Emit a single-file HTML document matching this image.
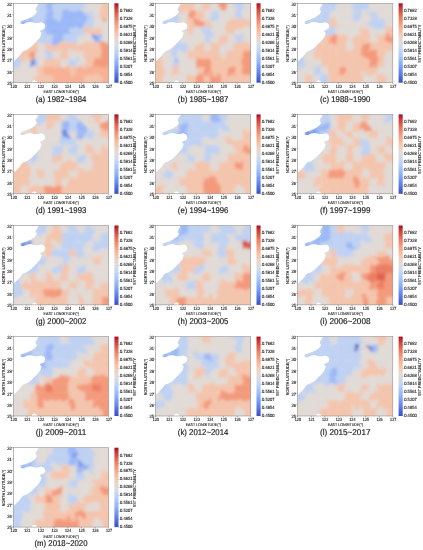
<!DOCTYPE html><html><head><meta charset="utf-8"><style>html,body{margin:0;padding:0;background:#fff;}svg{display:block;text-rendering:geometricPrecision}.t{font-family:"Liberation Sans",sans-serif;font-size:4.7px;fill:#111;stroke:#111;stroke-width:0.12px}.al{font-family:"Liberation Sans",sans-serif;font-size:4.1px;fill:#111;stroke:#111;stroke-width:0.1px}.cap{font-family:"Liberation Sans",sans-serif;font-size:8.4px;fill:#222;stroke:#222;stroke-width:0.18px}</style></head><body>
<svg width="423" height="550" viewBox="0 0 423 550">
<defs>
<linearGradient id="cw" x1="0" y1="0" x2="0" y2="1"><stop offset="0.000" stop-color="#b40426"/><stop offset="0.050" stop-color="#c53334"/><stop offset="0.100" stop-color="#d65244"/><stop offset="0.150" stop-color="#e36c55"/><stop offset="0.200" stop-color="#ee8468"/><stop offset="0.250" stop-color="#f4987a"/><stop offset="0.300" stop-color="#f7ac8e"/><stop offset="0.350" stop-color="#f6bda2"/><stop offset="0.400" stop-color="#f2cbb7"/><stop offset="0.450" stop-color="#e9d5cb"/><stop offset="0.500" stop-color="#dddcdc"/><stop offset="0.550" stop-color="#cfdaea"/><stop offset="0.600" stop-color="#c0d4f5"/><stop offset="0.650" stop-color="#afcafc"/><stop offset="0.700" stop-color="#9ebeff"/><stop offset="0.750" stop-color="#8db0fe"/><stop offset="0.800" stop-color="#7b9ff9"/><stop offset="0.850" stop-color="#6a8bef"/><stop offset="0.900" stop-color="#5977e3"/><stop offset="0.950" stop-color="#4961d2"/><stop offset="1.000" stop-color="#3b4cc0"/></linearGradient>
<clipPath id="clip"><rect x="13.3" y="3.3" width="95.3" height="79.4"/></clipPath>
<filter id="bl" x="-10%" y="-10%" width="120%" height="120%"><feTurbulence type="fractalNoise" baseFrequency="0.12" numOctaves="2" seed="3" result="n"/><feDisplacementMap in="SourceGraphic" in2="n" scale="9" xChannelSelector="R" yChannelSelector="G" result="d"/><feGaussianBlur in="d" stdDeviation="1.8"/></filter>
</defs>
<rect width="423" height="550" fill="#fff"/>
<g transform="translate(0.0,0.0)">
<g clip-path="url(#clip)">
<g filter="url(#bl)">
<rect x="9.30" y="-0.70" width="12.24" height="12.24" fill="#cfd9ea"/>
<rect x="21.24" y="-0.70" width="8.24" height="12.24" fill="#cfd9ea"/>
<rect x="29.18" y="-0.70" width="8.24" height="12.24" fill="#cfd9ea"/>
<rect x="37.12" y="-0.70" width="8.24" height="12.24" fill="#bfd1f2"/>
<rect x="45.07" y="-0.70" width="8.24" height="12.24" fill="#9bb8f6"/>
<rect x="53.01" y="-0.70" width="8.24" height="12.24" fill="#bfd1f2"/>
<rect x="60.95" y="-0.70" width="8.24" height="12.24" fill="#bfd1f2"/>
<rect x="68.89" y="-0.70" width="8.24" height="12.24" fill="#bfd1f2"/>
<rect x="76.83" y="-0.70" width="8.24" height="12.24" fill="#bfd1f2"/>
<rect x="84.77" y="-0.70" width="8.24" height="12.24" fill="#e1dad6"/>
<rect x="92.72" y="-0.70" width="8.24" height="12.24" fill="#e1dad6"/>
<rect x="100.66" y="-0.70" width="12.24" height="12.24" fill="#f4c5ad"/>
<rect x="9.30" y="11.24" width="12.24" height="8.24" fill="#cfd9ea"/>
<rect x="21.24" y="11.24" width="8.24" height="8.24" fill="#cfd9ea"/>
<rect x="29.18" y="11.24" width="8.24" height="8.24" fill="#bfd1f2"/>
<rect x="37.12" y="11.24" width="8.24" height="8.24" fill="#bfd1f2"/>
<rect x="45.07" y="11.24" width="8.24" height="8.24" fill="#9bb8f6"/>
<rect x="53.01" y="11.24" width="8.24" height="8.24" fill="#bfd1f2"/>
<rect x="60.95" y="11.24" width="8.24" height="8.24" fill="#9bb8f6"/>
<rect x="68.89" y="11.24" width="8.24" height="8.24" fill="#9bb8f6"/>
<rect x="76.83" y="11.24" width="8.24" height="8.24" fill="#9bb8f6"/>
<rect x="84.77" y="11.24" width="8.24" height="8.24" fill="#bfd1f2"/>
<rect x="92.72" y="11.24" width="8.24" height="8.24" fill="#e1dad6"/>
<rect x="100.66" y="11.24" width="12.24" height="8.24" fill="#f4c5ad"/>
<rect x="9.30" y="19.18" width="12.24" height="8.24" fill="#cfd9ea"/>
<rect x="21.24" y="19.18" width="8.24" height="8.24" fill="#9bb8f6"/>
<rect x="29.18" y="19.18" width="8.24" height="8.24" fill="#bfd1f2"/>
<rect x="37.12" y="19.18" width="8.24" height="8.24" fill="#bfd1f2"/>
<rect x="45.07" y="19.18" width="8.24" height="8.24" fill="#9bb8f6"/>
<rect x="53.01" y="19.18" width="8.24" height="8.24" fill="#9bb8f6"/>
<rect x="60.95" y="19.18" width="8.24" height="8.24" fill="#9bb8f6"/>
<rect x="68.89" y="19.18" width="8.24" height="8.24" fill="#9bb8f6"/>
<rect x="76.83" y="19.18" width="8.24" height="8.24" fill="#9bb8f6"/>
<rect x="84.77" y="19.18" width="8.24" height="8.24" fill="#bfd1f2"/>
<rect x="92.72" y="19.18" width="8.24" height="8.24" fill="#e1dad6"/>
<rect x="100.66" y="19.18" width="12.24" height="8.24" fill="#e1dad6"/>
<rect x="9.30" y="27.12" width="12.24" height="8.24" fill="#cfd9ea"/>
<rect x="21.24" y="27.12" width="8.24" height="8.24" fill="#cfd9ea"/>
<rect x="29.18" y="27.12" width="8.24" height="8.24" fill="#cfd9ea"/>
<rect x="37.12" y="27.12" width="8.24" height="8.24" fill="#bfd1f2"/>
<rect x="45.07" y="27.12" width="8.24" height="8.24" fill="#9bb8f6"/>
<rect x="53.01" y="27.12" width="8.24" height="8.24" fill="#9bb8f6"/>
<rect x="60.95" y="27.12" width="8.24" height="8.24" fill="#9bb8f6"/>
<rect x="68.89" y="27.12" width="8.24" height="8.24" fill="#bfd1f2"/>
<rect x="76.83" y="27.12" width="8.24" height="8.24" fill="#bfd1f2"/>
<rect x="84.77" y="27.12" width="8.24" height="8.24" fill="#f4c5ad"/>
<rect x="92.72" y="27.12" width="8.24" height="8.24" fill="#f4c5ad"/>
<rect x="100.66" y="27.12" width="12.24" height="8.24" fill="#e1dad6"/>
<rect x="9.30" y="35.06" width="12.24" height="8.24" fill="#cfd9ea"/>
<rect x="21.24" y="35.06" width="8.24" height="8.24" fill="#cfd9ea"/>
<rect x="29.18" y="35.06" width="8.24" height="8.24" fill="#bfd1f2"/>
<rect x="37.12" y="35.06" width="8.24" height="8.24" fill="#bfd1f2"/>
<rect x="45.07" y="35.06" width="8.24" height="8.24" fill="#bfd1f2"/>
<rect x="53.01" y="35.06" width="8.24" height="8.24" fill="#9bb8f6"/>
<rect x="60.95" y="35.06" width="8.24" height="8.24" fill="#bfd1f2"/>
<rect x="68.89" y="35.06" width="8.24" height="8.24" fill="#bfd1f2"/>
<rect x="76.83" y="35.06" width="8.24" height="8.24" fill="#e1dad6"/>
<rect x="84.77" y="35.06" width="8.24" height="8.24" fill="#e1dad6"/>
<rect x="92.72" y="35.06" width="8.24" height="8.24" fill="#9bb8f6"/>
<rect x="100.66" y="35.06" width="12.24" height="8.24" fill="#e1dad6"/>
<rect x="9.30" y="43.00" width="12.24" height="8.24" fill="#cfd9ea"/>
<rect x="21.24" y="43.00" width="8.24" height="8.24" fill="#f4c5ad"/>
<rect x="29.18" y="43.00" width="8.24" height="8.24" fill="#f4c5ad"/>
<rect x="37.12" y="43.00" width="8.24" height="8.24" fill="#e1dad6"/>
<rect x="45.07" y="43.00" width="8.24" height="8.24" fill="#f4c5ad"/>
<rect x="53.01" y="43.00" width="8.24" height="8.24" fill="#f4c5ad"/>
<rect x="60.95" y="43.00" width="8.24" height="8.24" fill="#f4c5ad"/>
<rect x="68.89" y="43.00" width="8.24" height="8.24" fill="#f4c5ad"/>
<rect x="76.83" y="43.00" width="8.24" height="8.24" fill="#f4c5ad"/>
<rect x="84.77" y="43.00" width="8.24" height="8.24" fill="#f4c5ad"/>
<rect x="92.72" y="43.00" width="8.24" height="8.24" fill="#f4c5ad"/>
<rect x="100.66" y="43.00" width="12.24" height="8.24" fill="#f49a7b"/>
<rect x="9.30" y="50.94" width="12.24" height="8.24" fill="#bfd1f2"/>
<rect x="21.24" y="50.94" width="8.24" height="8.24" fill="#f4c5ad"/>
<rect x="29.18" y="50.94" width="8.24" height="8.24" fill="#f49a7b"/>
<rect x="37.12" y="50.94" width="8.24" height="8.24" fill="#e1dad6"/>
<rect x="45.07" y="50.94" width="8.24" height="8.24" fill="#bfd1f2"/>
<rect x="53.01" y="50.94" width="8.24" height="8.24" fill="#e1dad6"/>
<rect x="60.95" y="50.94" width="8.24" height="8.24" fill="#f4c5ad"/>
<rect x="68.89" y="50.94" width="8.24" height="8.24" fill="#e1dad6"/>
<rect x="76.83" y="50.94" width="8.24" height="8.24" fill="#e1dad6"/>
<rect x="84.77" y="50.94" width="8.24" height="8.24" fill="#f4c5ad"/>
<rect x="92.72" y="50.94" width="8.24" height="8.24" fill="#f4c5ad"/>
<rect x="100.66" y="50.94" width="12.24" height="8.24" fill="#f49a7b"/>
<rect x="9.30" y="58.88" width="12.24" height="8.24" fill="#bfd1f2"/>
<rect x="21.24" y="58.88" width="8.24" height="8.24" fill="#e1dad6"/>
<rect x="29.18" y="58.88" width="8.24" height="8.24" fill="#9bb8f6"/>
<rect x="37.12" y="58.88" width="8.24" height="8.24" fill="#e1dad6"/>
<rect x="45.07" y="58.88" width="8.24" height="8.24" fill="#f4c5ad"/>
<rect x="53.01" y="58.88" width="8.24" height="8.24" fill="#f4c5ad"/>
<rect x="60.95" y="58.88" width="8.24" height="8.24" fill="#e1dad6"/>
<rect x="68.89" y="58.88" width="8.24" height="8.24" fill="#bfd1f2"/>
<rect x="76.83" y="58.88" width="8.24" height="8.24" fill="#e1dad6"/>
<rect x="84.77" y="58.88" width="8.24" height="8.24" fill="#f4c5ad"/>
<rect x="92.72" y="58.88" width="8.24" height="8.24" fill="#f49a7b"/>
<rect x="100.66" y="58.88" width="12.24" height="8.24" fill="#f49a7b"/>
<rect x="9.30" y="66.82" width="12.24" height="8.24" fill="#e1dad6"/>
<rect x="21.24" y="66.82" width="8.24" height="8.24" fill="#e1dad6"/>
<rect x="29.18" y="66.82" width="8.24" height="8.24" fill="#e1dad6"/>
<rect x="37.12" y="66.82" width="8.24" height="8.24" fill="#f4c5ad"/>
<rect x="45.07" y="66.82" width="8.24" height="8.24" fill="#f7b194"/>
<rect x="53.01" y="66.82" width="8.24" height="8.24" fill="#f7b194"/>
<rect x="60.95" y="66.82" width="8.24" height="8.24" fill="#f7b194"/>
<rect x="68.89" y="66.82" width="8.24" height="8.24" fill="#f4c5ad"/>
<rect x="76.83" y="66.82" width="8.24" height="8.24" fill="#f7b194"/>
<rect x="84.77" y="66.82" width="8.24" height="8.24" fill="#f7b194"/>
<rect x="92.72" y="66.82" width="8.24" height="8.24" fill="#f7b194"/>
<rect x="100.66" y="66.82" width="12.24" height="8.24" fill="#f7b194"/>
<rect x="9.30" y="74.76" width="12.24" height="12.24" fill="#e1dad6"/>
<rect x="21.24" y="74.76" width="8.24" height="12.24" fill="#e1dad6"/>
<rect x="29.18" y="74.76" width="8.24" height="12.24" fill="#e1dad6"/>
<rect x="37.12" y="74.76" width="8.24" height="12.24" fill="#f4c5ad"/>
<rect x="45.07" y="74.76" width="8.24" height="12.24" fill="#f4c5ad"/>
<rect x="53.01" y="74.76" width="8.24" height="12.24" fill="#f7b194"/>
<rect x="60.95" y="74.76" width="8.24" height="12.24" fill="#f7b194"/>
<rect x="68.89" y="74.76" width="8.24" height="12.24" fill="#f7b194"/>
<rect x="76.83" y="74.76" width="8.24" height="12.24" fill="#f7b194"/>
<rect x="84.77" y="74.76" width="8.24" height="12.24" fill="#f4c5ad"/>
<rect x="92.72" y="74.76" width="8.24" height="12.24" fill="#f4c5ad"/>
<rect x="100.66" y="74.76" width="12.24" height="12.24" fill="#f7b194"/>
<circle cx="31.2" cy="61.9" r="1.6" fill="#3e4db3"/>
<circle cx="94.5" cy="36.5" r="2" fill="#7392e7"/>
<circle cx="104.6" cy="20.5" r="1.5" fill="#ec7f63"/>
</g>
<polygon points="13.3,3.3 38.6,3.3 37.3,5.8 35.8,8.0 35.4,9.7 37.0,11.6 35.0,14.6 31.7,17.0 27.0,19.0 23.2,20.4 20.6,21.3 20.5,23.3 21.3,23.9 23.7,23.9 27.0,22.3 30.8,21.9 34.6,23.0 38.3,23.0 41.2,22.2 44.0,23.4 45.2,25.8 44.4,28.6 41.6,30.2 39.5,30.8 41.6,33.0 40.3,37.2 36.4,41.6 33.7,44.3 30.4,47.6 26.1,50.3 22.8,51.4 19.5,55.8 15.2,60.1 13.3,61.8" fill="#fff"/><polygon points="31.8,82.7 32.5,81 34.5,80.3 36.5,81.2 37.2,82.7" fill="#fff"/>
</g>
<rect x="13.3" y="3.3" width="95.3" height="79.4" fill="none" stroke="#8a8a8a" stroke-width="0.55"/>
<text x="11.8" y="84.90" class="t" text-anchor="end" textLength="4.5" lengthAdjust="spacingAndGlyphs">25</text>
<line x1="12.100000000000001" x2="13.3" y1="82.70" y2="82.70" stroke="#444" stroke-width="0.4"/>
<text x="11.8" y="73.56" class="t" text-anchor="end" textLength="4.5" lengthAdjust="spacingAndGlyphs">26</text>
<line x1="12.100000000000001" x2="13.3" y1="71.36" y2="71.36" stroke="#444" stroke-width="0.4"/>
<text x="11.8" y="62.21" class="t" text-anchor="end" textLength="4.5" lengthAdjust="spacingAndGlyphs">27</text>
<line x1="12.100000000000001" x2="13.3" y1="60.01" y2="60.01" stroke="#444" stroke-width="0.4"/>
<text x="11.8" y="50.87" class="t" text-anchor="end" textLength="4.5" lengthAdjust="spacingAndGlyphs">28</text>
<line x1="12.100000000000001" x2="13.3" y1="48.67" y2="48.67" stroke="#444" stroke-width="0.4"/>
<text x="11.8" y="39.53" class="t" text-anchor="end" textLength="4.5" lengthAdjust="spacingAndGlyphs">29</text>
<line x1="12.100000000000001" x2="13.3" y1="37.33" y2="37.33" stroke="#444" stroke-width="0.4"/>
<text x="11.8" y="28.19" class="t" text-anchor="end" textLength="4.5" lengthAdjust="spacingAndGlyphs">30</text>
<line x1="12.100000000000001" x2="13.3" y1="25.99" y2="25.99" stroke="#444" stroke-width="0.4"/>
<text x="11.8" y="16.84" class="t" text-anchor="end" textLength="4.5" lengthAdjust="spacingAndGlyphs">31</text>
<line x1="12.100000000000001" x2="13.3" y1="14.64" y2="14.64" stroke="#444" stroke-width="0.4"/>
<text x="11.8" y="5.50" class="t" text-anchor="end" textLength="4.5" lengthAdjust="spacingAndGlyphs">32</text>
<line x1="12.100000000000001" x2="13.3" y1="3.30" y2="3.30" stroke="#444" stroke-width="0.4"/>
<text x="13.70" y="87.70" class="t" text-anchor="middle" textLength="6.2" lengthAdjust="spacingAndGlyphs">120</text>
<line y1="82.7" y2="83.9" x1="13.30" x2="13.30" stroke="#444" stroke-width="0.4"/>
<text x="27.31" y="87.70" class="t" text-anchor="middle" textLength="6.2" lengthAdjust="spacingAndGlyphs">121</text>
<line y1="82.7" y2="83.9" x1="26.91" x2="26.91" stroke="#444" stroke-width="0.4"/>
<text x="40.93" y="87.70" class="t" text-anchor="middle" textLength="6.2" lengthAdjust="spacingAndGlyphs">122</text>
<line y1="82.7" y2="83.9" x1="40.53" x2="40.53" stroke="#444" stroke-width="0.4"/>
<text x="54.54" y="87.70" class="t" text-anchor="middle" textLength="6.2" lengthAdjust="spacingAndGlyphs">123</text>
<line y1="82.7" y2="83.9" x1="54.14" x2="54.14" stroke="#444" stroke-width="0.4"/>
<text x="68.16" y="87.70" class="t" text-anchor="middle" textLength="6.2" lengthAdjust="spacingAndGlyphs">124</text>
<line y1="82.7" y2="83.9" x1="67.76" x2="67.76" stroke="#444" stroke-width="0.4"/>
<text x="81.77" y="87.70" class="t" text-anchor="middle" textLength="6.2" lengthAdjust="spacingAndGlyphs">125</text>
<line y1="82.7" y2="83.9" x1="81.37" x2="81.37" stroke="#444" stroke-width="0.4"/>
<text x="95.39" y="87.70" class="t" text-anchor="middle" textLength="6.2" lengthAdjust="spacingAndGlyphs">126</text>
<line y1="82.7" y2="83.9" x1="94.99" x2="94.99" stroke="#444" stroke-width="0.4"/>
<text x="109.00" y="87.70" class="t" text-anchor="middle" textLength="6.2" lengthAdjust="spacingAndGlyphs">127</text>
<line y1="82.7" y2="83.9" x1="108.60" x2="108.60" stroke="#444" stroke-width="0.4"/>
<text x="61.3" y="93.2" class="al" text-anchor="middle" textLength="35.5" lengthAdjust="spacingAndGlyphs">EAST LONGITUDE(°)</text>
<text transform="translate(4.6,43.6) rotate(-90)" class="al" text-anchor="middle" textLength="36.5" lengthAdjust="spacingAndGlyphs">NORTH LATITUDE(°)</text>
<rect x="114.4" y="3.3" width="4.1" height="79.4" fill="url(#cw)"/>
<text x="120.00" y="83.65" class="t" textLength="12.5" lengthAdjust="spacingAndGlyphs">0.4500</text>
<line x1="118.5" x2="119.5" y1="82.70" y2="82.70" stroke="#444" stroke-width="0.4"/>
<text x="120.00" y="75.71" class="t" textLength="12.5" lengthAdjust="spacingAndGlyphs">0.4854</text>
<line x1="118.5" x2="119.5" y1="74.76" y2="74.76" stroke="#444" stroke-width="0.4"/>
<text x="120.00" y="67.77" class="t" textLength="12.5" lengthAdjust="spacingAndGlyphs">0.5207</text>
<line x1="118.5" x2="119.5" y1="66.82" y2="66.82" stroke="#444" stroke-width="0.4"/>
<text x="120.00" y="59.83" class="t" textLength="12.5" lengthAdjust="spacingAndGlyphs">0.5561</text>
<line x1="118.5" x2="119.5" y1="58.88" y2="58.88" stroke="#444" stroke-width="0.4"/>
<text x="120.00" y="51.89" class="t" textLength="12.5" lengthAdjust="spacingAndGlyphs">0.5914</text>
<line x1="118.5" x2="119.5" y1="50.94" y2="50.94" stroke="#444" stroke-width="0.4"/>
<text x="120.00" y="43.95" class="t" textLength="12.5" lengthAdjust="spacingAndGlyphs">0.6268</text>
<line x1="118.5" x2="119.5" y1="43.00" y2="43.00" stroke="#444" stroke-width="0.4"/>
<text x="120.00" y="36.01" class="t" textLength="12.5" lengthAdjust="spacingAndGlyphs">0.6621</text>
<line x1="118.5" x2="119.5" y1="35.06" y2="35.06" stroke="#444" stroke-width="0.4"/>
<text x="120.00" y="28.07" class="t" textLength="12.5" lengthAdjust="spacingAndGlyphs">0.6975</text>
<line x1="118.5" x2="119.5" y1="27.12" y2="27.12" stroke="#444" stroke-width="0.4"/>
<text x="120.00" y="20.13" class="t" textLength="12.5" lengthAdjust="spacingAndGlyphs">0.7328</text>
<line x1="118.5" x2="119.5" y1="19.18" y2="19.18" stroke="#444" stroke-width="0.4"/>
<text x="120.00" y="12.19" class="t" textLength="12.5" lengthAdjust="spacingAndGlyphs">0.7682</text>
<line x1="118.5" x2="119.5" y1="11.24" y2="11.24" stroke="#444" stroke-width="0.4"/>
<text transform="translate(136.4,43.8) rotate(-90)" class="al" text-anchor="middle" textLength="38" lengthAdjust="spacingAndGlyphs">SST PREDICTABILITY</text>
<text x="61" y="101.9" class="cap" text-anchor="middle" textLength="50.5" lengthAdjust="spacingAndGlyphs">(a) 1982~1984</text>
</g>
<g transform="translate(142.1,0.0)">
<g clip-path="url(#clip)">
<g filter="url(#bl)">
<rect x="9.30" y="-0.70" width="12.24" height="12.24" fill="#cfd9ea"/>
<rect x="21.24" y="-0.70" width="8.24" height="12.24" fill="#cfd9ea"/>
<rect x="29.18" y="-0.70" width="8.24" height="12.24" fill="#cfd9ea"/>
<rect x="37.12" y="-0.70" width="8.24" height="12.24" fill="#f4c5ad"/>
<rect x="45.07" y="-0.70" width="8.24" height="12.24" fill="#f4c5ad"/>
<rect x="53.01" y="-0.70" width="8.24" height="12.24" fill="#e1dad6"/>
<rect x="60.95" y="-0.70" width="8.24" height="12.24" fill="#f4c5ad"/>
<rect x="68.89" y="-0.70" width="8.24" height="12.24" fill="#e1dad6"/>
<rect x="76.83" y="-0.70" width="8.24" height="12.24" fill="#f49a7b"/>
<rect x="84.77" y="-0.70" width="8.24" height="12.24" fill="#e1dad6"/>
<rect x="92.72" y="-0.70" width="8.24" height="12.24" fill="#bfd1f2"/>
<rect x="100.66" y="-0.70" width="12.24" height="12.24" fill="#e1dad6"/>
<rect x="9.30" y="11.24" width="12.24" height="8.24" fill="#cfd9ea"/>
<rect x="21.24" y="11.24" width="8.24" height="8.24" fill="#cfd9ea"/>
<rect x="29.18" y="11.24" width="8.24" height="8.24" fill="#bfd1f2"/>
<rect x="37.12" y="11.24" width="8.24" height="8.24" fill="#e1dad6"/>
<rect x="45.07" y="11.24" width="8.24" height="8.24" fill="#f49a7b"/>
<rect x="53.01" y="11.24" width="8.24" height="8.24" fill="#f4c5ad"/>
<rect x="60.95" y="11.24" width="8.24" height="8.24" fill="#e1dad6"/>
<rect x="68.89" y="11.24" width="8.24" height="8.24" fill="#bfd1f2"/>
<rect x="76.83" y="11.24" width="8.24" height="8.24" fill="#e1dad6"/>
<rect x="84.77" y="11.24" width="8.24" height="8.24" fill="#e1dad6"/>
<rect x="92.72" y="11.24" width="8.24" height="8.24" fill="#bfd1f2"/>
<rect x="100.66" y="11.24" width="12.24" height="8.24" fill="#e1dad6"/>
<rect x="9.30" y="19.18" width="12.24" height="8.24" fill="#cfd9ea"/>
<rect x="21.24" y="19.18" width="8.24" height="8.24" fill="#bfd1f2"/>
<rect x="29.18" y="19.18" width="8.24" height="8.24" fill="#bfd1f2"/>
<rect x="37.12" y="19.18" width="8.24" height="8.24" fill="#e1dad6"/>
<rect x="45.07" y="19.18" width="8.24" height="8.24" fill="#f4c5ad"/>
<rect x="53.01" y="19.18" width="8.24" height="8.24" fill="#f49a7b"/>
<rect x="60.95" y="19.18" width="8.24" height="8.24" fill="#f4c5ad"/>
<rect x="68.89" y="19.18" width="8.24" height="8.24" fill="#e1dad6"/>
<rect x="76.83" y="19.18" width="8.24" height="8.24" fill="#e1dad6"/>
<rect x="84.77" y="19.18" width="8.24" height="8.24" fill="#f4c5ad"/>
<rect x="92.72" y="19.18" width="8.24" height="8.24" fill="#f4c5ad"/>
<rect x="100.66" y="19.18" width="12.24" height="8.24" fill="#f4c5ad"/>
<rect x="9.30" y="27.12" width="12.24" height="8.24" fill="#cfd9ea"/>
<rect x="21.24" y="27.12" width="8.24" height="8.24" fill="#cfd9ea"/>
<rect x="29.18" y="27.12" width="8.24" height="8.24" fill="#cfd9ea"/>
<rect x="37.12" y="27.12" width="8.24" height="8.24" fill="#e1dad6"/>
<rect x="45.07" y="27.12" width="8.24" height="8.24" fill="#f4c5ad"/>
<rect x="53.01" y="27.12" width="8.24" height="8.24" fill="#e1dad6"/>
<rect x="60.95" y="27.12" width="8.24" height="8.24" fill="#bfd1f2"/>
<rect x="68.89" y="27.12" width="8.24" height="8.24" fill="#e1dad6"/>
<rect x="76.83" y="27.12" width="8.24" height="8.24" fill="#e1dad6"/>
<rect x="84.77" y="27.12" width="8.24" height="8.24" fill="#f4c5ad"/>
<rect x="92.72" y="27.12" width="8.24" height="8.24" fill="#e1dad6"/>
<rect x="100.66" y="27.12" width="12.24" height="8.24" fill="#e1dad6"/>
<rect x="9.30" y="35.06" width="12.24" height="8.24" fill="#cfd9ea"/>
<rect x="21.24" y="35.06" width="8.24" height="8.24" fill="#cfd9ea"/>
<rect x="29.18" y="35.06" width="8.24" height="8.24" fill="#bfd1f2"/>
<rect x="37.12" y="35.06" width="8.24" height="8.24" fill="#e1dad6"/>
<rect x="45.07" y="35.06" width="8.24" height="8.24" fill="#e1dad6"/>
<rect x="53.01" y="35.06" width="8.24" height="8.24" fill="#e1dad6"/>
<rect x="60.95" y="35.06" width="8.24" height="8.24" fill="#bfd1f2"/>
<rect x="68.89" y="35.06" width="8.24" height="8.24" fill="#e1dad6"/>
<rect x="76.83" y="35.06" width="8.24" height="8.24" fill="#f4c5ad"/>
<rect x="84.77" y="35.06" width="8.24" height="8.24" fill="#e1dad6"/>
<rect x="92.72" y="35.06" width="8.24" height="8.24" fill="#bfd1f2"/>
<rect x="100.66" y="35.06" width="12.24" height="8.24" fill="#e1dad6"/>
<rect x="9.30" y="43.00" width="12.24" height="8.24" fill="#cfd9ea"/>
<rect x="21.24" y="43.00" width="8.24" height="8.24" fill="#cfd9ea"/>
<rect x="29.18" y="43.00" width="8.24" height="8.24" fill="#bfd1f2"/>
<rect x="37.12" y="43.00" width="8.24" height="8.24" fill="#bfd1f2"/>
<rect x="45.07" y="43.00" width="8.24" height="8.24" fill="#e1dad6"/>
<rect x="53.01" y="43.00" width="8.24" height="8.24" fill="#f4c5ad"/>
<rect x="60.95" y="43.00" width="8.24" height="8.24" fill="#e1dad6"/>
<rect x="68.89" y="43.00" width="8.24" height="8.24" fill="#f4c5ad"/>
<rect x="76.83" y="43.00" width="8.24" height="8.24" fill="#e1dad6"/>
<rect x="84.77" y="43.00" width="8.24" height="8.24" fill="#e1dad6"/>
<rect x="92.72" y="43.00" width="8.24" height="8.24" fill="#f4c5ad"/>
<rect x="100.66" y="43.00" width="12.24" height="8.24" fill="#f4c5ad"/>
<rect x="9.30" y="50.94" width="12.24" height="8.24" fill="#f4c5ad"/>
<rect x="21.24" y="50.94" width="8.24" height="8.24" fill="#e1dad6"/>
<rect x="29.18" y="50.94" width="8.24" height="8.24" fill="#bfd1f2"/>
<rect x="37.12" y="50.94" width="8.24" height="8.24" fill="#e1dad6"/>
<rect x="45.07" y="50.94" width="8.24" height="8.24" fill="#f4c5ad"/>
<rect x="53.01" y="50.94" width="8.24" height="8.24" fill="#f4c5ad"/>
<rect x="60.95" y="50.94" width="8.24" height="8.24" fill="#f4c5ad"/>
<rect x="68.89" y="50.94" width="8.24" height="8.24" fill="#f4c5ad"/>
<rect x="76.83" y="50.94" width="8.24" height="8.24" fill="#e1dad6"/>
<rect x="84.77" y="50.94" width="8.24" height="8.24" fill="#f4c5ad"/>
<rect x="92.72" y="50.94" width="8.24" height="8.24" fill="#f4c5ad"/>
<rect x="100.66" y="50.94" width="12.24" height="8.24" fill="#f49a7b"/>
<rect x="9.30" y="58.88" width="12.24" height="8.24" fill="#f4c5ad"/>
<rect x="21.24" y="58.88" width="8.24" height="8.24" fill="#e1dad6"/>
<rect x="29.18" y="58.88" width="8.24" height="8.24" fill="#bfd1f2"/>
<rect x="37.12" y="58.88" width="8.24" height="8.24" fill="#e1dad6"/>
<rect x="45.07" y="58.88" width="8.24" height="8.24" fill="#e1dad6"/>
<rect x="53.01" y="58.88" width="8.24" height="8.24" fill="#f49a7b"/>
<rect x="60.95" y="58.88" width="8.24" height="8.24" fill="#f49a7b"/>
<rect x="68.89" y="58.88" width="8.24" height="8.24" fill="#f4c5ad"/>
<rect x="76.83" y="58.88" width="8.24" height="8.24" fill="#f4c5ad"/>
<rect x="84.77" y="58.88" width="8.24" height="8.24" fill="#f4c5ad"/>
<rect x="92.72" y="58.88" width="8.24" height="8.24" fill="#f4c5ad"/>
<rect x="100.66" y="58.88" width="12.24" height="8.24" fill="#f49a7b"/>
<rect x="9.30" y="66.82" width="12.24" height="8.24" fill="#f4c5ad"/>
<rect x="21.24" y="66.82" width="8.24" height="8.24" fill="#e1dad6"/>
<rect x="29.18" y="66.82" width="8.24" height="8.24" fill="#f4c5ad"/>
<rect x="37.12" y="66.82" width="8.24" height="8.24" fill="#e1dad6"/>
<rect x="45.07" y="66.82" width="8.24" height="8.24" fill="#e1dad6"/>
<rect x="53.01" y="66.82" width="8.24" height="8.24" fill="#f4c5ad"/>
<rect x="60.95" y="66.82" width="8.24" height="8.24" fill="#f49a7b"/>
<rect x="68.89" y="66.82" width="8.24" height="8.24" fill="#f4c5ad"/>
<rect x="76.83" y="66.82" width="8.24" height="8.24" fill="#f4c5ad"/>
<rect x="84.77" y="66.82" width="8.24" height="8.24" fill="#f49a7b"/>
<rect x="92.72" y="66.82" width="8.24" height="8.24" fill="#f4c5ad"/>
<rect x="100.66" y="66.82" width="12.24" height="8.24" fill="#f49a7b"/>
<rect x="9.30" y="74.76" width="12.24" height="12.24" fill="#f4c5ad"/>
<rect x="21.24" y="74.76" width="8.24" height="12.24" fill="#e1dad6"/>
<rect x="29.18" y="74.76" width="8.24" height="12.24" fill="#e1dad6"/>
<rect x="37.12" y="74.76" width="8.24" height="12.24" fill="#e1dad6"/>
<rect x="45.07" y="74.76" width="8.24" height="12.24" fill="#f4c5ad"/>
<rect x="53.01" y="74.76" width="8.24" height="12.24" fill="#f49a7b"/>
<rect x="60.95" y="74.76" width="8.24" height="12.24" fill="#f4c5ad"/>
<rect x="68.89" y="74.76" width="8.24" height="12.24" fill="#f49a7b"/>
<rect x="76.83" y="74.76" width="8.24" height="12.24" fill="#f4c5ad"/>
<rect x="84.77" y="74.76" width="8.24" height="12.24" fill="#f4c5ad"/>
<rect x="92.72" y="74.76" width="8.24" height="12.24" fill="#f4c5ad"/>
<rect x="100.66" y="74.76" width="12.24" height="12.24" fill="#f4c5ad"/>
<circle cx="34.7" cy="61.2" r="1.5" fill="#7392e7"/>
</g>
<polygon points="13.3,3.3 38.6,3.3 37.3,5.8 35.8,8.0 35.4,9.7 37.0,11.6 35.0,14.6 31.7,17.0 27.0,19.0 23.2,20.4 20.6,21.3 20.5,23.3 21.3,23.9 23.7,23.9 27.0,22.3 30.8,21.9 34.6,23.0 38.3,23.0 41.2,22.2 44.0,23.4 45.2,25.8 44.4,28.6 41.6,30.2 39.5,30.8 41.6,33.0 40.3,37.2 36.4,41.6 33.7,44.3 30.4,47.6 26.1,50.3 22.8,51.4 19.5,55.8 15.2,60.1 13.3,61.8" fill="#fff"/><polygon points="31.8,82.7 32.5,81 34.5,80.3 36.5,81.2 37.2,82.7" fill="#fff"/>
</g>
<rect x="13.3" y="3.3" width="95.3" height="79.4" fill="none" stroke="#8a8a8a" stroke-width="0.55"/>
<text x="11.8" y="84.90" class="t" text-anchor="end" textLength="4.5" lengthAdjust="spacingAndGlyphs">25</text>
<line x1="12.100000000000001" x2="13.3" y1="82.70" y2="82.70" stroke="#444" stroke-width="0.4"/>
<text x="11.8" y="73.56" class="t" text-anchor="end" textLength="4.5" lengthAdjust="spacingAndGlyphs">26</text>
<line x1="12.100000000000001" x2="13.3" y1="71.36" y2="71.36" stroke="#444" stroke-width="0.4"/>
<text x="11.8" y="62.21" class="t" text-anchor="end" textLength="4.5" lengthAdjust="spacingAndGlyphs">27</text>
<line x1="12.100000000000001" x2="13.3" y1="60.01" y2="60.01" stroke="#444" stroke-width="0.4"/>
<text x="11.8" y="50.87" class="t" text-anchor="end" textLength="4.5" lengthAdjust="spacingAndGlyphs">28</text>
<line x1="12.100000000000001" x2="13.3" y1="48.67" y2="48.67" stroke="#444" stroke-width="0.4"/>
<text x="11.8" y="39.53" class="t" text-anchor="end" textLength="4.5" lengthAdjust="spacingAndGlyphs">29</text>
<line x1="12.100000000000001" x2="13.3" y1="37.33" y2="37.33" stroke="#444" stroke-width="0.4"/>
<text x="11.8" y="28.19" class="t" text-anchor="end" textLength="4.5" lengthAdjust="spacingAndGlyphs">30</text>
<line x1="12.100000000000001" x2="13.3" y1="25.99" y2="25.99" stroke="#444" stroke-width="0.4"/>
<text x="11.8" y="16.84" class="t" text-anchor="end" textLength="4.5" lengthAdjust="spacingAndGlyphs">31</text>
<line x1="12.100000000000001" x2="13.3" y1="14.64" y2="14.64" stroke="#444" stroke-width="0.4"/>
<text x="11.8" y="5.50" class="t" text-anchor="end" textLength="4.5" lengthAdjust="spacingAndGlyphs">32</text>
<line x1="12.100000000000001" x2="13.3" y1="3.30" y2="3.30" stroke="#444" stroke-width="0.4"/>
<text x="13.70" y="87.70" class="t" text-anchor="middle" textLength="6.2" lengthAdjust="spacingAndGlyphs">120</text>
<line y1="82.7" y2="83.9" x1="13.30" x2="13.30" stroke="#444" stroke-width="0.4"/>
<text x="27.31" y="87.70" class="t" text-anchor="middle" textLength="6.2" lengthAdjust="spacingAndGlyphs">121</text>
<line y1="82.7" y2="83.9" x1="26.91" x2="26.91" stroke="#444" stroke-width="0.4"/>
<text x="40.93" y="87.70" class="t" text-anchor="middle" textLength="6.2" lengthAdjust="spacingAndGlyphs">122</text>
<line y1="82.7" y2="83.9" x1="40.53" x2="40.53" stroke="#444" stroke-width="0.4"/>
<text x="54.54" y="87.70" class="t" text-anchor="middle" textLength="6.2" lengthAdjust="spacingAndGlyphs">123</text>
<line y1="82.7" y2="83.9" x1="54.14" x2="54.14" stroke="#444" stroke-width="0.4"/>
<text x="68.16" y="87.70" class="t" text-anchor="middle" textLength="6.2" lengthAdjust="spacingAndGlyphs">124</text>
<line y1="82.7" y2="83.9" x1="67.76" x2="67.76" stroke="#444" stroke-width="0.4"/>
<text x="81.77" y="87.70" class="t" text-anchor="middle" textLength="6.2" lengthAdjust="spacingAndGlyphs">125</text>
<line y1="82.7" y2="83.9" x1="81.37" x2="81.37" stroke="#444" stroke-width="0.4"/>
<text x="95.39" y="87.70" class="t" text-anchor="middle" textLength="6.2" lengthAdjust="spacingAndGlyphs">126</text>
<line y1="82.7" y2="83.9" x1="94.99" x2="94.99" stroke="#444" stroke-width="0.4"/>
<text x="109.00" y="87.70" class="t" text-anchor="middle" textLength="6.2" lengthAdjust="spacingAndGlyphs">127</text>
<line y1="82.7" y2="83.9" x1="108.60" x2="108.60" stroke="#444" stroke-width="0.4"/>
<text x="61.3" y="93.2" class="al" text-anchor="middle" textLength="35.5" lengthAdjust="spacingAndGlyphs">EAST LONGITUDE(°)</text>
<text transform="translate(4.6,43.6) rotate(-90)" class="al" text-anchor="middle" textLength="36.5" lengthAdjust="spacingAndGlyphs">NORTH LATITUDE(°)</text>
<rect x="114.4" y="3.3" width="4.1" height="79.4" fill="url(#cw)"/>
<text x="120.00" y="83.65" class="t" textLength="12.5" lengthAdjust="spacingAndGlyphs">0.4500</text>
<line x1="118.5" x2="119.5" y1="82.70" y2="82.70" stroke="#444" stroke-width="0.4"/>
<text x="120.00" y="75.71" class="t" textLength="12.5" lengthAdjust="spacingAndGlyphs">0.4854</text>
<line x1="118.5" x2="119.5" y1="74.76" y2="74.76" stroke="#444" stroke-width="0.4"/>
<text x="120.00" y="67.77" class="t" textLength="12.5" lengthAdjust="spacingAndGlyphs">0.5207</text>
<line x1="118.5" x2="119.5" y1="66.82" y2="66.82" stroke="#444" stroke-width="0.4"/>
<text x="120.00" y="59.83" class="t" textLength="12.5" lengthAdjust="spacingAndGlyphs">0.5561</text>
<line x1="118.5" x2="119.5" y1="58.88" y2="58.88" stroke="#444" stroke-width="0.4"/>
<text x="120.00" y="51.89" class="t" textLength="12.5" lengthAdjust="spacingAndGlyphs">0.5914</text>
<line x1="118.5" x2="119.5" y1="50.94" y2="50.94" stroke="#444" stroke-width="0.4"/>
<text x="120.00" y="43.95" class="t" textLength="12.5" lengthAdjust="spacingAndGlyphs">0.6268</text>
<line x1="118.5" x2="119.5" y1="43.00" y2="43.00" stroke="#444" stroke-width="0.4"/>
<text x="120.00" y="36.01" class="t" textLength="12.5" lengthAdjust="spacingAndGlyphs">0.6621</text>
<line x1="118.5" x2="119.5" y1="35.06" y2="35.06" stroke="#444" stroke-width="0.4"/>
<text x="120.00" y="28.07" class="t" textLength="12.5" lengthAdjust="spacingAndGlyphs">0.6975</text>
<line x1="118.5" x2="119.5" y1="27.12" y2="27.12" stroke="#444" stroke-width="0.4"/>
<text x="120.00" y="20.13" class="t" textLength="12.5" lengthAdjust="spacingAndGlyphs">0.7328</text>
<line x1="118.5" x2="119.5" y1="19.18" y2="19.18" stroke="#444" stroke-width="0.4"/>
<text x="120.00" y="12.19" class="t" textLength="12.5" lengthAdjust="spacingAndGlyphs">0.7682</text>
<line x1="118.5" x2="119.5" y1="11.24" y2="11.24" stroke="#444" stroke-width="0.4"/>
<text transform="translate(136.4,43.8) rotate(-90)" class="al" text-anchor="middle" textLength="38" lengthAdjust="spacingAndGlyphs">SST PREDICTABILITY</text>
<text x="61" y="101.9" class="cap" text-anchor="middle" textLength="50.5" lengthAdjust="spacingAndGlyphs">(b) 1985~1987</text>
</g>
<g transform="translate(284.2,0.0)">
<g clip-path="url(#clip)">
<g filter="url(#bl)">
<rect x="9.30" y="-0.70" width="12.24" height="12.24" fill="#cfd9ea"/>
<rect x="21.24" y="-0.70" width="8.24" height="12.24" fill="#cfd9ea"/>
<rect x="29.18" y="-0.70" width="8.24" height="12.24" fill="#cfd9ea"/>
<rect x="37.12" y="-0.70" width="8.24" height="12.24" fill="#bfd1f2"/>
<rect x="45.07" y="-0.70" width="8.24" height="12.24" fill="#bfd1f2"/>
<rect x="53.01" y="-0.70" width="8.24" height="12.24" fill="#e1dad6"/>
<rect x="60.95" y="-0.70" width="8.24" height="12.24" fill="#e1dad6"/>
<rect x="68.89" y="-0.70" width="8.24" height="12.24" fill="#bfd1f2"/>
<rect x="76.83" y="-0.70" width="8.24" height="12.24" fill="#bfd1f2"/>
<rect x="84.77" y="-0.70" width="8.24" height="12.24" fill="#e1dad6"/>
<rect x="92.72" y="-0.70" width="8.24" height="12.24" fill="#e1dad6"/>
<rect x="100.66" y="-0.70" width="12.24" height="12.24" fill="#e1dad6"/>
<rect x="9.30" y="11.24" width="12.24" height="8.24" fill="#cfd9ea"/>
<rect x="21.24" y="11.24" width="8.24" height="8.24" fill="#cfd9ea"/>
<rect x="29.18" y="11.24" width="8.24" height="8.24" fill="#bfd1f2"/>
<rect x="37.12" y="11.24" width="8.24" height="8.24" fill="#bfd1f2"/>
<rect x="45.07" y="11.24" width="8.24" height="8.24" fill="#e1dad6"/>
<rect x="53.01" y="11.24" width="8.24" height="8.24" fill="#e1dad6"/>
<rect x="60.95" y="11.24" width="8.24" height="8.24" fill="#e1dad6"/>
<rect x="68.89" y="11.24" width="8.24" height="8.24" fill="#bfd1f2"/>
<rect x="76.83" y="11.24" width="8.24" height="8.24" fill="#e1dad6"/>
<rect x="84.77" y="11.24" width="8.24" height="8.24" fill="#bfd1f2"/>
<rect x="92.72" y="11.24" width="8.24" height="8.24" fill="#e1dad6"/>
<rect x="100.66" y="11.24" width="12.24" height="8.24" fill="#e1dad6"/>
<rect x="9.30" y="19.18" width="12.24" height="8.24" fill="#cfd9ea"/>
<rect x="21.24" y="19.18" width="8.24" height="8.24" fill="#bfd1f2"/>
<rect x="29.18" y="19.18" width="8.24" height="8.24" fill="#bfd1f2"/>
<rect x="37.12" y="19.18" width="8.24" height="8.24" fill="#bfd1f2"/>
<rect x="45.07" y="19.18" width="8.24" height="8.24" fill="#f4c5ad"/>
<rect x="53.01" y="19.18" width="8.24" height="8.24" fill="#e1dad6"/>
<rect x="60.95" y="19.18" width="8.24" height="8.24" fill="#e1dad6"/>
<rect x="68.89" y="19.18" width="8.24" height="8.24" fill="#e1dad6"/>
<rect x="76.83" y="19.18" width="8.24" height="8.24" fill="#e1dad6"/>
<rect x="84.77" y="19.18" width="8.24" height="8.24" fill="#bfd1f2"/>
<rect x="92.72" y="19.18" width="8.24" height="8.24" fill="#bfd1f2"/>
<rect x="100.66" y="19.18" width="12.24" height="8.24" fill="#e1dad6"/>
<rect x="9.30" y="27.12" width="12.24" height="8.24" fill="#cfd9ea"/>
<rect x="21.24" y="27.12" width="8.24" height="8.24" fill="#cfd9ea"/>
<rect x="29.18" y="27.12" width="8.24" height="8.24" fill="#cfd9ea"/>
<rect x="37.12" y="27.12" width="8.24" height="8.24" fill="#bfd1f2"/>
<rect x="45.07" y="27.12" width="8.24" height="8.24" fill="#bfd1f2"/>
<rect x="53.01" y="27.12" width="8.24" height="8.24" fill="#e1dad6"/>
<rect x="60.95" y="27.12" width="8.24" height="8.24" fill="#e1dad6"/>
<rect x="68.89" y="27.12" width="8.24" height="8.24" fill="#e1dad6"/>
<rect x="76.83" y="27.12" width="8.24" height="8.24" fill="#f4c5ad"/>
<rect x="84.77" y="27.12" width="8.24" height="8.24" fill="#e1dad6"/>
<rect x="92.72" y="27.12" width="8.24" height="8.24" fill="#e1dad6"/>
<rect x="100.66" y="27.12" width="12.24" height="8.24" fill="#f4c5ad"/>
<rect x="9.30" y="35.06" width="12.24" height="8.24" fill="#cfd9ea"/>
<rect x="21.24" y="35.06" width="8.24" height="8.24" fill="#cfd9ea"/>
<rect x="29.18" y="35.06" width="8.24" height="8.24" fill="#cfd9ea"/>
<rect x="37.12" y="35.06" width="8.24" height="8.24" fill="#f4c5ad"/>
<rect x="45.07" y="35.06" width="8.24" height="8.24" fill="#f49a7b"/>
<rect x="53.01" y="35.06" width="8.24" height="8.24" fill="#f4c5ad"/>
<rect x="60.95" y="35.06" width="8.24" height="8.24" fill="#e1dad6"/>
<rect x="68.89" y="35.06" width="8.24" height="8.24" fill="#f4c5ad"/>
<rect x="76.83" y="35.06" width="8.24" height="8.24" fill="#f4c5ad"/>
<rect x="84.77" y="35.06" width="8.24" height="8.24" fill="#e1dad6"/>
<rect x="92.72" y="35.06" width="8.24" height="8.24" fill="#f4c5ad"/>
<rect x="100.66" y="35.06" width="12.24" height="8.24" fill="#f49a7b"/>
<rect x="9.30" y="43.00" width="12.24" height="8.24" fill="#cfd9ea"/>
<rect x="21.24" y="43.00" width="8.24" height="8.24" fill="#cfd9ea"/>
<rect x="29.18" y="43.00" width="8.24" height="8.24" fill="#f4c5ad"/>
<rect x="37.12" y="43.00" width="8.24" height="8.24" fill="#f4c5ad"/>
<rect x="45.07" y="43.00" width="8.24" height="8.24" fill="#f4c5ad"/>
<rect x="53.01" y="43.00" width="8.24" height="8.24" fill="#f4c5ad"/>
<rect x="60.95" y="43.00" width="8.24" height="8.24" fill="#e1dad6"/>
<rect x="68.89" y="43.00" width="8.24" height="8.24" fill="#f4c5ad"/>
<rect x="76.83" y="43.00" width="8.24" height="8.24" fill="#f49a7b"/>
<rect x="84.77" y="43.00" width="8.24" height="8.24" fill="#f4c5ad"/>
<rect x="92.72" y="43.00" width="8.24" height="8.24" fill="#f4c5ad"/>
<rect x="100.66" y="43.00" width="12.24" height="8.24" fill="#f4c5ad"/>
<rect x="9.30" y="50.94" width="12.24" height="8.24" fill="#bfd1f2"/>
<rect x="21.24" y="50.94" width="8.24" height="8.24" fill="#e1dad6"/>
<rect x="29.18" y="50.94" width="8.24" height="8.24" fill="#f4c5ad"/>
<rect x="37.12" y="50.94" width="8.24" height="8.24" fill="#f4c5ad"/>
<rect x="45.07" y="50.94" width="8.24" height="8.24" fill="#f4c5ad"/>
<rect x="53.01" y="50.94" width="8.24" height="8.24" fill="#f4c5ad"/>
<rect x="60.95" y="50.94" width="8.24" height="8.24" fill="#f4c5ad"/>
<rect x="68.89" y="50.94" width="8.24" height="8.24" fill="#f4c5ad"/>
<rect x="76.83" y="50.94" width="8.24" height="8.24" fill="#f49a7b"/>
<rect x="84.77" y="50.94" width="8.24" height="8.24" fill="#f49a7b"/>
<rect x="92.72" y="50.94" width="8.24" height="8.24" fill="#f4c5ad"/>
<rect x="100.66" y="50.94" width="12.24" height="8.24" fill="#e1dad6"/>
<rect x="9.30" y="58.88" width="12.24" height="8.24" fill="#bfd1f2"/>
<rect x="21.24" y="58.88" width="8.24" height="8.24" fill="#e1dad6"/>
<rect x="29.18" y="58.88" width="8.24" height="8.24" fill="#e1dad6"/>
<rect x="37.12" y="58.88" width="8.24" height="8.24" fill="#f4c5ad"/>
<rect x="45.07" y="58.88" width="8.24" height="8.24" fill="#f4c5ad"/>
<rect x="53.01" y="58.88" width="8.24" height="8.24" fill="#f4c5ad"/>
<rect x="60.95" y="58.88" width="8.24" height="8.24" fill="#f4c5ad"/>
<rect x="68.89" y="58.88" width="8.24" height="8.24" fill="#f4c5ad"/>
<rect x="76.83" y="58.88" width="8.24" height="8.24" fill="#f4c5ad"/>
<rect x="84.77" y="58.88" width="8.24" height="8.24" fill="#f49a7b"/>
<rect x="92.72" y="58.88" width="8.24" height="8.24" fill="#f4c5ad"/>
<rect x="100.66" y="58.88" width="12.24" height="8.24" fill="#e1dad6"/>
<rect x="9.30" y="66.82" width="12.24" height="8.24" fill="#e1dad6"/>
<rect x="21.24" y="66.82" width="8.24" height="8.24" fill="#e1dad6"/>
<rect x="29.18" y="66.82" width="8.24" height="8.24" fill="#bfd1f2"/>
<rect x="37.12" y="66.82" width="8.24" height="8.24" fill="#e1dad6"/>
<rect x="45.07" y="66.82" width="8.24" height="8.24" fill="#f4c5ad"/>
<rect x="53.01" y="66.82" width="8.24" height="8.24" fill="#f49a7b"/>
<rect x="60.95" y="66.82" width="8.24" height="8.24" fill="#f4c5ad"/>
<rect x="68.89" y="66.82" width="8.24" height="8.24" fill="#f4c5ad"/>
<rect x="76.83" y="66.82" width="8.24" height="8.24" fill="#f4c5ad"/>
<rect x="84.77" y="66.82" width="8.24" height="8.24" fill="#f4c5ad"/>
<rect x="92.72" y="66.82" width="8.24" height="8.24" fill="#e1dad6"/>
<rect x="100.66" y="66.82" width="12.24" height="8.24" fill="#e1dad6"/>
<rect x="9.30" y="74.76" width="12.24" height="12.24" fill="#e1dad6"/>
<rect x="21.24" y="74.76" width="8.24" height="12.24" fill="#f4c5ad"/>
<rect x="29.18" y="74.76" width="8.24" height="12.24" fill="#e1dad6"/>
<rect x="37.12" y="74.76" width="8.24" height="12.24" fill="#bfd1f2"/>
<rect x="45.07" y="74.76" width="8.24" height="12.24" fill="#f4c5ad"/>
<rect x="53.01" y="74.76" width="8.24" height="12.24" fill="#f4c5ad"/>
<rect x="60.95" y="74.76" width="8.24" height="12.24" fill="#f4c5ad"/>
<rect x="68.89" y="74.76" width="8.24" height="12.24" fill="#f4c5ad"/>
<rect x="76.83" y="74.76" width="8.24" height="12.24" fill="#e1dad6"/>
<rect x="84.77" y="74.76" width="8.24" height="12.24" fill="#e1dad6"/>
<rect x="92.72" y="74.76" width="8.24" height="12.24" fill="#f4c5ad"/>
<rect x="100.66" y="74.76" width="12.24" height="12.24" fill="#e1dad6"/>
</g>
<polygon points="13.3,3.3 38.6,3.3 37.3,5.8 35.8,8.0 35.4,9.7 37.0,11.6 35.0,14.6 31.7,17.0 27.0,19.0 23.2,20.4 20.6,21.3 20.5,23.3 21.3,23.9 23.7,23.9 27.0,22.3 30.8,21.9 34.6,23.0 38.3,23.0 41.2,22.2 44.0,23.4 45.2,25.8 44.4,28.6 41.6,30.2 39.5,30.8 41.6,33.0 40.3,37.2 36.4,41.6 33.7,44.3 30.4,47.6 26.1,50.3 22.8,51.4 19.5,55.8 15.2,60.1 13.3,61.8" fill="#fff"/><polygon points="31.8,82.7 32.5,81 34.5,80.3 36.5,81.2 37.2,82.7" fill="#fff"/>
</g>
<rect x="13.3" y="3.3" width="95.3" height="79.4" fill="none" stroke="#8a8a8a" stroke-width="0.55"/>
<text x="11.8" y="84.90" class="t" text-anchor="end" textLength="4.5" lengthAdjust="spacingAndGlyphs">25</text>
<line x1="12.100000000000001" x2="13.3" y1="82.70" y2="82.70" stroke="#444" stroke-width="0.4"/>
<text x="11.8" y="73.56" class="t" text-anchor="end" textLength="4.5" lengthAdjust="spacingAndGlyphs">26</text>
<line x1="12.100000000000001" x2="13.3" y1="71.36" y2="71.36" stroke="#444" stroke-width="0.4"/>
<text x="11.8" y="62.21" class="t" text-anchor="end" textLength="4.5" lengthAdjust="spacingAndGlyphs">27</text>
<line x1="12.100000000000001" x2="13.3" y1="60.01" y2="60.01" stroke="#444" stroke-width="0.4"/>
<text x="11.8" y="50.87" class="t" text-anchor="end" textLength="4.5" lengthAdjust="spacingAndGlyphs">28</text>
<line x1="12.100000000000001" x2="13.3" y1="48.67" y2="48.67" stroke="#444" stroke-width="0.4"/>
<text x="11.8" y="39.53" class="t" text-anchor="end" textLength="4.5" lengthAdjust="spacingAndGlyphs">29</text>
<line x1="12.100000000000001" x2="13.3" y1="37.33" y2="37.33" stroke="#444" stroke-width="0.4"/>
<text x="11.8" y="28.19" class="t" text-anchor="end" textLength="4.5" lengthAdjust="spacingAndGlyphs">30</text>
<line x1="12.100000000000001" x2="13.3" y1="25.99" y2="25.99" stroke="#444" stroke-width="0.4"/>
<text x="11.8" y="16.84" class="t" text-anchor="end" textLength="4.5" lengthAdjust="spacingAndGlyphs">31</text>
<line x1="12.100000000000001" x2="13.3" y1="14.64" y2="14.64" stroke="#444" stroke-width="0.4"/>
<text x="11.8" y="5.50" class="t" text-anchor="end" textLength="4.5" lengthAdjust="spacingAndGlyphs">32</text>
<line x1="12.100000000000001" x2="13.3" y1="3.30" y2="3.30" stroke="#444" stroke-width="0.4"/>
<text x="13.70" y="87.70" class="t" text-anchor="middle" textLength="6.2" lengthAdjust="spacingAndGlyphs">120</text>
<line y1="82.7" y2="83.9" x1="13.30" x2="13.30" stroke="#444" stroke-width="0.4"/>
<text x="27.31" y="87.70" class="t" text-anchor="middle" textLength="6.2" lengthAdjust="spacingAndGlyphs">121</text>
<line y1="82.7" y2="83.9" x1="26.91" x2="26.91" stroke="#444" stroke-width="0.4"/>
<text x="40.93" y="87.70" class="t" text-anchor="middle" textLength="6.2" lengthAdjust="spacingAndGlyphs">122</text>
<line y1="82.7" y2="83.9" x1="40.53" x2="40.53" stroke="#444" stroke-width="0.4"/>
<text x="54.54" y="87.70" class="t" text-anchor="middle" textLength="6.2" lengthAdjust="spacingAndGlyphs">123</text>
<line y1="82.7" y2="83.9" x1="54.14" x2="54.14" stroke="#444" stroke-width="0.4"/>
<text x="68.16" y="87.70" class="t" text-anchor="middle" textLength="6.2" lengthAdjust="spacingAndGlyphs">124</text>
<line y1="82.7" y2="83.9" x1="67.76" x2="67.76" stroke="#444" stroke-width="0.4"/>
<text x="81.77" y="87.70" class="t" text-anchor="middle" textLength="6.2" lengthAdjust="spacingAndGlyphs">125</text>
<line y1="82.7" y2="83.9" x1="81.37" x2="81.37" stroke="#444" stroke-width="0.4"/>
<text x="95.39" y="87.70" class="t" text-anchor="middle" textLength="6.2" lengthAdjust="spacingAndGlyphs">126</text>
<line y1="82.7" y2="83.9" x1="94.99" x2="94.99" stroke="#444" stroke-width="0.4"/>
<text x="109.00" y="87.70" class="t" text-anchor="middle" textLength="6.2" lengthAdjust="spacingAndGlyphs">127</text>
<line y1="82.7" y2="83.9" x1="108.60" x2="108.60" stroke="#444" stroke-width="0.4"/>
<text x="61.3" y="93.2" class="al" text-anchor="middle" textLength="35.5" lengthAdjust="spacingAndGlyphs">EAST LONGITUDE(°)</text>
<text transform="translate(4.6,43.6) rotate(-90)" class="al" text-anchor="middle" textLength="36.5" lengthAdjust="spacingAndGlyphs">NORTH LATITUDE(°)</text>
<rect x="114.4" y="3.3" width="4.1" height="79.4" fill="url(#cw)"/>
<text x="120.00" y="83.65" class="t" textLength="12.5" lengthAdjust="spacingAndGlyphs">0.4500</text>
<line x1="118.5" x2="119.5" y1="82.70" y2="82.70" stroke="#444" stroke-width="0.4"/>
<text x="120.00" y="75.71" class="t" textLength="12.5" lengthAdjust="spacingAndGlyphs">0.4854</text>
<line x1="118.5" x2="119.5" y1="74.76" y2="74.76" stroke="#444" stroke-width="0.4"/>
<text x="120.00" y="67.77" class="t" textLength="12.5" lengthAdjust="spacingAndGlyphs">0.5207</text>
<line x1="118.5" x2="119.5" y1="66.82" y2="66.82" stroke="#444" stroke-width="0.4"/>
<text x="120.00" y="59.83" class="t" textLength="12.5" lengthAdjust="spacingAndGlyphs">0.5561</text>
<line x1="118.5" x2="119.5" y1="58.88" y2="58.88" stroke="#444" stroke-width="0.4"/>
<text x="120.00" y="51.89" class="t" textLength="12.5" lengthAdjust="spacingAndGlyphs">0.5914</text>
<line x1="118.5" x2="119.5" y1="50.94" y2="50.94" stroke="#444" stroke-width="0.4"/>
<text x="120.00" y="43.95" class="t" textLength="12.5" lengthAdjust="spacingAndGlyphs">0.6268</text>
<line x1="118.5" x2="119.5" y1="43.00" y2="43.00" stroke="#444" stroke-width="0.4"/>
<text x="120.00" y="36.01" class="t" textLength="12.5" lengthAdjust="spacingAndGlyphs">0.6621</text>
<line x1="118.5" x2="119.5" y1="35.06" y2="35.06" stroke="#444" stroke-width="0.4"/>
<text x="120.00" y="28.07" class="t" textLength="12.5" lengthAdjust="spacingAndGlyphs">0.6975</text>
<line x1="118.5" x2="119.5" y1="27.12" y2="27.12" stroke="#444" stroke-width="0.4"/>
<text x="120.00" y="20.13" class="t" textLength="12.5" lengthAdjust="spacingAndGlyphs">0.7328</text>
<line x1="118.5" x2="119.5" y1="19.18" y2="19.18" stroke="#444" stroke-width="0.4"/>
<text x="120.00" y="12.19" class="t" textLength="12.5" lengthAdjust="spacingAndGlyphs">0.7682</text>
<line x1="118.5" x2="119.5" y1="11.24" y2="11.24" stroke="#444" stroke-width="0.4"/>
<text transform="translate(136.4,43.8) rotate(-90)" class="al" text-anchor="middle" textLength="38" lengthAdjust="spacingAndGlyphs">SST PREDICTABILITY</text>
<text x="61" y="101.9" class="cap" text-anchor="middle" textLength="50.5" lengthAdjust="spacingAndGlyphs">(c) 1988~1990</text>
</g>
<g transform="translate(0.0,111.1)">
<g clip-path="url(#clip)">
<g filter="url(#bl)">
<rect x="9.30" y="-0.70" width="12.24" height="12.24" fill="#cfd9ea"/>
<rect x="21.24" y="-0.70" width="8.24" height="12.24" fill="#cfd9ea"/>
<rect x="29.18" y="-0.70" width="8.24" height="12.24" fill="#cfd9ea"/>
<rect x="37.12" y="-0.70" width="8.24" height="12.24" fill="#bfd1f2"/>
<rect x="45.07" y="-0.70" width="8.24" height="12.24" fill="#f4c5ad"/>
<rect x="53.01" y="-0.70" width="8.24" height="12.24" fill="#f4c5ad"/>
<rect x="60.95" y="-0.70" width="8.24" height="12.24" fill="#e1dad6"/>
<rect x="68.89" y="-0.70" width="8.24" height="12.24" fill="#bfd1f2"/>
<rect x="76.83" y="-0.70" width="8.24" height="12.24" fill="#e1dad6"/>
<rect x="84.77" y="-0.70" width="8.24" height="12.24" fill="#e1dad6"/>
<rect x="92.72" y="-0.70" width="8.24" height="12.24" fill="#f4c5ad"/>
<rect x="100.66" y="-0.70" width="12.24" height="12.24" fill="#e1dad6"/>
<rect x="9.30" y="11.24" width="12.24" height="8.24" fill="#cfd9ea"/>
<rect x="21.24" y="11.24" width="8.24" height="8.24" fill="#cfd9ea"/>
<rect x="29.18" y="11.24" width="8.24" height="8.24" fill="#f4c5ad"/>
<rect x="37.12" y="11.24" width="8.24" height="8.24" fill="#e1dad6"/>
<rect x="45.07" y="11.24" width="8.24" height="8.24" fill="#f4c5ad"/>
<rect x="53.01" y="11.24" width="8.24" height="8.24" fill="#e1dad6"/>
<rect x="60.95" y="11.24" width="8.24" height="8.24" fill="#9bb8f6"/>
<rect x="68.89" y="11.24" width="8.24" height="8.24" fill="#bfd1f2"/>
<rect x="76.83" y="11.24" width="8.24" height="8.24" fill="#9bb8f6"/>
<rect x="84.77" y="11.24" width="8.24" height="8.24" fill="#e1dad6"/>
<rect x="92.72" y="11.24" width="8.24" height="8.24" fill="#e1dad6"/>
<rect x="100.66" y="11.24" width="12.24" height="8.24" fill="#f49a7b"/>
<rect x="9.30" y="19.18" width="12.24" height="8.24" fill="#cfd9ea"/>
<rect x="21.24" y="19.18" width="8.24" height="8.24" fill="#e1dad6"/>
<rect x="29.18" y="19.18" width="8.24" height="8.24" fill="#f4c5ad"/>
<rect x="37.12" y="19.18" width="8.24" height="8.24" fill="#e1dad6"/>
<rect x="45.07" y="19.18" width="8.24" height="8.24" fill="#e1dad6"/>
<rect x="53.01" y="19.18" width="8.24" height="8.24" fill="#e1dad6"/>
<rect x="60.95" y="19.18" width="8.24" height="8.24" fill="#7392e7"/>
<rect x="68.89" y="19.18" width="8.24" height="8.24" fill="#e1dad6"/>
<rect x="76.83" y="19.18" width="8.24" height="8.24" fill="#9bb8f6"/>
<rect x="84.77" y="19.18" width="8.24" height="8.24" fill="#bfd1f2"/>
<rect x="92.72" y="19.18" width="8.24" height="8.24" fill="#e1dad6"/>
<rect x="100.66" y="19.18" width="12.24" height="8.24" fill="#f4c5ad"/>
<rect x="9.30" y="27.12" width="12.24" height="8.24" fill="#cfd9ea"/>
<rect x="21.24" y="27.12" width="8.24" height="8.24" fill="#cfd9ea"/>
<rect x="29.18" y="27.12" width="8.24" height="8.24" fill="#cfd9ea"/>
<rect x="37.12" y="27.12" width="8.24" height="8.24" fill="#e1dad6"/>
<rect x="45.07" y="27.12" width="8.24" height="8.24" fill="#e1dad6"/>
<rect x="53.01" y="27.12" width="8.24" height="8.24" fill="#e1dad6"/>
<rect x="60.95" y="27.12" width="8.24" height="8.24" fill="#bfd1f2"/>
<rect x="68.89" y="27.12" width="8.24" height="8.24" fill="#bfd1f2"/>
<rect x="76.83" y="27.12" width="8.24" height="8.24" fill="#e1dad6"/>
<rect x="84.77" y="27.12" width="8.24" height="8.24" fill="#e1dad6"/>
<rect x="92.72" y="27.12" width="8.24" height="8.24" fill="#e1dad6"/>
<rect x="100.66" y="27.12" width="12.24" height="8.24" fill="#e1dad6"/>
<rect x="9.30" y="35.06" width="12.24" height="8.24" fill="#cfd9ea"/>
<rect x="21.24" y="35.06" width="8.24" height="8.24" fill="#cfd9ea"/>
<rect x="29.18" y="35.06" width="8.24" height="8.24" fill="#cfd9ea"/>
<rect x="37.12" y="35.06" width="8.24" height="8.24" fill="#e1dad6"/>
<rect x="45.07" y="35.06" width="8.24" height="8.24" fill="#e1dad6"/>
<rect x="53.01" y="35.06" width="8.24" height="8.24" fill="#bfd1f2"/>
<rect x="60.95" y="35.06" width="8.24" height="8.24" fill="#e1dad6"/>
<rect x="68.89" y="35.06" width="8.24" height="8.24" fill="#bfd1f2"/>
<rect x="76.83" y="35.06" width="8.24" height="8.24" fill="#e1dad6"/>
<rect x="84.77" y="35.06" width="8.24" height="8.24" fill="#f4c5ad"/>
<rect x="92.72" y="35.06" width="8.24" height="8.24" fill="#e1dad6"/>
<rect x="100.66" y="35.06" width="12.24" height="8.24" fill="#f4c5ad"/>
<rect x="9.30" y="43.00" width="12.24" height="8.24" fill="#cfd9ea"/>
<rect x="21.24" y="43.00" width="8.24" height="8.24" fill="#cfd9ea"/>
<rect x="29.18" y="43.00" width="8.24" height="8.24" fill="#bfd1f2"/>
<rect x="37.12" y="43.00" width="8.24" height="8.24" fill="#e1dad6"/>
<rect x="45.07" y="43.00" width="8.24" height="8.24" fill="#e1dad6"/>
<rect x="53.01" y="43.00" width="8.24" height="8.24" fill="#f4c5ad"/>
<rect x="60.95" y="43.00" width="8.24" height="8.24" fill="#e1dad6"/>
<rect x="68.89" y="43.00" width="8.24" height="8.24" fill="#e1dad6"/>
<rect x="76.83" y="43.00" width="8.24" height="8.24" fill="#bfd1f2"/>
<rect x="84.77" y="43.00" width="8.24" height="8.24" fill="#e1dad6"/>
<rect x="92.72" y="43.00" width="8.24" height="8.24" fill="#f4c5ad"/>
<rect x="100.66" y="43.00" width="12.24" height="8.24" fill="#f4c5ad"/>
<rect x="9.30" y="50.94" width="12.24" height="8.24" fill="#f4c5ad"/>
<rect x="21.24" y="50.94" width="8.24" height="8.24" fill="#f4c5ad"/>
<rect x="29.18" y="50.94" width="8.24" height="8.24" fill="#e1dad6"/>
<rect x="37.12" y="50.94" width="8.24" height="8.24" fill="#e1dad6"/>
<rect x="45.07" y="50.94" width="8.24" height="8.24" fill="#e1dad6"/>
<rect x="53.01" y="50.94" width="8.24" height="8.24" fill="#e1dad6"/>
<rect x="60.95" y="50.94" width="8.24" height="8.24" fill="#f4c5ad"/>
<rect x="68.89" y="50.94" width="8.24" height="8.24" fill="#f4c5ad"/>
<rect x="76.83" y="50.94" width="8.24" height="8.24" fill="#e1dad6"/>
<rect x="84.77" y="50.94" width="8.24" height="8.24" fill="#e1dad6"/>
<rect x="92.72" y="50.94" width="8.24" height="8.24" fill="#f4c5ad"/>
<rect x="100.66" y="50.94" width="12.24" height="8.24" fill="#f4c5ad"/>
<rect x="9.30" y="58.88" width="12.24" height="8.24" fill="#f4c5ad"/>
<rect x="21.24" y="58.88" width="8.24" height="8.24" fill="#f4c5ad"/>
<rect x="29.18" y="58.88" width="8.24" height="8.24" fill="#e1dad6"/>
<rect x="37.12" y="58.88" width="8.24" height="8.24" fill="#f4c5ad"/>
<rect x="45.07" y="58.88" width="8.24" height="8.24" fill="#e1dad6"/>
<rect x="53.01" y="58.88" width="8.24" height="8.24" fill="#f4c5ad"/>
<rect x="60.95" y="58.88" width="8.24" height="8.24" fill="#f4c5ad"/>
<rect x="68.89" y="58.88" width="8.24" height="8.24" fill="#e1dad6"/>
<rect x="76.83" y="58.88" width="8.24" height="8.24" fill="#f4c5ad"/>
<rect x="84.77" y="58.88" width="8.24" height="8.24" fill="#f4c5ad"/>
<rect x="92.72" y="58.88" width="8.24" height="8.24" fill="#f4c5ad"/>
<rect x="100.66" y="58.88" width="12.24" height="8.24" fill="#f4c5ad"/>
<rect x="9.30" y="66.82" width="12.24" height="8.24" fill="#f4c5ad"/>
<rect x="21.24" y="66.82" width="8.24" height="8.24" fill="#f4c5ad"/>
<rect x="29.18" y="66.82" width="8.24" height="8.24" fill="#e1dad6"/>
<rect x="37.12" y="66.82" width="8.24" height="8.24" fill="#e1dad6"/>
<rect x="45.07" y="66.82" width="8.24" height="8.24" fill="#e1dad6"/>
<rect x="53.01" y="66.82" width="8.24" height="8.24" fill="#f4c5ad"/>
<rect x="60.95" y="66.82" width="8.24" height="8.24" fill="#e1dad6"/>
<rect x="68.89" y="66.82" width="8.24" height="8.24" fill="#f4c5ad"/>
<rect x="76.83" y="66.82" width="8.24" height="8.24" fill="#f4c5ad"/>
<rect x="84.77" y="66.82" width="8.24" height="8.24" fill="#f4c5ad"/>
<rect x="92.72" y="66.82" width="8.24" height="8.24" fill="#f4c5ad"/>
<rect x="100.66" y="66.82" width="12.24" height="8.24" fill="#f4c5ad"/>
<rect x="9.30" y="74.76" width="12.24" height="12.24" fill="#f4c5ad"/>
<rect x="21.24" y="74.76" width="8.24" height="12.24" fill="#e1dad6"/>
<rect x="29.18" y="74.76" width="8.24" height="12.24" fill="#f4c5ad"/>
<rect x="37.12" y="74.76" width="8.24" height="12.24" fill="#f4c5ad"/>
<rect x="45.07" y="74.76" width="8.24" height="12.24" fill="#f49a7b"/>
<rect x="53.01" y="74.76" width="8.24" height="12.24" fill="#f49a7b"/>
<rect x="60.95" y="74.76" width="8.24" height="12.24" fill="#f4c5ad"/>
<rect x="68.89" y="74.76" width="8.24" height="12.24" fill="#f4c5ad"/>
<rect x="76.83" y="74.76" width="8.24" height="12.24" fill="#f4c5ad"/>
<rect x="84.77" y="74.76" width="8.24" height="12.24" fill="#f4c5ad"/>
<rect x="92.72" y="74.76" width="8.24" height="12.24" fill="#f4c5ad"/>
<rect x="100.66" y="74.76" width="12.24" height="12.24" fill="#f4c5ad"/>
<circle cx="65.3" cy="19.9" r="2.0" fill="#4f65c8"/>
</g>
<polygon points="13.3,3.3 38.6,3.3 37.3,5.8 35.8,8.0 35.4,9.7 37.0,11.6 35.0,14.6 31.7,17.0 27.0,19.0 23.2,20.4 20.6,21.3 20.5,23.3 21.3,23.9 23.7,23.9 27.0,22.3 30.8,21.9 34.6,23.0 38.3,23.0 41.2,22.2 44.0,23.4 45.2,25.8 44.4,28.6 41.6,30.2 39.5,30.8 41.6,33.0 40.3,37.2 36.4,41.6 33.7,44.3 30.4,47.6 26.1,50.3 22.8,51.4 19.5,55.8 15.2,60.1 13.3,61.8" fill="#fff"/><polygon points="31.8,82.7 32.5,81 34.5,80.3 36.5,81.2 37.2,82.7" fill="#fff"/>
</g>
<rect x="13.3" y="3.3" width="95.3" height="79.4" fill="none" stroke="#8a8a8a" stroke-width="0.55"/>
<text x="11.8" y="84.90" class="t" text-anchor="end" textLength="4.5" lengthAdjust="spacingAndGlyphs">25</text>
<line x1="12.100000000000001" x2="13.3" y1="82.70" y2="82.70" stroke="#444" stroke-width="0.4"/>
<text x="11.8" y="73.56" class="t" text-anchor="end" textLength="4.5" lengthAdjust="spacingAndGlyphs">26</text>
<line x1="12.100000000000001" x2="13.3" y1="71.36" y2="71.36" stroke="#444" stroke-width="0.4"/>
<text x="11.8" y="62.21" class="t" text-anchor="end" textLength="4.5" lengthAdjust="spacingAndGlyphs">27</text>
<line x1="12.100000000000001" x2="13.3" y1="60.01" y2="60.01" stroke="#444" stroke-width="0.4"/>
<text x="11.8" y="50.87" class="t" text-anchor="end" textLength="4.5" lengthAdjust="spacingAndGlyphs">28</text>
<line x1="12.100000000000001" x2="13.3" y1="48.67" y2="48.67" stroke="#444" stroke-width="0.4"/>
<text x="11.8" y="39.53" class="t" text-anchor="end" textLength="4.5" lengthAdjust="spacingAndGlyphs">29</text>
<line x1="12.100000000000001" x2="13.3" y1="37.33" y2="37.33" stroke="#444" stroke-width="0.4"/>
<text x="11.8" y="28.19" class="t" text-anchor="end" textLength="4.5" lengthAdjust="spacingAndGlyphs">30</text>
<line x1="12.100000000000001" x2="13.3" y1="25.99" y2="25.99" stroke="#444" stroke-width="0.4"/>
<text x="11.8" y="16.84" class="t" text-anchor="end" textLength="4.5" lengthAdjust="spacingAndGlyphs">31</text>
<line x1="12.100000000000001" x2="13.3" y1="14.64" y2="14.64" stroke="#444" stroke-width="0.4"/>
<text x="11.8" y="5.50" class="t" text-anchor="end" textLength="4.5" lengthAdjust="spacingAndGlyphs">32</text>
<line x1="12.100000000000001" x2="13.3" y1="3.30" y2="3.30" stroke="#444" stroke-width="0.4"/>
<text x="13.70" y="87.70" class="t" text-anchor="middle" textLength="6.2" lengthAdjust="spacingAndGlyphs">120</text>
<line y1="82.7" y2="83.9" x1="13.30" x2="13.30" stroke="#444" stroke-width="0.4"/>
<text x="27.31" y="87.70" class="t" text-anchor="middle" textLength="6.2" lengthAdjust="spacingAndGlyphs">121</text>
<line y1="82.7" y2="83.9" x1="26.91" x2="26.91" stroke="#444" stroke-width="0.4"/>
<text x="40.93" y="87.70" class="t" text-anchor="middle" textLength="6.2" lengthAdjust="spacingAndGlyphs">122</text>
<line y1="82.7" y2="83.9" x1="40.53" x2="40.53" stroke="#444" stroke-width="0.4"/>
<text x="54.54" y="87.70" class="t" text-anchor="middle" textLength="6.2" lengthAdjust="spacingAndGlyphs">123</text>
<line y1="82.7" y2="83.9" x1="54.14" x2="54.14" stroke="#444" stroke-width="0.4"/>
<text x="68.16" y="87.70" class="t" text-anchor="middle" textLength="6.2" lengthAdjust="spacingAndGlyphs">124</text>
<line y1="82.7" y2="83.9" x1="67.76" x2="67.76" stroke="#444" stroke-width="0.4"/>
<text x="81.77" y="87.70" class="t" text-anchor="middle" textLength="6.2" lengthAdjust="spacingAndGlyphs">125</text>
<line y1="82.7" y2="83.9" x1="81.37" x2="81.37" stroke="#444" stroke-width="0.4"/>
<text x="95.39" y="87.70" class="t" text-anchor="middle" textLength="6.2" lengthAdjust="spacingAndGlyphs">126</text>
<line y1="82.7" y2="83.9" x1="94.99" x2="94.99" stroke="#444" stroke-width="0.4"/>
<text x="109.00" y="87.70" class="t" text-anchor="middle" textLength="6.2" lengthAdjust="spacingAndGlyphs">127</text>
<line y1="82.7" y2="83.9" x1="108.60" x2="108.60" stroke="#444" stroke-width="0.4"/>
<text x="61.3" y="93.2" class="al" text-anchor="middle" textLength="35.5" lengthAdjust="spacingAndGlyphs">EAST LONGITUDE(°)</text>
<text transform="translate(4.6,43.6) rotate(-90)" class="al" text-anchor="middle" textLength="36.5" lengthAdjust="spacingAndGlyphs">NORTH LATITUDE(°)</text>
<rect x="114.4" y="3.3" width="4.1" height="79.4" fill="url(#cw)"/>
<text x="120.00" y="83.65" class="t" textLength="12.5" lengthAdjust="spacingAndGlyphs">0.4500</text>
<line x1="118.5" x2="119.5" y1="82.70" y2="82.70" stroke="#444" stroke-width="0.4"/>
<text x="120.00" y="75.71" class="t" textLength="12.5" lengthAdjust="spacingAndGlyphs">0.4854</text>
<line x1="118.5" x2="119.5" y1="74.76" y2="74.76" stroke="#444" stroke-width="0.4"/>
<text x="120.00" y="67.77" class="t" textLength="12.5" lengthAdjust="spacingAndGlyphs">0.5207</text>
<line x1="118.5" x2="119.5" y1="66.82" y2="66.82" stroke="#444" stroke-width="0.4"/>
<text x="120.00" y="59.83" class="t" textLength="12.5" lengthAdjust="spacingAndGlyphs">0.5561</text>
<line x1="118.5" x2="119.5" y1="58.88" y2="58.88" stroke="#444" stroke-width="0.4"/>
<text x="120.00" y="51.89" class="t" textLength="12.5" lengthAdjust="spacingAndGlyphs">0.5914</text>
<line x1="118.5" x2="119.5" y1="50.94" y2="50.94" stroke="#444" stroke-width="0.4"/>
<text x="120.00" y="43.95" class="t" textLength="12.5" lengthAdjust="spacingAndGlyphs">0.6268</text>
<line x1="118.5" x2="119.5" y1="43.00" y2="43.00" stroke="#444" stroke-width="0.4"/>
<text x="120.00" y="36.01" class="t" textLength="12.5" lengthAdjust="spacingAndGlyphs">0.6621</text>
<line x1="118.5" x2="119.5" y1="35.06" y2="35.06" stroke="#444" stroke-width="0.4"/>
<text x="120.00" y="28.07" class="t" textLength="12.5" lengthAdjust="spacingAndGlyphs">0.6975</text>
<line x1="118.5" x2="119.5" y1="27.12" y2="27.12" stroke="#444" stroke-width="0.4"/>
<text x="120.00" y="20.13" class="t" textLength="12.5" lengthAdjust="spacingAndGlyphs">0.7328</text>
<line x1="118.5" x2="119.5" y1="19.18" y2="19.18" stroke="#444" stroke-width="0.4"/>
<text x="120.00" y="12.19" class="t" textLength="12.5" lengthAdjust="spacingAndGlyphs">0.7682</text>
<line x1="118.5" x2="119.5" y1="11.24" y2="11.24" stroke="#444" stroke-width="0.4"/>
<text transform="translate(136.4,43.8) rotate(-90)" class="al" text-anchor="middle" textLength="38" lengthAdjust="spacingAndGlyphs">SST PREDICTABILITY</text>
<text x="61" y="101.9" class="cap" text-anchor="middle" textLength="50.5" lengthAdjust="spacingAndGlyphs">(d) 1991~1993</text>
</g>
<g transform="translate(142.1,111.1)">
<g clip-path="url(#clip)">
<g filter="url(#bl)">
<rect x="9.30" y="-0.70" width="12.24" height="12.24" fill="#cfd9ea"/>
<rect x="21.24" y="-0.70" width="8.24" height="12.24" fill="#cfd9ea"/>
<rect x="29.18" y="-0.70" width="8.24" height="12.24" fill="#cfd9ea"/>
<rect x="37.12" y="-0.70" width="8.24" height="12.24" fill="#bfd1f2"/>
<rect x="45.07" y="-0.70" width="8.24" height="12.24" fill="#bfd1f2"/>
<rect x="53.01" y="-0.70" width="8.24" height="12.24" fill="#bfd1f2"/>
<rect x="60.95" y="-0.70" width="8.24" height="12.24" fill="#e1dad6"/>
<rect x="68.89" y="-0.70" width="8.24" height="12.24" fill="#9bb8f6"/>
<rect x="76.83" y="-0.70" width="8.24" height="12.24" fill="#bfd1f2"/>
<rect x="84.77" y="-0.70" width="8.24" height="12.24" fill="#e1dad6"/>
<rect x="92.72" y="-0.70" width="8.24" height="12.24" fill="#e1dad6"/>
<rect x="100.66" y="-0.70" width="12.24" height="12.24" fill="#e1dad6"/>
<rect x="9.30" y="11.24" width="12.24" height="8.24" fill="#cfd9ea"/>
<rect x="21.24" y="11.24" width="8.24" height="8.24" fill="#cfd9ea"/>
<rect x="29.18" y="11.24" width="8.24" height="8.24" fill="#e1dad6"/>
<rect x="37.12" y="11.24" width="8.24" height="8.24" fill="#9bb8f6"/>
<rect x="45.07" y="11.24" width="8.24" height="8.24" fill="#bfd1f2"/>
<rect x="53.01" y="11.24" width="8.24" height="8.24" fill="#bfd1f2"/>
<rect x="60.95" y="11.24" width="8.24" height="8.24" fill="#bfd1f2"/>
<rect x="68.89" y="11.24" width="8.24" height="8.24" fill="#bfd1f2"/>
<rect x="76.83" y="11.24" width="8.24" height="8.24" fill="#bfd1f2"/>
<rect x="84.77" y="11.24" width="8.24" height="8.24" fill="#e1dad6"/>
<rect x="92.72" y="11.24" width="8.24" height="8.24" fill="#e1dad6"/>
<rect x="100.66" y="11.24" width="12.24" height="8.24" fill="#e1dad6"/>
<rect x="9.30" y="19.18" width="12.24" height="8.24" fill="#cfd9ea"/>
<rect x="21.24" y="19.18" width="8.24" height="8.24" fill="#bfd1f2"/>
<rect x="29.18" y="19.18" width="8.24" height="8.24" fill="#bfd1f2"/>
<rect x="37.12" y="19.18" width="8.24" height="8.24" fill="#9bb8f6"/>
<rect x="45.07" y="19.18" width="8.24" height="8.24" fill="#bfd1f2"/>
<rect x="53.01" y="19.18" width="8.24" height="8.24" fill="#bfd1f2"/>
<rect x="60.95" y="19.18" width="8.24" height="8.24" fill="#bfd1f2"/>
<rect x="68.89" y="19.18" width="8.24" height="8.24" fill="#bfd1f2"/>
<rect x="76.83" y="19.18" width="8.24" height="8.24" fill="#e1dad6"/>
<rect x="84.77" y="19.18" width="8.24" height="8.24" fill="#e1dad6"/>
<rect x="92.72" y="19.18" width="8.24" height="8.24" fill="#e1dad6"/>
<rect x="100.66" y="19.18" width="12.24" height="8.24" fill="#f4c5ad"/>
<rect x="9.30" y="27.12" width="12.24" height="8.24" fill="#cfd9ea"/>
<rect x="21.24" y="27.12" width="8.24" height="8.24" fill="#cfd9ea"/>
<rect x="29.18" y="27.12" width="8.24" height="8.24" fill="#cfd9ea"/>
<rect x="37.12" y="27.12" width="8.24" height="8.24" fill="#bfd1f2"/>
<rect x="45.07" y="27.12" width="8.24" height="8.24" fill="#bfd1f2"/>
<rect x="53.01" y="27.12" width="8.24" height="8.24" fill="#bfd1f2"/>
<rect x="60.95" y="27.12" width="8.24" height="8.24" fill="#e1dad6"/>
<rect x="68.89" y="27.12" width="8.24" height="8.24" fill="#e1dad6"/>
<rect x="76.83" y="27.12" width="8.24" height="8.24" fill="#e1dad6"/>
<rect x="84.77" y="27.12" width="8.24" height="8.24" fill="#f4c5ad"/>
<rect x="92.72" y="27.12" width="8.24" height="8.24" fill="#f4c5ad"/>
<rect x="100.66" y="27.12" width="12.24" height="8.24" fill="#f4c5ad"/>
<rect x="9.30" y="35.06" width="12.24" height="8.24" fill="#cfd9ea"/>
<rect x="21.24" y="35.06" width="8.24" height="8.24" fill="#cfd9ea"/>
<rect x="29.18" y="35.06" width="8.24" height="8.24" fill="#bfd1f2"/>
<rect x="37.12" y="35.06" width="8.24" height="8.24" fill="#bfd1f2"/>
<rect x="45.07" y="35.06" width="8.24" height="8.24" fill="#e1dad6"/>
<rect x="53.01" y="35.06" width="8.24" height="8.24" fill="#e1dad6"/>
<rect x="60.95" y="35.06" width="8.24" height="8.24" fill="#bfd1f2"/>
<rect x="68.89" y="35.06" width="8.24" height="8.24" fill="#bfd1f2"/>
<rect x="76.83" y="35.06" width="8.24" height="8.24" fill="#e1dad6"/>
<rect x="84.77" y="35.06" width="8.24" height="8.24" fill="#e1dad6"/>
<rect x="92.72" y="35.06" width="8.24" height="8.24" fill="#f4c5ad"/>
<rect x="100.66" y="35.06" width="12.24" height="8.24" fill="#f49a7b"/>
<rect x="9.30" y="43.00" width="12.24" height="8.24" fill="#cfd9ea"/>
<rect x="21.24" y="43.00" width="8.24" height="8.24" fill="#cfd9ea"/>
<rect x="29.18" y="43.00" width="8.24" height="8.24" fill="#e1dad6"/>
<rect x="37.12" y="43.00" width="8.24" height="8.24" fill="#e1dad6"/>
<rect x="45.07" y="43.00" width="8.24" height="8.24" fill="#bfd1f2"/>
<rect x="53.01" y="43.00" width="8.24" height="8.24" fill="#e1dad6"/>
<rect x="60.95" y="43.00" width="8.24" height="8.24" fill="#bfd1f2"/>
<rect x="68.89" y="43.00" width="8.24" height="8.24" fill="#e1dad6"/>
<rect x="76.83" y="43.00" width="8.24" height="8.24" fill="#e1dad6"/>
<rect x="84.77" y="43.00" width="8.24" height="8.24" fill="#f4c5ad"/>
<rect x="92.72" y="43.00" width="8.24" height="8.24" fill="#f4c5ad"/>
<rect x="100.66" y="43.00" width="12.24" height="8.24" fill="#f4c5ad"/>
<rect x="9.30" y="50.94" width="12.24" height="8.24" fill="#e1dad6"/>
<rect x="21.24" y="50.94" width="8.24" height="8.24" fill="#e1dad6"/>
<rect x="29.18" y="50.94" width="8.24" height="8.24" fill="#f4c5ad"/>
<rect x="37.12" y="50.94" width="8.24" height="8.24" fill="#e1dad6"/>
<rect x="45.07" y="50.94" width="8.24" height="8.24" fill="#e1dad6"/>
<rect x="53.01" y="50.94" width="8.24" height="8.24" fill="#f4c5ad"/>
<rect x="60.95" y="50.94" width="8.24" height="8.24" fill="#f4c5ad"/>
<rect x="68.89" y="50.94" width="8.24" height="8.24" fill="#e1dad6"/>
<rect x="76.83" y="50.94" width="8.24" height="8.24" fill="#f4c5ad"/>
<rect x="84.77" y="50.94" width="8.24" height="8.24" fill="#f4c5ad"/>
<rect x="92.72" y="50.94" width="8.24" height="8.24" fill="#f49a7b"/>
<rect x="100.66" y="50.94" width="12.24" height="8.24" fill="#f4c5ad"/>
<rect x="9.30" y="58.88" width="12.24" height="8.24" fill="#e1dad6"/>
<rect x="21.24" y="58.88" width="8.24" height="8.24" fill="#bfd1f2"/>
<rect x="29.18" y="58.88" width="8.24" height="8.24" fill="#e1dad6"/>
<rect x="37.12" y="58.88" width="8.24" height="8.24" fill="#e1dad6"/>
<rect x="45.07" y="58.88" width="8.24" height="8.24" fill="#f4c5ad"/>
<rect x="53.01" y="58.88" width="8.24" height="8.24" fill="#f4c5ad"/>
<rect x="60.95" y="58.88" width="8.24" height="8.24" fill="#f4c5ad"/>
<rect x="68.89" y="58.88" width="8.24" height="8.24" fill="#f4c5ad"/>
<rect x="76.83" y="58.88" width="8.24" height="8.24" fill="#f4c5ad"/>
<rect x="84.77" y="58.88" width="8.24" height="8.24" fill="#f4c5ad"/>
<rect x="92.72" y="58.88" width="8.24" height="8.24" fill="#f4c5ad"/>
<rect x="100.66" y="58.88" width="12.24" height="8.24" fill="#f4c5ad"/>
<rect x="9.30" y="66.82" width="12.24" height="8.24" fill="#e1dad6"/>
<rect x="21.24" y="66.82" width="8.24" height="8.24" fill="#e1dad6"/>
<rect x="29.18" y="66.82" width="8.24" height="8.24" fill="#e1dad6"/>
<rect x="37.12" y="66.82" width="8.24" height="8.24" fill="#f4c5ad"/>
<rect x="45.07" y="66.82" width="8.24" height="8.24" fill="#f4c5ad"/>
<rect x="53.01" y="66.82" width="8.24" height="8.24" fill="#f4c5ad"/>
<rect x="60.95" y="66.82" width="8.24" height="8.24" fill="#f49a7b"/>
<rect x="68.89" y="66.82" width="8.24" height="8.24" fill="#f49a7b"/>
<rect x="76.83" y="66.82" width="8.24" height="8.24" fill="#f4c5ad"/>
<rect x="84.77" y="66.82" width="8.24" height="8.24" fill="#f4c5ad"/>
<rect x="92.72" y="66.82" width="8.24" height="8.24" fill="#f4c5ad"/>
<rect x="100.66" y="66.82" width="12.24" height="8.24" fill="#f4c5ad"/>
<rect x="9.30" y="74.76" width="12.24" height="12.24" fill="#f4c5ad"/>
<rect x="21.24" y="74.76" width="8.24" height="12.24" fill="#e1dad6"/>
<rect x="29.18" y="74.76" width="8.24" height="12.24" fill="#e1dad6"/>
<rect x="37.12" y="74.76" width="8.24" height="12.24" fill="#e1dad6"/>
<rect x="45.07" y="74.76" width="8.24" height="12.24" fill="#f4c5ad"/>
<rect x="53.01" y="74.76" width="8.24" height="12.24" fill="#f4c5ad"/>
<rect x="60.95" y="74.76" width="8.24" height="12.24" fill="#f49a7b"/>
<rect x="68.89" y="74.76" width="8.24" height="12.24" fill="#f49a7b"/>
<rect x="76.83" y="74.76" width="8.24" height="12.24" fill="#f4c5ad"/>
<rect x="84.77" y="74.76" width="8.24" height="12.24" fill="#f4c5ad"/>
<rect x="92.72" y="74.76" width="8.24" height="12.24" fill="#e1dad6"/>
<rect x="100.66" y="74.76" width="12.24" height="12.24" fill="#f4c5ad"/>
</g>
<polygon points="13.3,3.3 38.6,3.3 37.3,5.8 35.8,8.0 35.4,9.7 37.0,11.6 35.0,14.6 31.7,17.0 27.0,19.0 23.2,20.4 20.6,21.3 20.5,23.3 21.3,23.9 23.7,23.9 27.0,22.3 30.8,21.9 34.6,23.0 38.3,23.0 41.2,22.2 44.0,23.4 45.2,25.8 44.4,28.6 41.6,30.2 39.5,30.8 41.6,33.0 40.3,37.2 36.4,41.6 33.7,44.3 30.4,47.6 26.1,50.3 22.8,51.4 19.5,55.8 15.2,60.1 13.3,61.8" fill="#fff"/><polygon points="31.8,82.7 32.5,81 34.5,80.3 36.5,81.2 37.2,82.7" fill="#fff"/>
</g>
<rect x="13.3" y="3.3" width="95.3" height="79.4" fill="none" stroke="#8a8a8a" stroke-width="0.55"/>
<text x="11.8" y="84.90" class="t" text-anchor="end" textLength="4.5" lengthAdjust="spacingAndGlyphs">25</text>
<line x1="12.100000000000001" x2="13.3" y1="82.70" y2="82.70" stroke="#444" stroke-width="0.4"/>
<text x="11.8" y="73.56" class="t" text-anchor="end" textLength="4.5" lengthAdjust="spacingAndGlyphs">26</text>
<line x1="12.100000000000001" x2="13.3" y1="71.36" y2="71.36" stroke="#444" stroke-width="0.4"/>
<text x="11.8" y="62.21" class="t" text-anchor="end" textLength="4.5" lengthAdjust="spacingAndGlyphs">27</text>
<line x1="12.100000000000001" x2="13.3" y1="60.01" y2="60.01" stroke="#444" stroke-width="0.4"/>
<text x="11.8" y="50.87" class="t" text-anchor="end" textLength="4.5" lengthAdjust="spacingAndGlyphs">28</text>
<line x1="12.100000000000001" x2="13.3" y1="48.67" y2="48.67" stroke="#444" stroke-width="0.4"/>
<text x="11.8" y="39.53" class="t" text-anchor="end" textLength="4.5" lengthAdjust="spacingAndGlyphs">29</text>
<line x1="12.100000000000001" x2="13.3" y1="37.33" y2="37.33" stroke="#444" stroke-width="0.4"/>
<text x="11.8" y="28.19" class="t" text-anchor="end" textLength="4.5" lengthAdjust="spacingAndGlyphs">30</text>
<line x1="12.100000000000001" x2="13.3" y1="25.99" y2="25.99" stroke="#444" stroke-width="0.4"/>
<text x="11.8" y="16.84" class="t" text-anchor="end" textLength="4.5" lengthAdjust="spacingAndGlyphs">31</text>
<line x1="12.100000000000001" x2="13.3" y1="14.64" y2="14.64" stroke="#444" stroke-width="0.4"/>
<text x="11.8" y="5.50" class="t" text-anchor="end" textLength="4.5" lengthAdjust="spacingAndGlyphs">32</text>
<line x1="12.100000000000001" x2="13.3" y1="3.30" y2="3.30" stroke="#444" stroke-width="0.4"/>
<text x="13.70" y="87.70" class="t" text-anchor="middle" textLength="6.2" lengthAdjust="spacingAndGlyphs">120</text>
<line y1="82.7" y2="83.9" x1="13.30" x2="13.30" stroke="#444" stroke-width="0.4"/>
<text x="27.31" y="87.70" class="t" text-anchor="middle" textLength="6.2" lengthAdjust="spacingAndGlyphs">121</text>
<line y1="82.7" y2="83.9" x1="26.91" x2="26.91" stroke="#444" stroke-width="0.4"/>
<text x="40.93" y="87.70" class="t" text-anchor="middle" textLength="6.2" lengthAdjust="spacingAndGlyphs">122</text>
<line y1="82.7" y2="83.9" x1="40.53" x2="40.53" stroke="#444" stroke-width="0.4"/>
<text x="54.54" y="87.70" class="t" text-anchor="middle" textLength="6.2" lengthAdjust="spacingAndGlyphs">123</text>
<line y1="82.7" y2="83.9" x1="54.14" x2="54.14" stroke="#444" stroke-width="0.4"/>
<text x="68.16" y="87.70" class="t" text-anchor="middle" textLength="6.2" lengthAdjust="spacingAndGlyphs">124</text>
<line y1="82.7" y2="83.9" x1="67.76" x2="67.76" stroke="#444" stroke-width="0.4"/>
<text x="81.77" y="87.70" class="t" text-anchor="middle" textLength="6.2" lengthAdjust="spacingAndGlyphs">125</text>
<line y1="82.7" y2="83.9" x1="81.37" x2="81.37" stroke="#444" stroke-width="0.4"/>
<text x="95.39" y="87.70" class="t" text-anchor="middle" textLength="6.2" lengthAdjust="spacingAndGlyphs">126</text>
<line y1="82.7" y2="83.9" x1="94.99" x2="94.99" stroke="#444" stroke-width="0.4"/>
<text x="109.00" y="87.70" class="t" text-anchor="middle" textLength="6.2" lengthAdjust="spacingAndGlyphs">127</text>
<line y1="82.7" y2="83.9" x1="108.60" x2="108.60" stroke="#444" stroke-width="0.4"/>
<text x="61.3" y="93.2" class="al" text-anchor="middle" textLength="35.5" lengthAdjust="spacingAndGlyphs">EAST LONGITUDE(°)</text>
<text transform="translate(4.6,43.6) rotate(-90)" class="al" text-anchor="middle" textLength="36.5" lengthAdjust="spacingAndGlyphs">NORTH LATITUDE(°)</text>
<rect x="114.4" y="3.3" width="4.1" height="79.4" fill="url(#cw)"/>
<text x="120.00" y="83.65" class="t" textLength="12.5" lengthAdjust="spacingAndGlyphs">0.4500</text>
<line x1="118.5" x2="119.5" y1="82.70" y2="82.70" stroke="#444" stroke-width="0.4"/>
<text x="120.00" y="75.71" class="t" textLength="12.5" lengthAdjust="spacingAndGlyphs">0.4854</text>
<line x1="118.5" x2="119.5" y1="74.76" y2="74.76" stroke="#444" stroke-width="0.4"/>
<text x="120.00" y="67.77" class="t" textLength="12.5" lengthAdjust="spacingAndGlyphs">0.5207</text>
<line x1="118.5" x2="119.5" y1="66.82" y2="66.82" stroke="#444" stroke-width="0.4"/>
<text x="120.00" y="59.83" class="t" textLength="12.5" lengthAdjust="spacingAndGlyphs">0.5561</text>
<line x1="118.5" x2="119.5" y1="58.88" y2="58.88" stroke="#444" stroke-width="0.4"/>
<text x="120.00" y="51.89" class="t" textLength="12.5" lengthAdjust="spacingAndGlyphs">0.5914</text>
<line x1="118.5" x2="119.5" y1="50.94" y2="50.94" stroke="#444" stroke-width="0.4"/>
<text x="120.00" y="43.95" class="t" textLength="12.5" lengthAdjust="spacingAndGlyphs">0.6268</text>
<line x1="118.5" x2="119.5" y1="43.00" y2="43.00" stroke="#444" stroke-width="0.4"/>
<text x="120.00" y="36.01" class="t" textLength="12.5" lengthAdjust="spacingAndGlyphs">0.6621</text>
<line x1="118.5" x2="119.5" y1="35.06" y2="35.06" stroke="#444" stroke-width="0.4"/>
<text x="120.00" y="28.07" class="t" textLength="12.5" lengthAdjust="spacingAndGlyphs">0.6975</text>
<line x1="118.5" x2="119.5" y1="27.12" y2="27.12" stroke="#444" stroke-width="0.4"/>
<text x="120.00" y="20.13" class="t" textLength="12.5" lengthAdjust="spacingAndGlyphs">0.7328</text>
<line x1="118.5" x2="119.5" y1="19.18" y2="19.18" stroke="#444" stroke-width="0.4"/>
<text x="120.00" y="12.19" class="t" textLength="12.5" lengthAdjust="spacingAndGlyphs">0.7682</text>
<line x1="118.5" x2="119.5" y1="11.24" y2="11.24" stroke="#444" stroke-width="0.4"/>
<text transform="translate(136.4,43.8) rotate(-90)" class="al" text-anchor="middle" textLength="38" lengthAdjust="spacingAndGlyphs">SST PREDICTABILITY</text>
<text x="61" y="101.9" class="cap" text-anchor="middle" textLength="50.5" lengthAdjust="spacingAndGlyphs">(e) 1994~1996</text>
</g>
<g transform="translate(284.2,111.1)">
<g clip-path="url(#clip)">
<g filter="url(#bl)">
<rect x="9.30" y="-0.70" width="12.24" height="12.24" fill="#cfd9ea"/>
<rect x="21.24" y="-0.70" width="8.24" height="12.24" fill="#cfd9ea"/>
<rect x="29.18" y="-0.70" width="8.24" height="12.24" fill="#cfd9ea"/>
<rect x="37.12" y="-0.70" width="8.24" height="12.24" fill="#bfd1f2"/>
<rect x="45.07" y="-0.70" width="8.24" height="12.24" fill="#e1dad6"/>
<rect x="53.01" y="-0.70" width="8.24" height="12.24" fill="#f4c5ad"/>
<rect x="60.95" y="-0.70" width="8.24" height="12.24" fill="#f4c5ad"/>
<rect x="68.89" y="-0.70" width="8.24" height="12.24" fill="#e1dad6"/>
<rect x="76.83" y="-0.70" width="8.24" height="12.24" fill="#f4c5ad"/>
<rect x="84.77" y="-0.70" width="8.24" height="12.24" fill="#e1dad6"/>
<rect x="92.72" y="-0.70" width="8.24" height="12.24" fill="#e1dad6"/>
<rect x="100.66" y="-0.70" width="12.24" height="12.24" fill="#bfd1f2"/>
<rect x="9.30" y="11.24" width="12.24" height="8.24" fill="#cfd9ea"/>
<rect x="21.24" y="11.24" width="8.24" height="8.24" fill="#cfd9ea"/>
<rect x="29.18" y="11.24" width="8.24" height="8.24" fill="#9bb8f6"/>
<rect x="37.12" y="11.24" width="8.24" height="8.24" fill="#9bb8f6"/>
<rect x="45.07" y="11.24" width="8.24" height="8.24" fill="#e1dad6"/>
<rect x="53.01" y="11.24" width="8.24" height="8.24" fill="#f4c5ad"/>
<rect x="60.95" y="11.24" width="8.24" height="8.24" fill="#e1dad6"/>
<rect x="68.89" y="11.24" width="8.24" height="8.24" fill="#f4c5ad"/>
<rect x="76.83" y="11.24" width="8.24" height="8.24" fill="#f49a7b"/>
<rect x="84.77" y="11.24" width="8.24" height="8.24" fill="#e1dad6"/>
<rect x="92.72" y="11.24" width="8.24" height="8.24" fill="#e1dad6"/>
<rect x="100.66" y="11.24" width="12.24" height="8.24" fill="#e1dad6"/>
<rect x="9.30" y="19.18" width="12.24" height="8.24" fill="#cfd9ea"/>
<rect x="21.24" y="19.18" width="8.24" height="8.24" fill="#7392e7"/>
<rect x="29.18" y="19.18" width="8.24" height="8.24" fill="#9bb8f6"/>
<rect x="37.12" y="19.18" width="8.24" height="8.24" fill="#bfd1f2"/>
<rect x="45.07" y="19.18" width="8.24" height="8.24" fill="#f4c5ad"/>
<rect x="53.01" y="19.18" width="8.24" height="8.24" fill="#e1dad6"/>
<rect x="60.95" y="19.18" width="8.24" height="8.24" fill="#f4c5ad"/>
<rect x="68.89" y="19.18" width="8.24" height="8.24" fill="#e1dad6"/>
<rect x="76.83" y="19.18" width="8.24" height="8.24" fill="#e1dad6"/>
<rect x="84.77" y="19.18" width="8.24" height="8.24" fill="#f4c5ad"/>
<rect x="92.72" y="19.18" width="8.24" height="8.24" fill="#e1dad6"/>
<rect x="100.66" y="19.18" width="12.24" height="8.24" fill="#e1dad6"/>
<rect x="9.30" y="27.12" width="12.24" height="8.24" fill="#cfd9ea"/>
<rect x="21.24" y="27.12" width="8.24" height="8.24" fill="#cfd9ea"/>
<rect x="29.18" y="27.12" width="8.24" height="8.24" fill="#cfd9ea"/>
<rect x="37.12" y="27.12" width="8.24" height="8.24" fill="#e1dad6"/>
<rect x="45.07" y="27.12" width="8.24" height="8.24" fill="#f4c5ad"/>
<rect x="53.01" y="27.12" width="8.24" height="8.24" fill="#f4c5ad"/>
<rect x="60.95" y="27.12" width="8.24" height="8.24" fill="#e1dad6"/>
<rect x="68.89" y="27.12" width="8.24" height="8.24" fill="#f4c5ad"/>
<rect x="76.83" y="27.12" width="8.24" height="8.24" fill="#bfd1f2"/>
<rect x="84.77" y="27.12" width="8.24" height="8.24" fill="#e1dad6"/>
<rect x="92.72" y="27.12" width="8.24" height="8.24" fill="#e1dad6"/>
<rect x="100.66" y="27.12" width="12.24" height="8.24" fill="#f4c5ad"/>
<rect x="9.30" y="35.06" width="12.24" height="8.24" fill="#cfd9ea"/>
<rect x="21.24" y="35.06" width="8.24" height="8.24" fill="#cfd9ea"/>
<rect x="29.18" y="35.06" width="8.24" height="8.24" fill="#cfd9ea"/>
<rect x="37.12" y="35.06" width="8.24" height="8.24" fill="#e1dad6"/>
<rect x="45.07" y="35.06" width="8.24" height="8.24" fill="#f4c5ad"/>
<rect x="53.01" y="35.06" width="8.24" height="8.24" fill="#e1dad6"/>
<rect x="60.95" y="35.06" width="8.24" height="8.24" fill="#f4c5ad"/>
<rect x="68.89" y="35.06" width="8.24" height="8.24" fill="#e1dad6"/>
<rect x="76.83" y="35.06" width="8.24" height="8.24" fill="#bfd1f2"/>
<rect x="84.77" y="35.06" width="8.24" height="8.24" fill="#e1dad6"/>
<rect x="92.72" y="35.06" width="8.24" height="8.24" fill="#f4c5ad"/>
<rect x="100.66" y="35.06" width="12.24" height="8.24" fill="#e1dad6"/>
<rect x="9.30" y="43.00" width="12.24" height="8.24" fill="#cfd9ea"/>
<rect x="21.24" y="43.00" width="8.24" height="8.24" fill="#cfd9ea"/>
<rect x="29.18" y="43.00" width="8.24" height="8.24" fill="#e1dad6"/>
<rect x="37.12" y="43.00" width="8.24" height="8.24" fill="#f4c5ad"/>
<rect x="45.07" y="43.00" width="8.24" height="8.24" fill="#f4c5ad"/>
<rect x="53.01" y="43.00" width="8.24" height="8.24" fill="#e1dad6"/>
<rect x="60.95" y="43.00" width="8.24" height="8.24" fill="#f4c5ad"/>
<rect x="68.89" y="43.00" width="8.24" height="8.24" fill="#e1dad6"/>
<rect x="76.83" y="43.00" width="8.24" height="8.24" fill="#f4c5ad"/>
<rect x="84.77" y="43.00" width="8.24" height="8.24" fill="#f4c5ad"/>
<rect x="92.72" y="43.00" width="8.24" height="8.24" fill="#e1dad6"/>
<rect x="100.66" y="43.00" width="12.24" height="8.24" fill="#f4c5ad"/>
<rect x="9.30" y="50.94" width="12.24" height="8.24" fill="#e1dad6"/>
<rect x="21.24" y="50.94" width="8.24" height="8.24" fill="#bfd1f2"/>
<rect x="29.18" y="50.94" width="8.24" height="8.24" fill="#e1dad6"/>
<rect x="37.12" y="50.94" width="8.24" height="8.24" fill="#e1dad6"/>
<rect x="45.07" y="50.94" width="8.24" height="8.24" fill="#f4c5ad"/>
<rect x="53.01" y="50.94" width="8.24" height="8.24" fill="#f4c5ad"/>
<rect x="60.95" y="50.94" width="8.24" height="8.24" fill="#e1dad6"/>
<rect x="68.89" y="50.94" width="8.24" height="8.24" fill="#f4c5ad"/>
<rect x="76.83" y="50.94" width="8.24" height="8.24" fill="#f4c5ad"/>
<rect x="84.77" y="50.94" width="8.24" height="8.24" fill="#f4c5ad"/>
<rect x="92.72" y="50.94" width="8.24" height="8.24" fill="#f4c5ad"/>
<rect x="100.66" y="50.94" width="12.24" height="8.24" fill="#e1dad6"/>
<rect x="9.30" y="58.88" width="12.24" height="8.24" fill="#f4c5ad"/>
<rect x="21.24" y="58.88" width="8.24" height="8.24" fill="#e1dad6"/>
<rect x="29.18" y="58.88" width="8.24" height="8.24" fill="#e1dad6"/>
<rect x="37.12" y="58.88" width="8.24" height="8.24" fill="#f4c5ad"/>
<rect x="45.07" y="58.88" width="8.24" height="8.24" fill="#f49a7b"/>
<rect x="53.01" y="58.88" width="8.24" height="8.24" fill="#f49a7b"/>
<rect x="60.95" y="58.88" width="8.24" height="8.24" fill="#f4c5ad"/>
<rect x="68.89" y="58.88" width="8.24" height="8.24" fill="#f4c5ad"/>
<rect x="76.83" y="58.88" width="8.24" height="8.24" fill="#e1dad6"/>
<rect x="84.77" y="58.88" width="8.24" height="8.24" fill="#f4c5ad"/>
<rect x="92.72" y="58.88" width="8.24" height="8.24" fill="#f4c5ad"/>
<rect x="100.66" y="58.88" width="12.24" height="8.24" fill="#e1dad6"/>
<rect x="9.30" y="66.82" width="12.24" height="8.24" fill="#e1dad6"/>
<rect x="21.24" y="66.82" width="8.24" height="8.24" fill="#e1dad6"/>
<rect x="29.18" y="66.82" width="8.24" height="8.24" fill="#f4c5ad"/>
<rect x="37.12" y="66.82" width="8.24" height="8.24" fill="#f4c5ad"/>
<rect x="45.07" y="66.82" width="8.24" height="8.24" fill="#f4c5ad"/>
<rect x="53.01" y="66.82" width="8.24" height="8.24" fill="#f4c5ad"/>
<rect x="60.95" y="66.82" width="8.24" height="8.24" fill="#f4c5ad"/>
<rect x="68.89" y="66.82" width="8.24" height="8.24" fill="#f49a7b"/>
<rect x="76.83" y="66.82" width="8.24" height="8.24" fill="#f4c5ad"/>
<rect x="84.77" y="66.82" width="8.24" height="8.24" fill="#e1dad6"/>
<rect x="92.72" y="66.82" width="8.24" height="8.24" fill="#f4c5ad"/>
<rect x="100.66" y="66.82" width="12.24" height="8.24" fill="#e1dad6"/>
<rect x="9.30" y="74.76" width="12.24" height="12.24" fill="#e1dad6"/>
<rect x="21.24" y="74.76" width="8.24" height="12.24" fill="#e1dad6"/>
<rect x="29.18" y="74.76" width="8.24" height="12.24" fill="#e1dad6"/>
<rect x="37.12" y="74.76" width="8.24" height="12.24" fill="#f4c5ad"/>
<rect x="45.07" y="74.76" width="8.24" height="12.24" fill="#f4c5ad"/>
<rect x="53.01" y="74.76" width="8.24" height="12.24" fill="#f4c5ad"/>
<rect x="60.95" y="74.76" width="8.24" height="12.24" fill="#f4c5ad"/>
<rect x="68.89" y="74.76" width="8.24" height="12.24" fill="#f4c5ad"/>
<rect x="76.83" y="74.76" width="8.24" height="12.24" fill="#f4c5ad"/>
<rect x="84.77" y="74.76" width="8.24" height="12.24" fill="#e1dad6"/>
<rect x="92.72" y="74.76" width="8.24" height="12.24" fill="#e1dad6"/>
<rect x="100.66" y="74.76" width="12.24" height="12.24" fill="#e1dad6"/>
<circle cx="76.8" cy="17.4" r="1.3" fill="#ec7f63"/>
</g>
<polygon points="13.3,3.3 38.6,3.3 37.3,5.8 35.8,8.0 35.4,9.7 37.0,11.6 35.0,14.6 31.7,17.0 27.0,19.0 23.2,20.4 20.6,21.3 20.5,23.3 21.3,23.9 23.7,23.9 27.0,22.3 30.8,21.9 34.6,23.0 38.3,23.0 41.2,22.2 44.0,23.4 45.2,25.8 44.4,28.6 41.6,30.2 39.5,30.8 41.6,33.0 40.3,37.2 36.4,41.6 33.7,44.3 30.4,47.6 26.1,50.3 22.8,51.4 19.5,55.8 15.2,60.1 13.3,61.8" fill="#fff"/><polygon points="31.8,82.7 32.5,81 34.5,80.3 36.5,81.2 37.2,82.7" fill="#fff"/>
</g>
<rect x="13.3" y="3.3" width="95.3" height="79.4" fill="none" stroke="#8a8a8a" stroke-width="0.55"/>
<text x="11.8" y="84.90" class="t" text-anchor="end" textLength="4.5" lengthAdjust="spacingAndGlyphs">25</text>
<line x1="12.100000000000001" x2="13.3" y1="82.70" y2="82.70" stroke="#444" stroke-width="0.4"/>
<text x="11.8" y="73.56" class="t" text-anchor="end" textLength="4.5" lengthAdjust="spacingAndGlyphs">26</text>
<line x1="12.100000000000001" x2="13.3" y1="71.36" y2="71.36" stroke="#444" stroke-width="0.4"/>
<text x="11.8" y="62.21" class="t" text-anchor="end" textLength="4.5" lengthAdjust="spacingAndGlyphs">27</text>
<line x1="12.100000000000001" x2="13.3" y1="60.01" y2="60.01" stroke="#444" stroke-width="0.4"/>
<text x="11.8" y="50.87" class="t" text-anchor="end" textLength="4.5" lengthAdjust="spacingAndGlyphs">28</text>
<line x1="12.100000000000001" x2="13.3" y1="48.67" y2="48.67" stroke="#444" stroke-width="0.4"/>
<text x="11.8" y="39.53" class="t" text-anchor="end" textLength="4.5" lengthAdjust="spacingAndGlyphs">29</text>
<line x1="12.100000000000001" x2="13.3" y1="37.33" y2="37.33" stroke="#444" stroke-width="0.4"/>
<text x="11.8" y="28.19" class="t" text-anchor="end" textLength="4.5" lengthAdjust="spacingAndGlyphs">30</text>
<line x1="12.100000000000001" x2="13.3" y1="25.99" y2="25.99" stroke="#444" stroke-width="0.4"/>
<text x="11.8" y="16.84" class="t" text-anchor="end" textLength="4.5" lengthAdjust="spacingAndGlyphs">31</text>
<line x1="12.100000000000001" x2="13.3" y1="14.64" y2="14.64" stroke="#444" stroke-width="0.4"/>
<text x="11.8" y="5.50" class="t" text-anchor="end" textLength="4.5" lengthAdjust="spacingAndGlyphs">32</text>
<line x1="12.100000000000001" x2="13.3" y1="3.30" y2="3.30" stroke="#444" stroke-width="0.4"/>
<text x="13.70" y="87.70" class="t" text-anchor="middle" textLength="6.2" lengthAdjust="spacingAndGlyphs">120</text>
<line y1="82.7" y2="83.9" x1="13.30" x2="13.30" stroke="#444" stroke-width="0.4"/>
<text x="27.31" y="87.70" class="t" text-anchor="middle" textLength="6.2" lengthAdjust="spacingAndGlyphs">121</text>
<line y1="82.7" y2="83.9" x1="26.91" x2="26.91" stroke="#444" stroke-width="0.4"/>
<text x="40.93" y="87.70" class="t" text-anchor="middle" textLength="6.2" lengthAdjust="spacingAndGlyphs">122</text>
<line y1="82.7" y2="83.9" x1="40.53" x2="40.53" stroke="#444" stroke-width="0.4"/>
<text x="54.54" y="87.70" class="t" text-anchor="middle" textLength="6.2" lengthAdjust="spacingAndGlyphs">123</text>
<line y1="82.7" y2="83.9" x1="54.14" x2="54.14" stroke="#444" stroke-width="0.4"/>
<text x="68.16" y="87.70" class="t" text-anchor="middle" textLength="6.2" lengthAdjust="spacingAndGlyphs">124</text>
<line y1="82.7" y2="83.9" x1="67.76" x2="67.76" stroke="#444" stroke-width="0.4"/>
<text x="81.77" y="87.70" class="t" text-anchor="middle" textLength="6.2" lengthAdjust="spacingAndGlyphs">125</text>
<line y1="82.7" y2="83.9" x1="81.37" x2="81.37" stroke="#444" stroke-width="0.4"/>
<text x="95.39" y="87.70" class="t" text-anchor="middle" textLength="6.2" lengthAdjust="spacingAndGlyphs">126</text>
<line y1="82.7" y2="83.9" x1="94.99" x2="94.99" stroke="#444" stroke-width="0.4"/>
<text x="109.00" y="87.70" class="t" text-anchor="middle" textLength="6.2" lengthAdjust="spacingAndGlyphs">127</text>
<line y1="82.7" y2="83.9" x1="108.60" x2="108.60" stroke="#444" stroke-width="0.4"/>
<text x="61.3" y="93.2" class="al" text-anchor="middle" textLength="35.5" lengthAdjust="spacingAndGlyphs">EAST LONGITUDE(°)</text>
<text transform="translate(4.6,43.6) rotate(-90)" class="al" text-anchor="middle" textLength="36.5" lengthAdjust="spacingAndGlyphs">NORTH LATITUDE(°)</text>
<rect x="114.4" y="3.3" width="4.1" height="79.4" fill="url(#cw)"/>
<text x="120.00" y="83.65" class="t" textLength="12.5" lengthAdjust="spacingAndGlyphs">0.4500</text>
<line x1="118.5" x2="119.5" y1="82.70" y2="82.70" stroke="#444" stroke-width="0.4"/>
<text x="120.00" y="75.71" class="t" textLength="12.5" lengthAdjust="spacingAndGlyphs">0.4854</text>
<line x1="118.5" x2="119.5" y1="74.76" y2="74.76" stroke="#444" stroke-width="0.4"/>
<text x="120.00" y="67.77" class="t" textLength="12.5" lengthAdjust="spacingAndGlyphs">0.5207</text>
<line x1="118.5" x2="119.5" y1="66.82" y2="66.82" stroke="#444" stroke-width="0.4"/>
<text x="120.00" y="59.83" class="t" textLength="12.5" lengthAdjust="spacingAndGlyphs">0.5561</text>
<line x1="118.5" x2="119.5" y1="58.88" y2="58.88" stroke="#444" stroke-width="0.4"/>
<text x="120.00" y="51.89" class="t" textLength="12.5" lengthAdjust="spacingAndGlyphs">0.5914</text>
<line x1="118.5" x2="119.5" y1="50.94" y2="50.94" stroke="#444" stroke-width="0.4"/>
<text x="120.00" y="43.95" class="t" textLength="12.5" lengthAdjust="spacingAndGlyphs">0.6268</text>
<line x1="118.5" x2="119.5" y1="43.00" y2="43.00" stroke="#444" stroke-width="0.4"/>
<text x="120.00" y="36.01" class="t" textLength="12.5" lengthAdjust="spacingAndGlyphs">0.6621</text>
<line x1="118.5" x2="119.5" y1="35.06" y2="35.06" stroke="#444" stroke-width="0.4"/>
<text x="120.00" y="28.07" class="t" textLength="12.5" lengthAdjust="spacingAndGlyphs">0.6975</text>
<line x1="118.5" x2="119.5" y1="27.12" y2="27.12" stroke="#444" stroke-width="0.4"/>
<text x="120.00" y="20.13" class="t" textLength="12.5" lengthAdjust="spacingAndGlyphs">0.7328</text>
<line x1="118.5" x2="119.5" y1="19.18" y2="19.18" stroke="#444" stroke-width="0.4"/>
<text x="120.00" y="12.19" class="t" textLength="12.5" lengthAdjust="spacingAndGlyphs">0.7682</text>
<line x1="118.5" x2="119.5" y1="11.24" y2="11.24" stroke="#444" stroke-width="0.4"/>
<text transform="translate(136.4,43.8) rotate(-90)" class="al" text-anchor="middle" textLength="38" lengthAdjust="spacingAndGlyphs">SST PREDICTABILITY</text>
<text x="61" y="101.9" class="cap" text-anchor="middle" textLength="50.5" lengthAdjust="spacingAndGlyphs">(f) 1997~1999</text>
</g>
<g transform="translate(0.0,222.2)">
<g clip-path="url(#clip)">
<g filter="url(#bl)">
<rect x="9.30" y="-0.70" width="12.24" height="12.24" fill="#cfd9ea"/>
<rect x="21.24" y="-0.70" width="8.24" height="12.24" fill="#cfd9ea"/>
<rect x="29.18" y="-0.70" width="8.24" height="12.24" fill="#cfd9ea"/>
<rect x="37.12" y="-0.70" width="8.24" height="12.24" fill="#bfd1f2"/>
<rect x="45.07" y="-0.70" width="8.24" height="12.24" fill="#e1dad6"/>
<rect x="53.01" y="-0.70" width="8.24" height="12.24" fill="#f4c5ad"/>
<rect x="60.95" y="-0.70" width="8.24" height="12.24" fill="#e1dad6"/>
<rect x="68.89" y="-0.70" width="8.24" height="12.24" fill="#bfd1f2"/>
<rect x="76.83" y="-0.70" width="8.24" height="12.24" fill="#e1dad6"/>
<rect x="84.77" y="-0.70" width="8.24" height="12.24" fill="#bfd1f2"/>
<rect x="92.72" y="-0.70" width="8.24" height="12.24" fill="#e1dad6"/>
<rect x="100.66" y="-0.70" width="12.24" height="12.24" fill="#e1dad6"/>
<rect x="9.30" y="11.24" width="12.24" height="8.24" fill="#cfd9ea"/>
<rect x="21.24" y="11.24" width="8.24" height="8.24" fill="#cfd9ea"/>
<rect x="29.18" y="11.24" width="8.24" height="8.24" fill="#e1dad6"/>
<rect x="37.12" y="11.24" width="8.24" height="8.24" fill="#e1dad6"/>
<rect x="45.07" y="11.24" width="8.24" height="8.24" fill="#f4c5ad"/>
<rect x="53.01" y="11.24" width="8.24" height="8.24" fill="#f4c5ad"/>
<rect x="60.95" y="11.24" width="8.24" height="8.24" fill="#bfd1f2"/>
<rect x="68.89" y="11.24" width="8.24" height="8.24" fill="#bfd1f2"/>
<rect x="76.83" y="11.24" width="8.24" height="8.24" fill="#bfd1f2"/>
<rect x="84.77" y="11.24" width="8.24" height="8.24" fill="#bfd1f2"/>
<rect x="92.72" y="11.24" width="8.24" height="8.24" fill="#e1dad6"/>
<rect x="100.66" y="11.24" width="12.24" height="8.24" fill="#bfd1f2"/>
<rect x="9.30" y="19.18" width="12.24" height="8.24" fill="#cfd9ea"/>
<rect x="21.24" y="19.18" width="8.24" height="8.24" fill="#7392e7"/>
<rect x="29.18" y="19.18" width="8.24" height="8.24" fill="#e1dad6"/>
<rect x="37.12" y="19.18" width="8.24" height="8.24" fill="#e1dad6"/>
<rect x="45.07" y="19.18" width="8.24" height="8.24" fill="#f4c5ad"/>
<rect x="53.01" y="19.18" width="8.24" height="8.24" fill="#e1dad6"/>
<rect x="60.95" y="19.18" width="8.24" height="8.24" fill="#bfd1f2"/>
<rect x="68.89" y="19.18" width="8.24" height="8.24" fill="#bfd1f2"/>
<rect x="76.83" y="19.18" width="8.24" height="8.24" fill="#bfd1f2"/>
<rect x="84.77" y="19.18" width="8.24" height="8.24" fill="#e1dad6"/>
<rect x="92.72" y="19.18" width="8.24" height="8.24" fill="#bfd1f2"/>
<rect x="100.66" y="19.18" width="12.24" height="8.24" fill="#bfd1f2"/>
<rect x="9.30" y="27.12" width="12.24" height="8.24" fill="#cfd9ea"/>
<rect x="21.24" y="27.12" width="8.24" height="8.24" fill="#cfd9ea"/>
<rect x="29.18" y="27.12" width="8.24" height="8.24" fill="#cfd9ea"/>
<rect x="37.12" y="27.12" width="8.24" height="8.24" fill="#e1dad6"/>
<rect x="45.07" y="27.12" width="8.24" height="8.24" fill="#f4c5ad"/>
<rect x="53.01" y="27.12" width="8.24" height="8.24" fill="#bfd1f2"/>
<rect x="60.95" y="27.12" width="8.24" height="8.24" fill="#bfd1f2"/>
<rect x="68.89" y="27.12" width="8.24" height="8.24" fill="#f4c5ad"/>
<rect x="76.83" y="27.12" width="8.24" height="8.24" fill="#bfd1f2"/>
<rect x="84.77" y="27.12" width="8.24" height="8.24" fill="#e1dad6"/>
<rect x="92.72" y="27.12" width="8.24" height="8.24" fill="#e1dad6"/>
<rect x="100.66" y="27.12" width="12.24" height="8.24" fill="#e1dad6"/>
<rect x="9.30" y="35.06" width="12.24" height="8.24" fill="#cfd9ea"/>
<rect x="21.24" y="35.06" width="8.24" height="8.24" fill="#cfd9ea"/>
<rect x="29.18" y="35.06" width="8.24" height="8.24" fill="#bfd1f2"/>
<rect x="37.12" y="35.06" width="8.24" height="8.24" fill="#bfd1f2"/>
<rect x="45.07" y="35.06" width="8.24" height="8.24" fill="#e1dad6"/>
<rect x="53.01" y="35.06" width="8.24" height="8.24" fill="#e1dad6"/>
<rect x="60.95" y="35.06" width="8.24" height="8.24" fill="#bfd1f2"/>
<rect x="68.89" y="35.06" width="8.24" height="8.24" fill="#e1dad6"/>
<rect x="76.83" y="35.06" width="8.24" height="8.24" fill="#e1dad6"/>
<rect x="84.77" y="35.06" width="8.24" height="8.24" fill="#e1dad6"/>
<rect x="92.72" y="35.06" width="8.24" height="8.24" fill="#f4c5ad"/>
<rect x="100.66" y="35.06" width="12.24" height="8.24" fill="#e1dad6"/>
<rect x="9.30" y="43.00" width="12.24" height="8.24" fill="#cfd9ea"/>
<rect x="21.24" y="43.00" width="8.24" height="8.24" fill="#bfd1f2"/>
<rect x="29.18" y="43.00" width="8.24" height="8.24" fill="#bfd1f2"/>
<rect x="37.12" y="43.00" width="8.24" height="8.24" fill="#e1dad6"/>
<rect x="45.07" y="43.00" width="8.24" height="8.24" fill="#e1dad6"/>
<rect x="53.01" y="43.00" width="8.24" height="8.24" fill="#bfd1f2"/>
<rect x="60.95" y="43.00" width="8.24" height="8.24" fill="#f4c5ad"/>
<rect x="68.89" y="43.00" width="8.24" height="8.24" fill="#e1dad6"/>
<rect x="76.83" y="43.00" width="8.24" height="8.24" fill="#bfd1f2"/>
<rect x="84.77" y="43.00" width="8.24" height="8.24" fill="#e1dad6"/>
<rect x="92.72" y="43.00" width="8.24" height="8.24" fill="#e1dad6"/>
<rect x="100.66" y="43.00" width="12.24" height="8.24" fill="#e1dad6"/>
<rect x="9.30" y="50.94" width="12.24" height="8.24" fill="#bfd1f2"/>
<rect x="21.24" y="50.94" width="8.24" height="8.24" fill="#e1dad6"/>
<rect x="29.18" y="50.94" width="8.24" height="8.24" fill="#f4c5ad"/>
<rect x="37.12" y="50.94" width="8.24" height="8.24" fill="#e1dad6"/>
<rect x="45.07" y="50.94" width="8.24" height="8.24" fill="#f4c5ad"/>
<rect x="53.01" y="50.94" width="8.24" height="8.24" fill="#e1dad6"/>
<rect x="60.95" y="50.94" width="8.24" height="8.24" fill="#f4c5ad"/>
<rect x="68.89" y="50.94" width="8.24" height="8.24" fill="#e1dad6"/>
<rect x="76.83" y="50.94" width="8.24" height="8.24" fill="#f4c5ad"/>
<rect x="84.77" y="50.94" width="8.24" height="8.24" fill="#f4c5ad"/>
<rect x="92.72" y="50.94" width="8.24" height="8.24" fill="#e1dad6"/>
<rect x="100.66" y="50.94" width="12.24" height="8.24" fill="#e1dad6"/>
<rect x="9.30" y="58.88" width="12.24" height="8.24" fill="#bfd1f2"/>
<rect x="21.24" y="58.88" width="8.24" height="8.24" fill="#f4c5ad"/>
<rect x="29.18" y="58.88" width="8.24" height="8.24" fill="#f4c5ad"/>
<rect x="37.12" y="58.88" width="8.24" height="8.24" fill="#f4c5ad"/>
<rect x="45.07" y="58.88" width="8.24" height="8.24" fill="#f4c5ad"/>
<rect x="53.01" y="58.88" width="8.24" height="8.24" fill="#f4c5ad"/>
<rect x="60.95" y="58.88" width="8.24" height="8.24" fill="#e1dad6"/>
<rect x="68.89" y="58.88" width="8.24" height="8.24" fill="#f4c5ad"/>
<rect x="76.83" y="58.88" width="8.24" height="8.24" fill="#e1dad6"/>
<rect x="84.77" y="58.88" width="8.24" height="8.24" fill="#f4c5ad"/>
<rect x="92.72" y="58.88" width="8.24" height="8.24" fill="#e1dad6"/>
<rect x="100.66" y="58.88" width="12.24" height="8.24" fill="#f4c5ad"/>
<rect x="9.30" y="66.82" width="12.24" height="8.24" fill="#bfd1f2"/>
<rect x="21.24" y="66.82" width="8.24" height="8.24" fill="#e1dad6"/>
<rect x="29.18" y="66.82" width="8.24" height="8.24" fill="#f4c5ad"/>
<rect x="37.12" y="66.82" width="8.24" height="8.24" fill="#f4c5ad"/>
<rect x="45.07" y="66.82" width="8.24" height="8.24" fill="#f49a7b"/>
<rect x="53.01" y="66.82" width="8.24" height="8.24" fill="#f49a7b"/>
<rect x="60.95" y="66.82" width="8.24" height="8.24" fill="#f4c5ad"/>
<rect x="68.89" y="66.82" width="8.24" height="8.24" fill="#e1dad6"/>
<rect x="76.83" y="66.82" width="8.24" height="8.24" fill="#e1dad6"/>
<rect x="84.77" y="66.82" width="8.24" height="8.24" fill="#e1dad6"/>
<rect x="92.72" y="66.82" width="8.24" height="8.24" fill="#f4c5ad"/>
<rect x="100.66" y="66.82" width="12.24" height="8.24" fill="#f4c5ad"/>
<rect x="9.30" y="74.76" width="12.24" height="12.24" fill="#e1dad6"/>
<rect x="21.24" y="74.76" width="8.24" height="12.24" fill="#e1dad6"/>
<rect x="29.18" y="74.76" width="8.24" height="12.24" fill="#e1dad6"/>
<rect x="37.12" y="74.76" width="8.24" height="12.24" fill="#f4c5ad"/>
<rect x="45.07" y="74.76" width="8.24" height="12.24" fill="#f4c5ad"/>
<rect x="53.01" y="74.76" width="8.24" height="12.24" fill="#f4c5ad"/>
<rect x="60.95" y="74.76" width="8.24" height="12.24" fill="#f4c5ad"/>
<rect x="68.89" y="74.76" width="8.24" height="12.24" fill="#e1dad6"/>
<rect x="76.83" y="74.76" width="8.24" height="12.24" fill="#f4c5ad"/>
<rect x="84.77" y="74.76" width="8.24" height="12.24" fill="#e1dad6"/>
<rect x="92.72" y="74.76" width="8.24" height="12.24" fill="#f4c5ad"/>
<rect x="100.66" y="74.76" width="12.24" height="12.24" fill="#f49a7b"/>
</g>
<polygon points="13.3,3.3 38.6,3.3 37.3,5.8 35.8,8.0 35.4,9.7 37.0,11.6 35.0,14.6 31.7,17.0 27.0,19.0 23.2,20.4 20.6,21.3 20.5,23.3 21.3,23.9 23.7,23.9 27.0,22.3 30.8,21.9 34.6,23.0 38.3,23.0 41.2,22.2 44.0,23.4 45.2,25.8 44.4,28.6 41.6,30.2 39.5,30.8 41.6,33.0 40.3,37.2 36.4,41.6 33.7,44.3 30.4,47.6 26.1,50.3 22.8,51.4 19.5,55.8 15.2,60.1 13.3,61.8" fill="#fff"/><polygon points="31.8,82.7 32.5,81 34.5,80.3 36.5,81.2 37.2,82.7" fill="#fff"/>
</g>
<rect x="13.3" y="3.3" width="95.3" height="79.4" fill="none" stroke="#8a8a8a" stroke-width="0.55"/>
<text x="11.8" y="84.90" class="t" text-anchor="end" textLength="4.5" lengthAdjust="spacingAndGlyphs">25</text>
<line x1="12.100000000000001" x2="13.3" y1="82.70" y2="82.70" stroke="#444" stroke-width="0.4"/>
<text x="11.8" y="73.56" class="t" text-anchor="end" textLength="4.5" lengthAdjust="spacingAndGlyphs">26</text>
<line x1="12.100000000000001" x2="13.3" y1="71.36" y2="71.36" stroke="#444" stroke-width="0.4"/>
<text x="11.8" y="62.21" class="t" text-anchor="end" textLength="4.5" lengthAdjust="spacingAndGlyphs">27</text>
<line x1="12.100000000000001" x2="13.3" y1="60.01" y2="60.01" stroke="#444" stroke-width="0.4"/>
<text x="11.8" y="50.87" class="t" text-anchor="end" textLength="4.5" lengthAdjust="spacingAndGlyphs">28</text>
<line x1="12.100000000000001" x2="13.3" y1="48.67" y2="48.67" stroke="#444" stroke-width="0.4"/>
<text x="11.8" y="39.53" class="t" text-anchor="end" textLength="4.5" lengthAdjust="spacingAndGlyphs">29</text>
<line x1="12.100000000000001" x2="13.3" y1="37.33" y2="37.33" stroke="#444" stroke-width="0.4"/>
<text x="11.8" y="28.19" class="t" text-anchor="end" textLength="4.5" lengthAdjust="spacingAndGlyphs">30</text>
<line x1="12.100000000000001" x2="13.3" y1="25.99" y2="25.99" stroke="#444" stroke-width="0.4"/>
<text x="11.8" y="16.84" class="t" text-anchor="end" textLength="4.5" lengthAdjust="spacingAndGlyphs">31</text>
<line x1="12.100000000000001" x2="13.3" y1="14.64" y2="14.64" stroke="#444" stroke-width="0.4"/>
<text x="11.8" y="5.50" class="t" text-anchor="end" textLength="4.5" lengthAdjust="spacingAndGlyphs">32</text>
<line x1="12.100000000000001" x2="13.3" y1="3.30" y2="3.30" stroke="#444" stroke-width="0.4"/>
<text x="13.70" y="87.70" class="t" text-anchor="middle" textLength="6.2" lengthAdjust="spacingAndGlyphs">120</text>
<line y1="82.7" y2="83.9" x1="13.30" x2="13.30" stroke="#444" stroke-width="0.4"/>
<text x="27.31" y="87.70" class="t" text-anchor="middle" textLength="6.2" lengthAdjust="spacingAndGlyphs">121</text>
<line y1="82.7" y2="83.9" x1="26.91" x2="26.91" stroke="#444" stroke-width="0.4"/>
<text x="40.93" y="87.70" class="t" text-anchor="middle" textLength="6.2" lengthAdjust="spacingAndGlyphs">122</text>
<line y1="82.7" y2="83.9" x1="40.53" x2="40.53" stroke="#444" stroke-width="0.4"/>
<text x="54.54" y="87.70" class="t" text-anchor="middle" textLength="6.2" lengthAdjust="spacingAndGlyphs">123</text>
<line y1="82.7" y2="83.9" x1="54.14" x2="54.14" stroke="#444" stroke-width="0.4"/>
<text x="68.16" y="87.70" class="t" text-anchor="middle" textLength="6.2" lengthAdjust="spacingAndGlyphs">124</text>
<line y1="82.7" y2="83.9" x1="67.76" x2="67.76" stroke="#444" stroke-width="0.4"/>
<text x="81.77" y="87.70" class="t" text-anchor="middle" textLength="6.2" lengthAdjust="spacingAndGlyphs">125</text>
<line y1="82.7" y2="83.9" x1="81.37" x2="81.37" stroke="#444" stroke-width="0.4"/>
<text x="95.39" y="87.70" class="t" text-anchor="middle" textLength="6.2" lengthAdjust="spacingAndGlyphs">126</text>
<line y1="82.7" y2="83.9" x1="94.99" x2="94.99" stroke="#444" stroke-width="0.4"/>
<text x="109.00" y="87.70" class="t" text-anchor="middle" textLength="6.2" lengthAdjust="spacingAndGlyphs">127</text>
<line y1="82.7" y2="83.9" x1="108.60" x2="108.60" stroke="#444" stroke-width="0.4"/>
<text x="61.3" y="93.2" class="al" text-anchor="middle" textLength="35.5" lengthAdjust="spacingAndGlyphs">EAST LONGITUDE(°)</text>
<text transform="translate(4.6,43.6) rotate(-90)" class="al" text-anchor="middle" textLength="36.5" lengthAdjust="spacingAndGlyphs">NORTH LATITUDE(°)</text>
<rect x="114.4" y="3.3" width="4.1" height="79.4" fill="url(#cw)"/>
<text x="120.00" y="83.65" class="t" textLength="12.5" lengthAdjust="spacingAndGlyphs">0.4500</text>
<line x1="118.5" x2="119.5" y1="82.70" y2="82.70" stroke="#444" stroke-width="0.4"/>
<text x="120.00" y="75.71" class="t" textLength="12.5" lengthAdjust="spacingAndGlyphs">0.4854</text>
<line x1="118.5" x2="119.5" y1="74.76" y2="74.76" stroke="#444" stroke-width="0.4"/>
<text x="120.00" y="67.77" class="t" textLength="12.5" lengthAdjust="spacingAndGlyphs">0.5207</text>
<line x1="118.5" x2="119.5" y1="66.82" y2="66.82" stroke="#444" stroke-width="0.4"/>
<text x="120.00" y="59.83" class="t" textLength="12.5" lengthAdjust="spacingAndGlyphs">0.5561</text>
<line x1="118.5" x2="119.5" y1="58.88" y2="58.88" stroke="#444" stroke-width="0.4"/>
<text x="120.00" y="51.89" class="t" textLength="12.5" lengthAdjust="spacingAndGlyphs">0.5914</text>
<line x1="118.5" x2="119.5" y1="50.94" y2="50.94" stroke="#444" stroke-width="0.4"/>
<text x="120.00" y="43.95" class="t" textLength="12.5" lengthAdjust="spacingAndGlyphs">0.6268</text>
<line x1="118.5" x2="119.5" y1="43.00" y2="43.00" stroke="#444" stroke-width="0.4"/>
<text x="120.00" y="36.01" class="t" textLength="12.5" lengthAdjust="spacingAndGlyphs">0.6621</text>
<line x1="118.5" x2="119.5" y1="35.06" y2="35.06" stroke="#444" stroke-width="0.4"/>
<text x="120.00" y="28.07" class="t" textLength="12.5" lengthAdjust="spacingAndGlyphs">0.6975</text>
<line x1="118.5" x2="119.5" y1="27.12" y2="27.12" stroke="#444" stroke-width="0.4"/>
<text x="120.00" y="20.13" class="t" textLength="12.5" lengthAdjust="spacingAndGlyphs">0.7328</text>
<line x1="118.5" x2="119.5" y1="19.18" y2="19.18" stroke="#444" stroke-width="0.4"/>
<text x="120.00" y="12.19" class="t" textLength="12.5" lengthAdjust="spacingAndGlyphs">0.7682</text>
<line x1="118.5" x2="119.5" y1="11.24" y2="11.24" stroke="#444" stroke-width="0.4"/>
<text transform="translate(136.4,43.8) rotate(-90)" class="al" text-anchor="middle" textLength="38" lengthAdjust="spacingAndGlyphs">SST PREDICTABILITY</text>
<text x="61" y="101.9" class="cap" text-anchor="middle" textLength="50.5" lengthAdjust="spacingAndGlyphs">(g) 2000~2002</text>
</g>
<g transform="translate(142.1,222.2)">
<g clip-path="url(#clip)">
<g filter="url(#bl)">
<rect x="9.30" y="-0.70" width="12.24" height="12.24" fill="#cfd9ea"/>
<rect x="21.24" y="-0.70" width="8.24" height="12.24" fill="#cfd9ea"/>
<rect x="29.18" y="-0.70" width="8.24" height="12.24" fill="#cfd9ea"/>
<rect x="37.12" y="-0.70" width="8.24" height="12.24" fill="#9bb8f6"/>
<rect x="45.07" y="-0.70" width="8.24" height="12.24" fill="#bfd1f2"/>
<rect x="53.01" y="-0.70" width="8.24" height="12.24" fill="#bfd1f2"/>
<rect x="60.95" y="-0.70" width="8.24" height="12.24" fill="#bfd1f2"/>
<rect x="68.89" y="-0.70" width="8.24" height="12.24" fill="#e1dad6"/>
<rect x="76.83" y="-0.70" width="8.24" height="12.24" fill="#bfd1f2"/>
<rect x="84.77" y="-0.70" width="8.24" height="12.24" fill="#bfd1f2"/>
<rect x="92.72" y="-0.70" width="8.24" height="12.24" fill="#e1dad6"/>
<rect x="100.66" y="-0.70" width="12.24" height="12.24" fill="#bfd1f2"/>
<rect x="9.30" y="11.24" width="12.24" height="8.24" fill="#cfd9ea"/>
<rect x="21.24" y="11.24" width="8.24" height="8.24" fill="#cfd9ea"/>
<rect x="29.18" y="11.24" width="8.24" height="8.24" fill="#9bb8f6"/>
<rect x="37.12" y="11.24" width="8.24" height="8.24" fill="#bfd1f2"/>
<rect x="45.07" y="11.24" width="8.24" height="8.24" fill="#bfd1f2"/>
<rect x="53.01" y="11.24" width="8.24" height="8.24" fill="#bfd1f2"/>
<rect x="60.95" y="11.24" width="8.24" height="8.24" fill="#e1dad6"/>
<rect x="68.89" y="11.24" width="8.24" height="8.24" fill="#bfd1f2"/>
<rect x="76.83" y="11.24" width="8.24" height="8.24" fill="#bfd1f2"/>
<rect x="84.77" y="11.24" width="8.24" height="8.24" fill="#e1dad6"/>
<rect x="92.72" y="11.24" width="8.24" height="8.24" fill="#bfd1f2"/>
<rect x="100.66" y="11.24" width="12.24" height="8.24" fill="#bfd1f2"/>
<rect x="9.30" y="19.18" width="12.24" height="8.24" fill="#cfd9ea"/>
<rect x="21.24" y="19.18" width="8.24" height="8.24" fill="#bfd1f2"/>
<rect x="29.18" y="19.18" width="8.24" height="8.24" fill="#bfd1f2"/>
<rect x="37.12" y="19.18" width="8.24" height="8.24" fill="#e1dad6"/>
<rect x="45.07" y="19.18" width="8.24" height="8.24" fill="#e1dad6"/>
<rect x="53.01" y="19.18" width="8.24" height="8.24" fill="#bfd1f2"/>
<rect x="60.95" y="19.18" width="8.24" height="8.24" fill="#e1dad6"/>
<rect x="68.89" y="19.18" width="8.24" height="8.24" fill="#e1dad6"/>
<rect x="76.83" y="19.18" width="8.24" height="8.24" fill="#bfd1f2"/>
<rect x="84.77" y="19.18" width="8.24" height="8.24" fill="#e1dad6"/>
<rect x="92.72" y="19.18" width="8.24" height="8.24" fill="#e1dad6"/>
<rect x="100.66" y="19.18" width="12.24" height="8.24" fill="#de614d"/>
<rect x="9.30" y="27.12" width="12.24" height="8.24" fill="#cfd9ea"/>
<rect x="21.24" y="27.12" width="8.24" height="8.24" fill="#cfd9ea"/>
<rect x="29.18" y="27.12" width="8.24" height="8.24" fill="#cfd9ea"/>
<rect x="37.12" y="27.12" width="8.24" height="8.24" fill="#e1dad6"/>
<rect x="45.07" y="27.12" width="8.24" height="8.24" fill="#e1dad6"/>
<rect x="53.01" y="27.12" width="8.24" height="8.24" fill="#e1dad6"/>
<rect x="60.95" y="27.12" width="8.24" height="8.24" fill="#f4c5ad"/>
<rect x="68.89" y="27.12" width="8.24" height="8.24" fill="#e1dad6"/>
<rect x="76.83" y="27.12" width="8.24" height="8.24" fill="#bfd1f2"/>
<rect x="84.77" y="27.12" width="8.24" height="8.24" fill="#f4c5ad"/>
<rect x="92.72" y="27.12" width="8.24" height="8.24" fill="#e1dad6"/>
<rect x="100.66" y="27.12" width="12.24" height="8.24" fill="#e1dad6"/>
<rect x="9.30" y="35.06" width="12.24" height="8.24" fill="#cfd9ea"/>
<rect x="21.24" y="35.06" width="8.24" height="8.24" fill="#cfd9ea"/>
<rect x="29.18" y="35.06" width="8.24" height="8.24" fill="#cfd9ea"/>
<rect x="37.12" y="35.06" width="8.24" height="8.24" fill="#f4c5ad"/>
<rect x="45.07" y="35.06" width="8.24" height="8.24" fill="#f4c5ad"/>
<rect x="53.01" y="35.06" width="8.24" height="8.24" fill="#f4c5ad"/>
<rect x="60.95" y="35.06" width="8.24" height="8.24" fill="#e1dad6"/>
<rect x="68.89" y="35.06" width="8.24" height="8.24" fill="#e1dad6"/>
<rect x="76.83" y="35.06" width="8.24" height="8.24" fill="#e1dad6"/>
<rect x="84.77" y="35.06" width="8.24" height="8.24" fill="#f4c5ad"/>
<rect x="92.72" y="35.06" width="8.24" height="8.24" fill="#e1dad6"/>
<rect x="100.66" y="35.06" width="12.24" height="8.24" fill="#e1dad6"/>
<rect x="9.30" y="43.00" width="12.24" height="8.24" fill="#cfd9ea"/>
<rect x="21.24" y="43.00" width="8.24" height="8.24" fill="#cfd9ea"/>
<rect x="29.18" y="43.00" width="8.24" height="8.24" fill="#bfd1f2"/>
<rect x="37.12" y="43.00" width="8.24" height="8.24" fill="#f4c5ad"/>
<rect x="45.07" y="43.00" width="8.24" height="8.24" fill="#f4c5ad"/>
<rect x="53.01" y="43.00" width="8.24" height="8.24" fill="#bfd1f2"/>
<rect x="60.95" y="43.00" width="8.24" height="8.24" fill="#e1dad6"/>
<rect x="68.89" y="43.00" width="8.24" height="8.24" fill="#e1dad6"/>
<rect x="76.83" y="43.00" width="8.24" height="8.24" fill="#bfd1f2"/>
<rect x="84.77" y="43.00" width="8.24" height="8.24" fill="#e1dad6"/>
<rect x="92.72" y="43.00" width="8.24" height="8.24" fill="#e1dad6"/>
<rect x="100.66" y="43.00" width="12.24" height="8.24" fill="#f4c5ad"/>
<rect x="9.30" y="50.94" width="12.24" height="8.24" fill="#e1dad6"/>
<rect x="21.24" y="50.94" width="8.24" height="8.24" fill="#bfd1f2"/>
<rect x="29.18" y="50.94" width="8.24" height="8.24" fill="#e1dad6"/>
<rect x="37.12" y="50.94" width="8.24" height="8.24" fill="#f4c5ad"/>
<rect x="45.07" y="50.94" width="8.24" height="8.24" fill="#e1dad6"/>
<rect x="53.01" y="50.94" width="8.24" height="8.24" fill="#e1dad6"/>
<rect x="60.95" y="50.94" width="8.24" height="8.24" fill="#f4c5ad"/>
<rect x="68.89" y="50.94" width="8.24" height="8.24" fill="#e1dad6"/>
<rect x="76.83" y="50.94" width="8.24" height="8.24" fill="#e1dad6"/>
<rect x="84.77" y="50.94" width="8.24" height="8.24" fill="#e1dad6"/>
<rect x="92.72" y="50.94" width="8.24" height="8.24" fill="#f4c5ad"/>
<rect x="100.66" y="50.94" width="12.24" height="8.24" fill="#f49a7b"/>
<rect x="9.30" y="58.88" width="12.24" height="8.24" fill="#e1dad6"/>
<rect x="21.24" y="58.88" width="8.24" height="8.24" fill="#e1dad6"/>
<rect x="29.18" y="58.88" width="8.24" height="8.24" fill="#e1dad6"/>
<rect x="37.12" y="58.88" width="8.24" height="8.24" fill="#e1dad6"/>
<rect x="45.07" y="58.88" width="8.24" height="8.24" fill="#bfd1f2"/>
<rect x="53.01" y="58.88" width="8.24" height="8.24" fill="#f4c5ad"/>
<rect x="60.95" y="58.88" width="8.24" height="8.24" fill="#e1dad6"/>
<rect x="68.89" y="58.88" width="8.24" height="8.24" fill="#e1dad6"/>
<rect x="76.83" y="58.88" width="8.24" height="8.24" fill="#f4c5ad"/>
<rect x="84.77" y="58.88" width="8.24" height="8.24" fill="#f4c5ad"/>
<rect x="92.72" y="58.88" width="8.24" height="8.24" fill="#f49a7b"/>
<rect x="100.66" y="58.88" width="12.24" height="8.24" fill="#f49a7b"/>
<rect x="9.30" y="66.82" width="12.24" height="8.24" fill="#e1dad6"/>
<rect x="21.24" y="66.82" width="8.24" height="8.24" fill="#f4c5ad"/>
<rect x="29.18" y="66.82" width="8.24" height="8.24" fill="#f4c5ad"/>
<rect x="37.12" y="66.82" width="8.24" height="8.24" fill="#e1dad6"/>
<rect x="45.07" y="66.82" width="8.24" height="8.24" fill="#e1dad6"/>
<rect x="53.01" y="66.82" width="8.24" height="8.24" fill="#f4c5ad"/>
<rect x="60.95" y="66.82" width="8.24" height="8.24" fill="#e1dad6"/>
<rect x="68.89" y="66.82" width="8.24" height="8.24" fill="#e1dad6"/>
<rect x="76.83" y="66.82" width="8.24" height="8.24" fill="#f4c5ad"/>
<rect x="84.77" y="66.82" width="8.24" height="8.24" fill="#f4c5ad"/>
<rect x="92.72" y="66.82" width="8.24" height="8.24" fill="#f4c5ad"/>
<rect x="100.66" y="66.82" width="12.24" height="8.24" fill="#f4c5ad"/>
<rect x="9.30" y="74.76" width="12.24" height="12.24" fill="#e1dad6"/>
<rect x="21.24" y="74.76" width="8.24" height="12.24" fill="#e1dad6"/>
<rect x="29.18" y="74.76" width="8.24" height="12.24" fill="#f4c5ad"/>
<rect x="37.12" y="74.76" width="8.24" height="12.24" fill="#f49a7b"/>
<rect x="45.07" y="74.76" width="8.24" height="12.24" fill="#f4c5ad"/>
<rect x="53.01" y="74.76" width="8.24" height="12.24" fill="#f4c5ad"/>
<rect x="60.95" y="74.76" width="8.24" height="12.24" fill="#f4c5ad"/>
<rect x="68.89" y="74.76" width="8.24" height="12.24" fill="#f4c5ad"/>
<rect x="76.83" y="74.76" width="8.24" height="12.24" fill="#f4c5ad"/>
<rect x="84.77" y="74.76" width="8.24" height="12.24" fill="#f4c5ad"/>
<rect x="92.72" y="74.76" width="8.24" height="12.24" fill="#f4c5ad"/>
<rect x="100.66" y="74.76" width="12.24" height="12.24" fill="#f4c5ad"/>
<circle cx="103.1" cy="21.7" r="2" fill="#cb3e38"/>
</g>
<polygon points="13.3,3.3 38.6,3.3 37.3,5.8 35.8,8.0 35.4,9.7 37.0,11.6 35.0,14.6 31.7,17.0 27.0,19.0 23.2,20.4 20.6,21.3 20.5,23.3 21.3,23.9 23.7,23.9 27.0,22.3 30.8,21.9 34.6,23.0 38.3,23.0 41.2,22.2 44.0,23.4 45.2,25.8 44.4,28.6 41.6,30.2 39.5,30.8 41.6,33.0 40.3,37.2 36.4,41.6 33.7,44.3 30.4,47.6 26.1,50.3 22.8,51.4 19.5,55.8 15.2,60.1 13.3,61.8" fill="#fff"/><polygon points="31.8,82.7 32.5,81 34.5,80.3 36.5,81.2 37.2,82.7" fill="#fff"/>
</g>
<rect x="13.3" y="3.3" width="95.3" height="79.4" fill="none" stroke="#8a8a8a" stroke-width="0.55"/>
<text x="11.8" y="84.90" class="t" text-anchor="end" textLength="4.5" lengthAdjust="spacingAndGlyphs">25</text>
<line x1="12.100000000000001" x2="13.3" y1="82.70" y2="82.70" stroke="#444" stroke-width="0.4"/>
<text x="11.8" y="73.56" class="t" text-anchor="end" textLength="4.5" lengthAdjust="spacingAndGlyphs">26</text>
<line x1="12.100000000000001" x2="13.3" y1="71.36" y2="71.36" stroke="#444" stroke-width="0.4"/>
<text x="11.8" y="62.21" class="t" text-anchor="end" textLength="4.5" lengthAdjust="spacingAndGlyphs">27</text>
<line x1="12.100000000000001" x2="13.3" y1="60.01" y2="60.01" stroke="#444" stroke-width="0.4"/>
<text x="11.8" y="50.87" class="t" text-anchor="end" textLength="4.5" lengthAdjust="spacingAndGlyphs">28</text>
<line x1="12.100000000000001" x2="13.3" y1="48.67" y2="48.67" stroke="#444" stroke-width="0.4"/>
<text x="11.8" y="39.53" class="t" text-anchor="end" textLength="4.5" lengthAdjust="spacingAndGlyphs">29</text>
<line x1="12.100000000000001" x2="13.3" y1="37.33" y2="37.33" stroke="#444" stroke-width="0.4"/>
<text x="11.8" y="28.19" class="t" text-anchor="end" textLength="4.5" lengthAdjust="spacingAndGlyphs">30</text>
<line x1="12.100000000000001" x2="13.3" y1="25.99" y2="25.99" stroke="#444" stroke-width="0.4"/>
<text x="11.8" y="16.84" class="t" text-anchor="end" textLength="4.5" lengthAdjust="spacingAndGlyphs">31</text>
<line x1="12.100000000000001" x2="13.3" y1="14.64" y2="14.64" stroke="#444" stroke-width="0.4"/>
<text x="11.8" y="5.50" class="t" text-anchor="end" textLength="4.5" lengthAdjust="spacingAndGlyphs">32</text>
<line x1="12.100000000000001" x2="13.3" y1="3.30" y2="3.30" stroke="#444" stroke-width="0.4"/>
<text x="13.70" y="87.70" class="t" text-anchor="middle" textLength="6.2" lengthAdjust="spacingAndGlyphs">120</text>
<line y1="82.7" y2="83.9" x1="13.30" x2="13.30" stroke="#444" stroke-width="0.4"/>
<text x="27.31" y="87.70" class="t" text-anchor="middle" textLength="6.2" lengthAdjust="spacingAndGlyphs">121</text>
<line y1="82.7" y2="83.9" x1="26.91" x2="26.91" stroke="#444" stroke-width="0.4"/>
<text x="40.93" y="87.70" class="t" text-anchor="middle" textLength="6.2" lengthAdjust="spacingAndGlyphs">122</text>
<line y1="82.7" y2="83.9" x1="40.53" x2="40.53" stroke="#444" stroke-width="0.4"/>
<text x="54.54" y="87.70" class="t" text-anchor="middle" textLength="6.2" lengthAdjust="spacingAndGlyphs">123</text>
<line y1="82.7" y2="83.9" x1="54.14" x2="54.14" stroke="#444" stroke-width="0.4"/>
<text x="68.16" y="87.70" class="t" text-anchor="middle" textLength="6.2" lengthAdjust="spacingAndGlyphs">124</text>
<line y1="82.7" y2="83.9" x1="67.76" x2="67.76" stroke="#444" stroke-width="0.4"/>
<text x="81.77" y="87.70" class="t" text-anchor="middle" textLength="6.2" lengthAdjust="spacingAndGlyphs">125</text>
<line y1="82.7" y2="83.9" x1="81.37" x2="81.37" stroke="#444" stroke-width="0.4"/>
<text x="95.39" y="87.70" class="t" text-anchor="middle" textLength="6.2" lengthAdjust="spacingAndGlyphs">126</text>
<line y1="82.7" y2="83.9" x1="94.99" x2="94.99" stroke="#444" stroke-width="0.4"/>
<text x="109.00" y="87.70" class="t" text-anchor="middle" textLength="6.2" lengthAdjust="spacingAndGlyphs">127</text>
<line y1="82.7" y2="83.9" x1="108.60" x2="108.60" stroke="#444" stroke-width="0.4"/>
<text x="61.3" y="93.2" class="al" text-anchor="middle" textLength="35.5" lengthAdjust="spacingAndGlyphs">EAST LONGITUDE(°)</text>
<text transform="translate(4.6,43.6) rotate(-90)" class="al" text-anchor="middle" textLength="36.5" lengthAdjust="spacingAndGlyphs">NORTH LATITUDE(°)</text>
<rect x="114.4" y="3.3" width="4.1" height="79.4" fill="url(#cw)"/>
<text x="120.00" y="83.65" class="t" textLength="12.5" lengthAdjust="spacingAndGlyphs">0.4500</text>
<line x1="118.5" x2="119.5" y1="82.70" y2="82.70" stroke="#444" stroke-width="0.4"/>
<text x="120.00" y="75.71" class="t" textLength="12.5" lengthAdjust="spacingAndGlyphs">0.4854</text>
<line x1="118.5" x2="119.5" y1="74.76" y2="74.76" stroke="#444" stroke-width="0.4"/>
<text x="120.00" y="67.77" class="t" textLength="12.5" lengthAdjust="spacingAndGlyphs">0.5207</text>
<line x1="118.5" x2="119.5" y1="66.82" y2="66.82" stroke="#444" stroke-width="0.4"/>
<text x="120.00" y="59.83" class="t" textLength="12.5" lengthAdjust="spacingAndGlyphs">0.5561</text>
<line x1="118.5" x2="119.5" y1="58.88" y2="58.88" stroke="#444" stroke-width="0.4"/>
<text x="120.00" y="51.89" class="t" textLength="12.5" lengthAdjust="spacingAndGlyphs">0.5914</text>
<line x1="118.5" x2="119.5" y1="50.94" y2="50.94" stroke="#444" stroke-width="0.4"/>
<text x="120.00" y="43.95" class="t" textLength="12.5" lengthAdjust="spacingAndGlyphs">0.6268</text>
<line x1="118.5" x2="119.5" y1="43.00" y2="43.00" stroke="#444" stroke-width="0.4"/>
<text x="120.00" y="36.01" class="t" textLength="12.5" lengthAdjust="spacingAndGlyphs">0.6621</text>
<line x1="118.5" x2="119.5" y1="35.06" y2="35.06" stroke="#444" stroke-width="0.4"/>
<text x="120.00" y="28.07" class="t" textLength="12.5" lengthAdjust="spacingAndGlyphs">0.6975</text>
<line x1="118.5" x2="119.5" y1="27.12" y2="27.12" stroke="#444" stroke-width="0.4"/>
<text x="120.00" y="20.13" class="t" textLength="12.5" lengthAdjust="spacingAndGlyphs">0.7328</text>
<line x1="118.5" x2="119.5" y1="19.18" y2="19.18" stroke="#444" stroke-width="0.4"/>
<text x="120.00" y="12.19" class="t" textLength="12.5" lengthAdjust="spacingAndGlyphs">0.7682</text>
<line x1="118.5" x2="119.5" y1="11.24" y2="11.24" stroke="#444" stroke-width="0.4"/>
<text transform="translate(136.4,43.8) rotate(-90)" class="al" text-anchor="middle" textLength="38" lengthAdjust="spacingAndGlyphs">SST PREDICTABILITY</text>
<text x="61" y="101.9" class="cap" text-anchor="middle" textLength="50.5" lengthAdjust="spacingAndGlyphs">(h) 2003~2005</text>
</g>
<g transform="translate(284.2,222.2)">
<g clip-path="url(#clip)">
<g filter="url(#bl)">
<rect x="9.30" y="-0.70" width="12.24" height="12.24" fill="#cfd9ea"/>
<rect x="21.24" y="-0.70" width="8.24" height="12.24" fill="#cfd9ea"/>
<rect x="29.18" y="-0.70" width="8.24" height="12.24" fill="#cfd9ea"/>
<rect x="37.12" y="-0.70" width="8.24" height="12.24" fill="#9bb8f6"/>
<rect x="45.07" y="-0.70" width="8.24" height="12.24" fill="#bfd1f2"/>
<rect x="53.01" y="-0.70" width="8.24" height="12.24" fill="#f4c5ad"/>
<rect x="60.95" y="-0.70" width="8.24" height="12.24" fill="#e1dad6"/>
<rect x="68.89" y="-0.70" width="8.24" height="12.24" fill="#e1dad6"/>
<rect x="76.83" y="-0.70" width="8.24" height="12.24" fill="#bfd1f2"/>
<rect x="84.77" y="-0.70" width="8.24" height="12.24" fill="#e1dad6"/>
<rect x="92.72" y="-0.70" width="8.24" height="12.24" fill="#e1dad6"/>
<rect x="100.66" y="-0.70" width="12.24" height="12.24" fill="#e1dad6"/>
<rect x="9.30" y="11.24" width="12.24" height="8.24" fill="#cfd9ea"/>
<rect x="21.24" y="11.24" width="8.24" height="8.24" fill="#cfd9ea"/>
<rect x="29.18" y="11.24" width="8.24" height="8.24" fill="#9bb8f6"/>
<rect x="37.12" y="11.24" width="8.24" height="8.24" fill="#9bb8f6"/>
<rect x="45.07" y="11.24" width="8.24" height="8.24" fill="#bfd1f2"/>
<rect x="53.01" y="11.24" width="8.24" height="8.24" fill="#bfd1f2"/>
<rect x="60.95" y="11.24" width="8.24" height="8.24" fill="#bfd1f2"/>
<rect x="68.89" y="11.24" width="8.24" height="8.24" fill="#bfd1f2"/>
<rect x="76.83" y="11.24" width="8.24" height="8.24" fill="#bfd1f2"/>
<rect x="84.77" y="11.24" width="8.24" height="8.24" fill="#e1dad6"/>
<rect x="92.72" y="11.24" width="8.24" height="8.24" fill="#e1dad6"/>
<rect x="100.66" y="11.24" width="12.24" height="8.24" fill="#f4c5ad"/>
<rect x="9.30" y="19.18" width="12.24" height="8.24" fill="#cfd9ea"/>
<rect x="21.24" y="19.18" width="8.24" height="8.24" fill="#9bb8f6"/>
<rect x="29.18" y="19.18" width="8.24" height="8.24" fill="#9bb8f6"/>
<rect x="37.12" y="19.18" width="8.24" height="8.24" fill="#bfd1f2"/>
<rect x="45.07" y="19.18" width="8.24" height="8.24" fill="#bfd1f2"/>
<rect x="53.01" y="19.18" width="8.24" height="8.24" fill="#bfd1f2"/>
<rect x="60.95" y="19.18" width="8.24" height="8.24" fill="#9bb8f6"/>
<rect x="68.89" y="19.18" width="8.24" height="8.24" fill="#bfd1f2"/>
<rect x="76.83" y="19.18" width="8.24" height="8.24" fill="#e1dad6"/>
<rect x="84.77" y="19.18" width="8.24" height="8.24" fill="#e1dad6"/>
<rect x="92.72" y="19.18" width="8.24" height="8.24" fill="#e1dad6"/>
<rect x="100.66" y="19.18" width="12.24" height="8.24" fill="#f4c5ad"/>
<rect x="9.30" y="27.12" width="12.24" height="8.24" fill="#cfd9ea"/>
<rect x="21.24" y="27.12" width="8.24" height="8.24" fill="#cfd9ea"/>
<rect x="29.18" y="27.12" width="8.24" height="8.24" fill="#cfd9ea"/>
<rect x="37.12" y="27.12" width="8.24" height="8.24" fill="#e1dad6"/>
<rect x="45.07" y="27.12" width="8.24" height="8.24" fill="#f4c5ad"/>
<rect x="53.01" y="27.12" width="8.24" height="8.24" fill="#bfd1f2"/>
<rect x="60.95" y="27.12" width="8.24" height="8.24" fill="#bfd1f2"/>
<rect x="68.89" y="27.12" width="8.24" height="8.24" fill="#e1dad6"/>
<rect x="76.83" y="27.12" width="8.24" height="8.24" fill="#e1dad6"/>
<rect x="84.77" y="27.12" width="8.24" height="8.24" fill="#e1dad6"/>
<rect x="92.72" y="27.12" width="8.24" height="8.24" fill="#f4c5ad"/>
<rect x="100.66" y="27.12" width="12.24" height="8.24" fill="#e1dad6"/>
<rect x="9.30" y="35.06" width="12.24" height="8.24" fill="#cfd9ea"/>
<rect x="21.24" y="35.06" width="8.24" height="8.24" fill="#cfd9ea"/>
<rect x="29.18" y="35.06" width="8.24" height="8.24" fill="#cfd9ea"/>
<rect x="37.12" y="35.06" width="8.24" height="8.24" fill="#f4c5ad"/>
<rect x="45.07" y="35.06" width="8.24" height="8.24" fill="#f4c5ad"/>
<rect x="53.01" y="35.06" width="8.24" height="8.24" fill="#e1dad6"/>
<rect x="60.95" y="35.06" width="8.24" height="8.24" fill="#e1dad6"/>
<rect x="68.89" y="35.06" width="8.24" height="8.24" fill="#e1dad6"/>
<rect x="76.83" y="35.06" width="8.24" height="8.24" fill="#f4c5ad"/>
<rect x="84.77" y="35.06" width="8.24" height="8.24" fill="#f4c5ad"/>
<rect x="92.72" y="35.06" width="8.24" height="8.24" fill="#f49a7b"/>
<rect x="100.66" y="35.06" width="12.24" height="8.24" fill="#f49a7b"/>
<rect x="9.30" y="43.00" width="12.24" height="8.24" fill="#cfd9ea"/>
<rect x="21.24" y="43.00" width="8.24" height="8.24" fill="#cfd9ea"/>
<rect x="29.18" y="43.00" width="8.24" height="8.24" fill="#bfd1f2"/>
<rect x="37.12" y="43.00" width="8.24" height="8.24" fill="#e1dad6"/>
<rect x="45.07" y="43.00" width="8.24" height="8.24" fill="#f4c5ad"/>
<rect x="53.01" y="43.00" width="8.24" height="8.24" fill="#f4c5ad"/>
<rect x="60.95" y="43.00" width="8.24" height="8.24" fill="#f4c5ad"/>
<rect x="68.89" y="43.00" width="8.24" height="8.24" fill="#f4c5ad"/>
<rect x="76.83" y="43.00" width="8.24" height="8.24" fill="#f4c5ad"/>
<rect x="84.77" y="43.00" width="8.24" height="8.24" fill="#f49a7b"/>
<rect x="92.72" y="43.00" width="8.24" height="8.24" fill="#ec7f63"/>
<rect x="100.66" y="43.00" width="12.24" height="8.24" fill="#ec7f63"/>
<rect x="9.30" y="50.94" width="12.24" height="8.24" fill="#bfd1f2"/>
<rect x="21.24" y="50.94" width="8.24" height="8.24" fill="#bfd1f2"/>
<rect x="29.18" y="50.94" width="8.24" height="8.24" fill="#e1dad6"/>
<rect x="37.12" y="50.94" width="8.24" height="8.24" fill="#f4c5ad"/>
<rect x="45.07" y="50.94" width="8.24" height="8.24" fill="#f4c5ad"/>
<rect x="53.01" y="50.94" width="8.24" height="8.24" fill="#f49a7b"/>
<rect x="60.95" y="50.94" width="8.24" height="8.24" fill="#f4c5ad"/>
<rect x="68.89" y="50.94" width="8.24" height="8.24" fill="#e1dad6"/>
<rect x="76.83" y="50.94" width="8.24" height="8.24" fill="#f49a7b"/>
<rect x="84.77" y="50.94" width="8.24" height="8.24" fill="#ec7f63"/>
<rect x="92.72" y="50.94" width="8.24" height="8.24" fill="#de614d"/>
<rect x="100.66" y="50.94" width="12.24" height="8.24" fill="#f49a7b"/>
<rect x="9.30" y="58.88" width="12.24" height="8.24" fill="#e1dad6"/>
<rect x="21.24" y="58.88" width="8.24" height="8.24" fill="#e1dad6"/>
<rect x="29.18" y="58.88" width="8.24" height="8.24" fill="#f4c5ad"/>
<rect x="37.12" y="58.88" width="8.24" height="8.24" fill="#f4c5ad"/>
<rect x="45.07" y="58.88" width="8.24" height="8.24" fill="#f4c5ad"/>
<rect x="53.01" y="58.88" width="8.24" height="8.24" fill="#f4c5ad"/>
<rect x="60.95" y="58.88" width="8.24" height="8.24" fill="#f4c5ad"/>
<rect x="68.89" y="58.88" width="8.24" height="8.24" fill="#f4c5ad"/>
<rect x="76.83" y="58.88" width="8.24" height="8.24" fill="#f4c5ad"/>
<rect x="84.77" y="58.88" width="8.24" height="8.24" fill="#f49a7b"/>
<rect x="92.72" y="58.88" width="8.24" height="8.24" fill="#ec7f63"/>
<rect x="100.66" y="58.88" width="12.24" height="8.24" fill="#f49a7b"/>
<rect x="9.30" y="66.82" width="12.24" height="8.24" fill="#f4c5ad"/>
<rect x="21.24" y="66.82" width="8.24" height="8.24" fill="#f4c5ad"/>
<rect x="29.18" y="66.82" width="8.24" height="8.24" fill="#e1dad6"/>
<rect x="37.12" y="66.82" width="8.24" height="8.24" fill="#f4c5ad"/>
<rect x="45.07" y="66.82" width="8.24" height="8.24" fill="#f4c5ad"/>
<rect x="53.01" y="66.82" width="8.24" height="8.24" fill="#f4c5ad"/>
<rect x="60.95" y="66.82" width="8.24" height="8.24" fill="#e1dad6"/>
<rect x="68.89" y="66.82" width="8.24" height="8.24" fill="#f4c5ad"/>
<rect x="76.83" y="66.82" width="8.24" height="8.24" fill="#f4c5ad"/>
<rect x="84.77" y="66.82" width="8.24" height="8.24" fill="#f4c5ad"/>
<rect x="92.72" y="66.82" width="8.24" height="8.24" fill="#f49a7b"/>
<rect x="100.66" y="66.82" width="12.24" height="8.24" fill="#f49a7b"/>
<rect x="9.30" y="74.76" width="12.24" height="12.24" fill="#e1dad6"/>
<rect x="21.24" y="74.76" width="8.24" height="12.24" fill="#f4c5ad"/>
<rect x="29.18" y="74.76" width="8.24" height="12.24" fill="#e1dad6"/>
<rect x="37.12" y="74.76" width="8.24" height="12.24" fill="#e1dad6"/>
<rect x="45.07" y="74.76" width="8.24" height="12.24" fill="#f4c5ad"/>
<rect x="53.01" y="74.76" width="8.24" height="12.24" fill="#f4c5ad"/>
<rect x="60.95" y="74.76" width="8.24" height="12.24" fill="#f4c5ad"/>
<rect x="68.89" y="74.76" width="8.24" height="12.24" fill="#f4c5ad"/>
<rect x="76.83" y="74.76" width="8.24" height="12.24" fill="#f49a7b"/>
<rect x="84.77" y="74.76" width="8.24" height="12.24" fill="#f4c5ad"/>
<rect x="92.72" y="74.76" width="8.24" height="12.24" fill="#f49a7b"/>
<rect x="100.66" y="74.76" width="12.24" height="12.24" fill="#f4c5ad"/>
</g>
<polygon points="13.3,3.3 38.6,3.3 37.3,5.8 35.8,8.0 35.4,9.7 37.0,11.6 35.0,14.6 31.7,17.0 27.0,19.0 23.2,20.4 20.6,21.3 20.5,23.3 21.3,23.9 23.7,23.9 27.0,22.3 30.8,21.9 34.6,23.0 38.3,23.0 41.2,22.2 44.0,23.4 45.2,25.8 44.4,28.6 41.6,30.2 39.5,30.8 41.6,33.0 40.3,37.2 36.4,41.6 33.7,44.3 30.4,47.6 26.1,50.3 22.8,51.4 19.5,55.8 15.2,60.1 13.3,61.8" fill="#fff"/><polygon points="31.8,82.7 32.5,81 34.5,80.3 36.5,81.2 37.2,82.7" fill="#fff"/>
</g>
<rect x="13.3" y="3.3" width="95.3" height="79.4" fill="none" stroke="#8a8a8a" stroke-width="0.55"/>
<text x="11.8" y="84.90" class="t" text-anchor="end" textLength="4.5" lengthAdjust="spacingAndGlyphs">25</text>
<line x1="12.100000000000001" x2="13.3" y1="82.70" y2="82.70" stroke="#444" stroke-width="0.4"/>
<text x="11.8" y="73.56" class="t" text-anchor="end" textLength="4.5" lengthAdjust="spacingAndGlyphs">26</text>
<line x1="12.100000000000001" x2="13.3" y1="71.36" y2="71.36" stroke="#444" stroke-width="0.4"/>
<text x="11.8" y="62.21" class="t" text-anchor="end" textLength="4.5" lengthAdjust="spacingAndGlyphs">27</text>
<line x1="12.100000000000001" x2="13.3" y1="60.01" y2="60.01" stroke="#444" stroke-width="0.4"/>
<text x="11.8" y="50.87" class="t" text-anchor="end" textLength="4.5" lengthAdjust="spacingAndGlyphs">28</text>
<line x1="12.100000000000001" x2="13.3" y1="48.67" y2="48.67" stroke="#444" stroke-width="0.4"/>
<text x="11.8" y="39.53" class="t" text-anchor="end" textLength="4.5" lengthAdjust="spacingAndGlyphs">29</text>
<line x1="12.100000000000001" x2="13.3" y1="37.33" y2="37.33" stroke="#444" stroke-width="0.4"/>
<text x="11.8" y="28.19" class="t" text-anchor="end" textLength="4.5" lengthAdjust="spacingAndGlyphs">30</text>
<line x1="12.100000000000001" x2="13.3" y1="25.99" y2="25.99" stroke="#444" stroke-width="0.4"/>
<text x="11.8" y="16.84" class="t" text-anchor="end" textLength="4.5" lengthAdjust="spacingAndGlyphs">31</text>
<line x1="12.100000000000001" x2="13.3" y1="14.64" y2="14.64" stroke="#444" stroke-width="0.4"/>
<text x="11.8" y="5.50" class="t" text-anchor="end" textLength="4.5" lengthAdjust="spacingAndGlyphs">32</text>
<line x1="12.100000000000001" x2="13.3" y1="3.30" y2="3.30" stroke="#444" stroke-width="0.4"/>
<text x="13.70" y="87.70" class="t" text-anchor="middle" textLength="6.2" lengthAdjust="spacingAndGlyphs">120</text>
<line y1="82.7" y2="83.9" x1="13.30" x2="13.30" stroke="#444" stroke-width="0.4"/>
<text x="27.31" y="87.70" class="t" text-anchor="middle" textLength="6.2" lengthAdjust="spacingAndGlyphs">121</text>
<line y1="82.7" y2="83.9" x1="26.91" x2="26.91" stroke="#444" stroke-width="0.4"/>
<text x="40.93" y="87.70" class="t" text-anchor="middle" textLength="6.2" lengthAdjust="spacingAndGlyphs">122</text>
<line y1="82.7" y2="83.9" x1="40.53" x2="40.53" stroke="#444" stroke-width="0.4"/>
<text x="54.54" y="87.70" class="t" text-anchor="middle" textLength="6.2" lengthAdjust="spacingAndGlyphs">123</text>
<line y1="82.7" y2="83.9" x1="54.14" x2="54.14" stroke="#444" stroke-width="0.4"/>
<text x="68.16" y="87.70" class="t" text-anchor="middle" textLength="6.2" lengthAdjust="spacingAndGlyphs">124</text>
<line y1="82.7" y2="83.9" x1="67.76" x2="67.76" stroke="#444" stroke-width="0.4"/>
<text x="81.77" y="87.70" class="t" text-anchor="middle" textLength="6.2" lengthAdjust="spacingAndGlyphs">125</text>
<line y1="82.7" y2="83.9" x1="81.37" x2="81.37" stroke="#444" stroke-width="0.4"/>
<text x="95.39" y="87.70" class="t" text-anchor="middle" textLength="6.2" lengthAdjust="spacingAndGlyphs">126</text>
<line y1="82.7" y2="83.9" x1="94.99" x2="94.99" stroke="#444" stroke-width="0.4"/>
<text x="109.00" y="87.70" class="t" text-anchor="middle" textLength="6.2" lengthAdjust="spacingAndGlyphs">127</text>
<line y1="82.7" y2="83.9" x1="108.60" x2="108.60" stroke="#444" stroke-width="0.4"/>
<text x="61.3" y="93.2" class="al" text-anchor="middle" textLength="35.5" lengthAdjust="spacingAndGlyphs">EAST LONGITUDE(°)</text>
<text transform="translate(4.6,43.6) rotate(-90)" class="al" text-anchor="middle" textLength="36.5" lengthAdjust="spacingAndGlyphs">NORTH LATITUDE(°)</text>
<rect x="114.4" y="3.3" width="4.1" height="79.4" fill="url(#cw)"/>
<text x="120.00" y="83.65" class="t" textLength="12.5" lengthAdjust="spacingAndGlyphs">0.4500</text>
<line x1="118.5" x2="119.5" y1="82.70" y2="82.70" stroke="#444" stroke-width="0.4"/>
<text x="120.00" y="75.71" class="t" textLength="12.5" lengthAdjust="spacingAndGlyphs">0.4854</text>
<line x1="118.5" x2="119.5" y1="74.76" y2="74.76" stroke="#444" stroke-width="0.4"/>
<text x="120.00" y="67.77" class="t" textLength="12.5" lengthAdjust="spacingAndGlyphs">0.5207</text>
<line x1="118.5" x2="119.5" y1="66.82" y2="66.82" stroke="#444" stroke-width="0.4"/>
<text x="120.00" y="59.83" class="t" textLength="12.5" lengthAdjust="spacingAndGlyphs">0.5561</text>
<line x1="118.5" x2="119.5" y1="58.88" y2="58.88" stroke="#444" stroke-width="0.4"/>
<text x="120.00" y="51.89" class="t" textLength="12.5" lengthAdjust="spacingAndGlyphs">0.5914</text>
<line x1="118.5" x2="119.5" y1="50.94" y2="50.94" stroke="#444" stroke-width="0.4"/>
<text x="120.00" y="43.95" class="t" textLength="12.5" lengthAdjust="spacingAndGlyphs">0.6268</text>
<line x1="118.5" x2="119.5" y1="43.00" y2="43.00" stroke="#444" stroke-width="0.4"/>
<text x="120.00" y="36.01" class="t" textLength="12.5" lengthAdjust="spacingAndGlyphs">0.6621</text>
<line x1="118.5" x2="119.5" y1="35.06" y2="35.06" stroke="#444" stroke-width="0.4"/>
<text x="120.00" y="28.07" class="t" textLength="12.5" lengthAdjust="spacingAndGlyphs">0.6975</text>
<line x1="118.5" x2="119.5" y1="27.12" y2="27.12" stroke="#444" stroke-width="0.4"/>
<text x="120.00" y="20.13" class="t" textLength="12.5" lengthAdjust="spacingAndGlyphs">0.7328</text>
<line x1="118.5" x2="119.5" y1="19.18" y2="19.18" stroke="#444" stroke-width="0.4"/>
<text x="120.00" y="12.19" class="t" textLength="12.5" lengthAdjust="spacingAndGlyphs">0.7682</text>
<line x1="118.5" x2="119.5" y1="11.24" y2="11.24" stroke="#444" stroke-width="0.4"/>
<text transform="translate(136.4,43.8) rotate(-90)" class="al" text-anchor="middle" textLength="38" lengthAdjust="spacingAndGlyphs">SST PREDICTABILITY</text>
<text x="61" y="101.9" class="cap" text-anchor="middle" textLength="50.5" lengthAdjust="spacingAndGlyphs">(i) 2006~2008</text>
</g>
<g transform="translate(0.0,333.3)">
<g clip-path="url(#clip)">
<g filter="url(#bl)">
<rect x="9.30" y="-0.70" width="12.24" height="12.24" fill="#cfd9ea"/>
<rect x="21.24" y="-0.70" width="8.24" height="12.24" fill="#cfd9ea"/>
<rect x="29.18" y="-0.70" width="8.24" height="12.24" fill="#cfd9ea"/>
<rect x="37.12" y="-0.70" width="8.24" height="12.24" fill="#bfd1f2"/>
<rect x="45.07" y="-0.70" width="8.24" height="12.24" fill="#bfd1f2"/>
<rect x="53.01" y="-0.70" width="8.24" height="12.24" fill="#bfd1f2"/>
<rect x="60.95" y="-0.70" width="8.24" height="12.24" fill="#e1dad6"/>
<rect x="68.89" y="-0.70" width="8.24" height="12.24" fill="#bfd1f2"/>
<rect x="76.83" y="-0.70" width="8.24" height="12.24" fill="#bfd1f2"/>
<rect x="84.77" y="-0.70" width="8.24" height="12.24" fill="#bfd1f2"/>
<rect x="92.72" y="-0.70" width="8.24" height="12.24" fill="#e1dad6"/>
<rect x="100.66" y="-0.70" width="12.24" height="12.24" fill="#e1dad6"/>
<rect x="9.30" y="11.24" width="12.24" height="8.24" fill="#cfd9ea"/>
<rect x="21.24" y="11.24" width="8.24" height="8.24" fill="#cfd9ea"/>
<rect x="29.18" y="11.24" width="8.24" height="8.24" fill="#bfd1f2"/>
<rect x="37.12" y="11.24" width="8.24" height="8.24" fill="#bfd1f2"/>
<rect x="45.07" y="11.24" width="8.24" height="8.24" fill="#9bb8f6"/>
<rect x="53.01" y="11.24" width="8.24" height="8.24" fill="#bfd1f2"/>
<rect x="60.95" y="11.24" width="8.24" height="8.24" fill="#bfd1f2"/>
<rect x="68.89" y="11.24" width="8.24" height="8.24" fill="#bfd1f2"/>
<rect x="76.83" y="11.24" width="8.24" height="8.24" fill="#bfd1f2"/>
<rect x="84.77" y="11.24" width="8.24" height="8.24" fill="#e1dad6"/>
<rect x="92.72" y="11.24" width="8.24" height="8.24" fill="#e1dad6"/>
<rect x="100.66" y="11.24" width="12.24" height="8.24" fill="#f4c5ad"/>
<rect x="9.30" y="19.18" width="12.24" height="8.24" fill="#cfd9ea"/>
<rect x="21.24" y="19.18" width="8.24" height="8.24" fill="#9bb8f6"/>
<rect x="29.18" y="19.18" width="8.24" height="8.24" fill="#bfd1f2"/>
<rect x="37.12" y="19.18" width="8.24" height="8.24" fill="#bfd1f2"/>
<rect x="45.07" y="19.18" width="8.24" height="8.24" fill="#9bb8f6"/>
<rect x="53.01" y="19.18" width="8.24" height="8.24" fill="#bfd1f2"/>
<rect x="60.95" y="19.18" width="8.24" height="8.24" fill="#bfd1f2"/>
<rect x="68.89" y="19.18" width="8.24" height="8.24" fill="#bfd1f2"/>
<rect x="76.83" y="19.18" width="8.24" height="8.24" fill="#e1dad6"/>
<rect x="84.77" y="19.18" width="8.24" height="8.24" fill="#e1dad6"/>
<rect x="92.72" y="19.18" width="8.24" height="8.24" fill="#f4c5ad"/>
<rect x="100.66" y="19.18" width="12.24" height="8.24" fill="#f4c5ad"/>
<rect x="9.30" y="27.12" width="12.24" height="8.24" fill="#cfd9ea"/>
<rect x="21.24" y="27.12" width="8.24" height="8.24" fill="#cfd9ea"/>
<rect x="29.18" y="27.12" width="8.24" height="8.24" fill="#cfd9ea"/>
<rect x="37.12" y="27.12" width="8.24" height="8.24" fill="#9bb8f6"/>
<rect x="45.07" y="27.12" width="8.24" height="8.24" fill="#bfd1f2"/>
<rect x="53.01" y="27.12" width="8.24" height="8.24" fill="#bfd1f2"/>
<rect x="60.95" y="27.12" width="8.24" height="8.24" fill="#bfd1f2"/>
<rect x="68.89" y="27.12" width="8.24" height="8.24" fill="#e1dad6"/>
<rect x="76.83" y="27.12" width="8.24" height="8.24" fill="#e1dad6"/>
<rect x="84.77" y="27.12" width="8.24" height="8.24" fill="#f4c5ad"/>
<rect x="92.72" y="27.12" width="8.24" height="8.24" fill="#f4c5ad"/>
<rect x="100.66" y="27.12" width="12.24" height="8.24" fill="#f4c5ad"/>
<rect x="9.30" y="35.06" width="12.24" height="8.24" fill="#cfd9ea"/>
<rect x="21.24" y="35.06" width="8.24" height="8.24" fill="#cfd9ea"/>
<rect x="29.18" y="35.06" width="8.24" height="8.24" fill="#cfd9ea"/>
<rect x="37.12" y="35.06" width="8.24" height="8.24" fill="#bfd1f2"/>
<rect x="45.07" y="35.06" width="8.24" height="8.24" fill="#bfd1f2"/>
<rect x="53.01" y="35.06" width="8.24" height="8.24" fill="#e1dad6"/>
<rect x="60.95" y="35.06" width="8.24" height="8.24" fill="#e1dad6"/>
<rect x="68.89" y="35.06" width="8.24" height="8.24" fill="#e1dad6"/>
<rect x="76.83" y="35.06" width="8.24" height="8.24" fill="#f4c5ad"/>
<rect x="84.77" y="35.06" width="8.24" height="8.24" fill="#e1dad6"/>
<rect x="92.72" y="35.06" width="8.24" height="8.24" fill="#f4c5ad"/>
<rect x="100.66" y="35.06" width="12.24" height="8.24" fill="#f4c5ad"/>
<rect x="9.30" y="43.00" width="12.24" height="8.24" fill="#cfd9ea"/>
<rect x="21.24" y="43.00" width="8.24" height="8.24" fill="#cfd9ea"/>
<rect x="29.18" y="43.00" width="8.24" height="8.24" fill="#bfd1f2"/>
<rect x="37.12" y="43.00" width="8.24" height="8.24" fill="#e1dad6"/>
<rect x="45.07" y="43.00" width="8.24" height="8.24" fill="#f4c5ad"/>
<rect x="53.01" y="43.00" width="8.24" height="8.24" fill="#f49a7b"/>
<rect x="60.95" y="43.00" width="8.24" height="8.24" fill="#f49a7b"/>
<rect x="68.89" y="43.00" width="8.24" height="8.24" fill="#f4c5ad"/>
<rect x="76.83" y="43.00" width="8.24" height="8.24" fill="#f4c5ad"/>
<rect x="84.77" y="43.00" width="8.24" height="8.24" fill="#f4c5ad"/>
<rect x="92.72" y="43.00" width="8.24" height="8.24" fill="#f49a7b"/>
<rect x="100.66" y="43.00" width="12.24" height="8.24" fill="#f49a7b"/>
<rect x="9.30" y="50.94" width="12.24" height="8.24" fill="#e1dad6"/>
<rect x="21.24" y="50.94" width="8.24" height="8.24" fill="#e1dad6"/>
<rect x="29.18" y="50.94" width="8.24" height="8.24" fill="#e1dad6"/>
<rect x="37.12" y="50.94" width="8.24" height="8.24" fill="#f49a7b"/>
<rect x="45.07" y="50.94" width="8.24" height="8.24" fill="#ec7f63"/>
<rect x="53.01" y="50.94" width="8.24" height="8.24" fill="#f49a7b"/>
<rect x="60.95" y="50.94" width="8.24" height="8.24" fill="#f49a7b"/>
<rect x="68.89" y="50.94" width="8.24" height="8.24" fill="#f4c5ad"/>
<rect x="76.83" y="50.94" width="8.24" height="8.24" fill="#f49a7b"/>
<rect x="84.77" y="50.94" width="8.24" height="8.24" fill="#f49a7b"/>
<rect x="92.72" y="50.94" width="8.24" height="8.24" fill="#ec7f63"/>
<rect x="100.66" y="50.94" width="12.24" height="8.24" fill="#f49a7b"/>
<rect x="9.30" y="58.88" width="12.24" height="8.24" fill="#e1dad6"/>
<rect x="21.24" y="58.88" width="8.24" height="8.24" fill="#e1dad6"/>
<rect x="29.18" y="58.88" width="8.24" height="8.24" fill="#f4c5ad"/>
<rect x="37.12" y="58.88" width="8.24" height="8.24" fill="#f49a7b"/>
<rect x="45.07" y="58.88" width="8.24" height="8.24" fill="#f49a7b"/>
<rect x="53.01" y="58.88" width="8.24" height="8.24" fill="#f49a7b"/>
<rect x="60.95" y="58.88" width="8.24" height="8.24" fill="#f49a7b"/>
<rect x="68.89" y="58.88" width="8.24" height="8.24" fill="#f4c5ad"/>
<rect x="76.83" y="58.88" width="8.24" height="8.24" fill="#f4c5ad"/>
<rect x="84.77" y="58.88" width="8.24" height="8.24" fill="#f49a7b"/>
<rect x="92.72" y="58.88" width="8.24" height="8.24" fill="#f49a7b"/>
<rect x="100.66" y="58.88" width="12.24" height="8.24" fill="#f49a7b"/>
<rect x="9.30" y="66.82" width="12.24" height="8.24" fill="#e1dad6"/>
<rect x="21.24" y="66.82" width="8.24" height="8.24" fill="#f4c5ad"/>
<rect x="29.18" y="66.82" width="8.24" height="8.24" fill="#f4c5ad"/>
<rect x="37.12" y="66.82" width="8.24" height="8.24" fill="#f49a7b"/>
<rect x="45.07" y="66.82" width="8.24" height="8.24" fill="#f4c5ad"/>
<rect x="53.01" y="66.82" width="8.24" height="8.24" fill="#f4c5ad"/>
<rect x="60.95" y="66.82" width="8.24" height="8.24" fill="#f4c5ad"/>
<rect x="68.89" y="66.82" width="8.24" height="8.24" fill="#f49a7b"/>
<rect x="76.83" y="66.82" width="8.24" height="8.24" fill="#f4c5ad"/>
<rect x="84.77" y="66.82" width="8.24" height="8.24" fill="#f4c5ad"/>
<rect x="92.72" y="66.82" width="8.24" height="8.24" fill="#f49a7b"/>
<rect x="100.66" y="66.82" width="12.24" height="8.24" fill="#f49a7b"/>
<rect x="9.30" y="74.76" width="12.24" height="12.24" fill="#e1dad6"/>
<rect x="21.24" y="74.76" width="8.24" height="12.24" fill="#e1dad6"/>
<rect x="29.18" y="74.76" width="8.24" height="12.24" fill="#f4c5ad"/>
<rect x="37.12" y="74.76" width="8.24" height="12.24" fill="#f4c5ad"/>
<rect x="45.07" y="74.76" width="8.24" height="12.24" fill="#f4c5ad"/>
<rect x="53.01" y="74.76" width="8.24" height="12.24" fill="#f4c5ad"/>
<rect x="60.95" y="74.76" width="8.24" height="12.24" fill="#f4c5ad"/>
<rect x="68.89" y="74.76" width="8.24" height="12.24" fill="#f4c5ad"/>
<rect x="76.83" y="74.76" width="8.24" height="12.24" fill="#f4c5ad"/>
<rect x="84.77" y="74.76" width="8.24" height="12.24" fill="#f4c5ad"/>
<rect x="92.72" y="74.76" width="8.24" height="12.24" fill="#f4c5ad"/>
<rect x="100.66" y="74.76" width="12.24" height="12.24" fill="#f49a7b"/>
</g>
<polygon points="13.3,3.3 38.6,3.3 37.3,5.8 35.8,8.0 35.4,9.7 37.0,11.6 35.0,14.6 31.7,17.0 27.0,19.0 23.2,20.4 20.6,21.3 20.5,23.3 21.3,23.9 23.7,23.9 27.0,22.3 30.8,21.9 34.6,23.0 38.3,23.0 41.2,22.2 44.0,23.4 45.2,25.8 44.4,28.6 41.6,30.2 39.5,30.8 41.6,33.0 40.3,37.2 36.4,41.6 33.7,44.3 30.4,47.6 26.1,50.3 22.8,51.4 19.5,55.8 15.2,60.1 13.3,61.8" fill="#fff"/><polygon points="31.8,82.7 32.5,81 34.5,80.3 36.5,81.2 37.2,82.7" fill="#fff"/>
</g>
<rect x="13.3" y="3.3" width="95.3" height="79.4" fill="none" stroke="#8a8a8a" stroke-width="0.55"/>
<text x="11.8" y="84.90" class="t" text-anchor="end" textLength="4.5" lengthAdjust="spacingAndGlyphs">25</text>
<line x1="12.100000000000001" x2="13.3" y1="82.70" y2="82.70" stroke="#444" stroke-width="0.4"/>
<text x="11.8" y="73.56" class="t" text-anchor="end" textLength="4.5" lengthAdjust="spacingAndGlyphs">26</text>
<line x1="12.100000000000001" x2="13.3" y1="71.36" y2="71.36" stroke="#444" stroke-width="0.4"/>
<text x="11.8" y="62.21" class="t" text-anchor="end" textLength="4.5" lengthAdjust="spacingAndGlyphs">27</text>
<line x1="12.100000000000001" x2="13.3" y1="60.01" y2="60.01" stroke="#444" stroke-width="0.4"/>
<text x="11.8" y="50.87" class="t" text-anchor="end" textLength="4.5" lengthAdjust="spacingAndGlyphs">28</text>
<line x1="12.100000000000001" x2="13.3" y1="48.67" y2="48.67" stroke="#444" stroke-width="0.4"/>
<text x="11.8" y="39.53" class="t" text-anchor="end" textLength="4.5" lengthAdjust="spacingAndGlyphs">29</text>
<line x1="12.100000000000001" x2="13.3" y1="37.33" y2="37.33" stroke="#444" stroke-width="0.4"/>
<text x="11.8" y="28.19" class="t" text-anchor="end" textLength="4.5" lengthAdjust="spacingAndGlyphs">30</text>
<line x1="12.100000000000001" x2="13.3" y1="25.99" y2="25.99" stroke="#444" stroke-width="0.4"/>
<text x="11.8" y="16.84" class="t" text-anchor="end" textLength="4.5" lengthAdjust="spacingAndGlyphs">31</text>
<line x1="12.100000000000001" x2="13.3" y1="14.64" y2="14.64" stroke="#444" stroke-width="0.4"/>
<text x="11.8" y="5.50" class="t" text-anchor="end" textLength="4.5" lengthAdjust="spacingAndGlyphs">32</text>
<line x1="12.100000000000001" x2="13.3" y1="3.30" y2="3.30" stroke="#444" stroke-width="0.4"/>
<text x="13.70" y="87.70" class="t" text-anchor="middle" textLength="6.2" lengthAdjust="spacingAndGlyphs">120</text>
<line y1="82.7" y2="83.9" x1="13.30" x2="13.30" stroke="#444" stroke-width="0.4"/>
<text x="27.31" y="87.70" class="t" text-anchor="middle" textLength="6.2" lengthAdjust="spacingAndGlyphs">121</text>
<line y1="82.7" y2="83.9" x1="26.91" x2="26.91" stroke="#444" stroke-width="0.4"/>
<text x="40.93" y="87.70" class="t" text-anchor="middle" textLength="6.2" lengthAdjust="spacingAndGlyphs">122</text>
<line y1="82.7" y2="83.9" x1="40.53" x2="40.53" stroke="#444" stroke-width="0.4"/>
<text x="54.54" y="87.70" class="t" text-anchor="middle" textLength="6.2" lengthAdjust="spacingAndGlyphs">123</text>
<line y1="82.7" y2="83.9" x1="54.14" x2="54.14" stroke="#444" stroke-width="0.4"/>
<text x="68.16" y="87.70" class="t" text-anchor="middle" textLength="6.2" lengthAdjust="spacingAndGlyphs">124</text>
<line y1="82.7" y2="83.9" x1="67.76" x2="67.76" stroke="#444" stroke-width="0.4"/>
<text x="81.77" y="87.70" class="t" text-anchor="middle" textLength="6.2" lengthAdjust="spacingAndGlyphs">125</text>
<line y1="82.7" y2="83.9" x1="81.37" x2="81.37" stroke="#444" stroke-width="0.4"/>
<text x="95.39" y="87.70" class="t" text-anchor="middle" textLength="6.2" lengthAdjust="spacingAndGlyphs">126</text>
<line y1="82.7" y2="83.9" x1="94.99" x2="94.99" stroke="#444" stroke-width="0.4"/>
<text x="109.00" y="87.70" class="t" text-anchor="middle" textLength="6.2" lengthAdjust="spacingAndGlyphs">127</text>
<line y1="82.7" y2="83.9" x1="108.60" x2="108.60" stroke="#444" stroke-width="0.4"/>
<text x="61.3" y="93.2" class="al" text-anchor="middle" textLength="35.5" lengthAdjust="spacingAndGlyphs">EAST LONGITUDE(°)</text>
<text transform="translate(4.6,43.6) rotate(-90)" class="al" text-anchor="middle" textLength="36.5" lengthAdjust="spacingAndGlyphs">NORTH LATITUDE(°)</text>
<rect x="114.4" y="3.3" width="4.1" height="79.4" fill="url(#cw)"/>
<text x="120.00" y="83.65" class="t" textLength="12.5" lengthAdjust="spacingAndGlyphs">0.4500</text>
<line x1="118.5" x2="119.5" y1="82.70" y2="82.70" stroke="#444" stroke-width="0.4"/>
<text x="120.00" y="75.71" class="t" textLength="12.5" lengthAdjust="spacingAndGlyphs">0.4854</text>
<line x1="118.5" x2="119.5" y1="74.76" y2="74.76" stroke="#444" stroke-width="0.4"/>
<text x="120.00" y="67.77" class="t" textLength="12.5" lengthAdjust="spacingAndGlyphs">0.5207</text>
<line x1="118.5" x2="119.5" y1="66.82" y2="66.82" stroke="#444" stroke-width="0.4"/>
<text x="120.00" y="59.83" class="t" textLength="12.5" lengthAdjust="spacingAndGlyphs">0.5561</text>
<line x1="118.5" x2="119.5" y1="58.88" y2="58.88" stroke="#444" stroke-width="0.4"/>
<text x="120.00" y="51.89" class="t" textLength="12.5" lengthAdjust="spacingAndGlyphs">0.5914</text>
<line x1="118.5" x2="119.5" y1="50.94" y2="50.94" stroke="#444" stroke-width="0.4"/>
<text x="120.00" y="43.95" class="t" textLength="12.5" lengthAdjust="spacingAndGlyphs">0.6268</text>
<line x1="118.5" x2="119.5" y1="43.00" y2="43.00" stroke="#444" stroke-width="0.4"/>
<text x="120.00" y="36.01" class="t" textLength="12.5" lengthAdjust="spacingAndGlyphs">0.6621</text>
<line x1="118.5" x2="119.5" y1="35.06" y2="35.06" stroke="#444" stroke-width="0.4"/>
<text x="120.00" y="28.07" class="t" textLength="12.5" lengthAdjust="spacingAndGlyphs">0.6975</text>
<line x1="118.5" x2="119.5" y1="27.12" y2="27.12" stroke="#444" stroke-width="0.4"/>
<text x="120.00" y="20.13" class="t" textLength="12.5" lengthAdjust="spacingAndGlyphs">0.7328</text>
<line x1="118.5" x2="119.5" y1="19.18" y2="19.18" stroke="#444" stroke-width="0.4"/>
<text x="120.00" y="12.19" class="t" textLength="12.5" lengthAdjust="spacingAndGlyphs">0.7682</text>
<line x1="118.5" x2="119.5" y1="11.24" y2="11.24" stroke="#444" stroke-width="0.4"/>
<text transform="translate(136.4,43.8) rotate(-90)" class="al" text-anchor="middle" textLength="38" lengthAdjust="spacingAndGlyphs">SST PREDICTABILITY</text>
<text x="61" y="101.9" class="cap" text-anchor="middle" textLength="50.5" lengthAdjust="spacingAndGlyphs">(j) 2009~2011</text>
</g>
<g transform="translate(142.1,333.3)">
<g clip-path="url(#clip)">
<g filter="url(#bl)">
<rect x="9.30" y="-0.70" width="12.24" height="12.24" fill="#cfd9ea"/>
<rect x="21.24" y="-0.70" width="8.24" height="12.24" fill="#cfd9ea"/>
<rect x="29.18" y="-0.70" width="8.24" height="12.24" fill="#cfd9ea"/>
<rect x="37.12" y="-0.70" width="8.24" height="12.24" fill="#bfd1f2"/>
<rect x="45.07" y="-0.70" width="8.24" height="12.24" fill="#e1dad6"/>
<rect x="53.01" y="-0.70" width="8.24" height="12.24" fill="#e1dad6"/>
<rect x="60.95" y="-0.70" width="8.24" height="12.24" fill="#f4c5ad"/>
<rect x="68.89" y="-0.70" width="8.24" height="12.24" fill="#e1dad6"/>
<rect x="76.83" y="-0.70" width="8.24" height="12.24" fill="#e1dad6"/>
<rect x="84.77" y="-0.70" width="8.24" height="12.24" fill="#e1dad6"/>
<rect x="92.72" y="-0.70" width="8.24" height="12.24" fill="#bfd1f2"/>
<rect x="100.66" y="-0.70" width="12.24" height="12.24" fill="#e1dad6"/>
<rect x="9.30" y="11.24" width="12.24" height="8.24" fill="#cfd9ea"/>
<rect x="21.24" y="11.24" width="8.24" height="8.24" fill="#cfd9ea"/>
<rect x="29.18" y="11.24" width="8.24" height="8.24" fill="#9bb8f6"/>
<rect x="37.12" y="11.24" width="8.24" height="8.24" fill="#bfd1f2"/>
<rect x="45.07" y="11.24" width="8.24" height="8.24" fill="#e1dad6"/>
<rect x="53.01" y="11.24" width="8.24" height="8.24" fill="#e1dad6"/>
<rect x="60.95" y="11.24" width="8.24" height="8.24" fill="#e1dad6"/>
<rect x="68.89" y="11.24" width="8.24" height="8.24" fill="#e1dad6"/>
<rect x="76.83" y="11.24" width="8.24" height="8.24" fill="#e1dad6"/>
<rect x="84.77" y="11.24" width="8.24" height="8.24" fill="#e1dad6"/>
<rect x="92.72" y="11.24" width="8.24" height="8.24" fill="#bfd1f2"/>
<rect x="100.66" y="11.24" width="12.24" height="8.24" fill="#e1dad6"/>
<rect x="9.30" y="19.18" width="12.24" height="8.24" fill="#cfd9ea"/>
<rect x="21.24" y="19.18" width="8.24" height="8.24" fill="#9bb8f6"/>
<rect x="29.18" y="19.18" width="8.24" height="8.24" fill="#9bb8f6"/>
<rect x="37.12" y="19.18" width="8.24" height="8.24" fill="#bfd1f2"/>
<rect x="45.07" y="19.18" width="8.24" height="8.24" fill="#e1dad6"/>
<rect x="53.01" y="19.18" width="8.24" height="8.24" fill="#bfd1f2"/>
<rect x="60.95" y="19.18" width="8.24" height="8.24" fill="#9bb8f6"/>
<rect x="68.89" y="19.18" width="8.24" height="8.24" fill="#bfd1f2"/>
<rect x="76.83" y="19.18" width="8.24" height="8.24" fill="#e1dad6"/>
<rect x="84.77" y="19.18" width="8.24" height="8.24" fill="#f4c5ad"/>
<rect x="92.72" y="19.18" width="8.24" height="8.24" fill="#e1dad6"/>
<rect x="100.66" y="19.18" width="12.24" height="8.24" fill="#e1dad6"/>
<rect x="9.30" y="27.12" width="12.24" height="8.24" fill="#cfd9ea"/>
<rect x="21.24" y="27.12" width="8.24" height="8.24" fill="#cfd9ea"/>
<rect x="29.18" y="27.12" width="8.24" height="8.24" fill="#cfd9ea"/>
<rect x="37.12" y="27.12" width="8.24" height="8.24" fill="#bfd1f2"/>
<rect x="45.07" y="27.12" width="8.24" height="8.24" fill="#e1dad6"/>
<rect x="53.01" y="27.12" width="8.24" height="8.24" fill="#e1dad6"/>
<rect x="60.95" y="27.12" width="8.24" height="8.24" fill="#bfd1f2"/>
<rect x="68.89" y="27.12" width="8.24" height="8.24" fill="#bfd1f2"/>
<rect x="76.83" y="27.12" width="8.24" height="8.24" fill="#e1dad6"/>
<rect x="84.77" y="27.12" width="8.24" height="8.24" fill="#f4c5ad"/>
<rect x="92.72" y="27.12" width="8.24" height="8.24" fill="#f4c5ad"/>
<rect x="100.66" y="27.12" width="12.24" height="8.24" fill="#f4c5ad"/>
<rect x="9.30" y="35.06" width="12.24" height="8.24" fill="#cfd9ea"/>
<rect x="21.24" y="35.06" width="8.24" height="8.24" fill="#cfd9ea"/>
<rect x="29.18" y="35.06" width="8.24" height="8.24" fill="#cfd9ea"/>
<rect x="37.12" y="35.06" width="8.24" height="8.24" fill="#bfd1f2"/>
<rect x="45.07" y="35.06" width="8.24" height="8.24" fill="#e1dad6"/>
<rect x="53.01" y="35.06" width="8.24" height="8.24" fill="#f4c5ad"/>
<rect x="60.95" y="35.06" width="8.24" height="8.24" fill="#bfd1f2"/>
<rect x="68.89" y="35.06" width="8.24" height="8.24" fill="#e1dad6"/>
<rect x="76.83" y="35.06" width="8.24" height="8.24" fill="#f4c5ad"/>
<rect x="84.77" y="35.06" width="8.24" height="8.24" fill="#e1dad6"/>
<rect x="92.72" y="35.06" width="8.24" height="8.24" fill="#f4c5ad"/>
<rect x="100.66" y="35.06" width="12.24" height="8.24" fill="#f4c5ad"/>
<rect x="9.30" y="43.00" width="12.24" height="8.24" fill="#cfd9ea"/>
<rect x="21.24" y="43.00" width="8.24" height="8.24" fill="#cfd9ea"/>
<rect x="29.18" y="43.00" width="8.24" height="8.24" fill="#bfd1f2"/>
<rect x="37.12" y="43.00" width="8.24" height="8.24" fill="#bfd1f2"/>
<rect x="45.07" y="43.00" width="8.24" height="8.24" fill="#e1dad6"/>
<rect x="53.01" y="43.00" width="8.24" height="8.24" fill="#e1dad6"/>
<rect x="60.95" y="43.00" width="8.24" height="8.24" fill="#e1dad6"/>
<rect x="68.89" y="43.00" width="8.24" height="8.24" fill="#e1dad6"/>
<rect x="76.83" y="43.00" width="8.24" height="8.24" fill="#e1dad6"/>
<rect x="84.77" y="43.00" width="8.24" height="8.24" fill="#f4c5ad"/>
<rect x="92.72" y="43.00" width="8.24" height="8.24" fill="#f4c5ad"/>
<rect x="100.66" y="43.00" width="12.24" height="8.24" fill="#f49a7b"/>
<rect x="9.30" y="50.94" width="12.24" height="8.24" fill="#bfd1f2"/>
<rect x="21.24" y="50.94" width="8.24" height="8.24" fill="#bfd1f2"/>
<rect x="29.18" y="50.94" width="8.24" height="8.24" fill="#e1dad6"/>
<rect x="37.12" y="50.94" width="8.24" height="8.24" fill="#e1dad6"/>
<rect x="45.07" y="50.94" width="8.24" height="8.24" fill="#f4c5ad"/>
<rect x="53.01" y="50.94" width="8.24" height="8.24" fill="#e1dad6"/>
<rect x="60.95" y="50.94" width="8.24" height="8.24" fill="#f4c5ad"/>
<rect x="68.89" y="50.94" width="8.24" height="8.24" fill="#f4c5ad"/>
<rect x="76.83" y="50.94" width="8.24" height="8.24" fill="#f4c5ad"/>
<rect x="84.77" y="50.94" width="8.24" height="8.24" fill="#f4c5ad"/>
<rect x="92.72" y="50.94" width="8.24" height="8.24" fill="#f49a7b"/>
<rect x="100.66" y="50.94" width="12.24" height="8.24" fill="#f49a7b"/>
<rect x="9.30" y="58.88" width="12.24" height="8.24" fill="#e1dad6"/>
<rect x="21.24" y="58.88" width="8.24" height="8.24" fill="#bfd1f2"/>
<rect x="29.18" y="58.88" width="8.24" height="8.24" fill="#e1dad6"/>
<rect x="37.12" y="58.88" width="8.24" height="8.24" fill="#e1dad6"/>
<rect x="45.07" y="58.88" width="8.24" height="8.24" fill="#e1dad6"/>
<rect x="53.01" y="58.88" width="8.24" height="8.24" fill="#f4c5ad"/>
<rect x="60.95" y="58.88" width="8.24" height="8.24" fill="#f4c5ad"/>
<rect x="68.89" y="58.88" width="8.24" height="8.24" fill="#f4c5ad"/>
<rect x="76.83" y="58.88" width="8.24" height="8.24" fill="#f49a7b"/>
<rect x="84.77" y="58.88" width="8.24" height="8.24" fill="#f49a7b"/>
<rect x="92.72" y="58.88" width="8.24" height="8.24" fill="#f49a7b"/>
<rect x="100.66" y="58.88" width="12.24" height="8.24" fill="#f49a7b"/>
<rect x="9.30" y="66.82" width="12.24" height="8.24" fill="#bfd1f2"/>
<rect x="21.24" y="66.82" width="8.24" height="8.24" fill="#e1dad6"/>
<rect x="29.18" y="66.82" width="8.24" height="8.24" fill="#e1dad6"/>
<rect x="37.12" y="66.82" width="8.24" height="8.24" fill="#e1dad6"/>
<rect x="45.07" y="66.82" width="8.24" height="8.24" fill="#e1dad6"/>
<rect x="53.01" y="66.82" width="8.24" height="8.24" fill="#f4c5ad"/>
<rect x="60.95" y="66.82" width="8.24" height="8.24" fill="#f49a7b"/>
<rect x="68.89" y="66.82" width="8.24" height="8.24" fill="#f4c5ad"/>
<rect x="76.83" y="66.82" width="8.24" height="8.24" fill="#f4c5ad"/>
<rect x="84.77" y="66.82" width="8.24" height="8.24" fill="#f4c5ad"/>
<rect x="92.72" y="66.82" width="8.24" height="8.24" fill="#f4c5ad"/>
<rect x="100.66" y="66.82" width="12.24" height="8.24" fill="#f4c5ad"/>
<rect x="9.30" y="74.76" width="12.24" height="12.24" fill="#e1dad6"/>
<rect x="21.24" y="74.76" width="8.24" height="12.24" fill="#e1dad6"/>
<rect x="29.18" y="74.76" width="8.24" height="12.24" fill="#e1dad6"/>
<rect x="37.12" y="74.76" width="8.24" height="12.24" fill="#e1dad6"/>
<rect x="45.07" y="74.76" width="8.24" height="12.24" fill="#f4c5ad"/>
<rect x="53.01" y="74.76" width="8.24" height="12.24" fill="#f4c5ad"/>
<rect x="60.95" y="74.76" width="8.24" height="12.24" fill="#f4c5ad"/>
<rect x="68.89" y="74.76" width="8.24" height="12.24" fill="#f4c5ad"/>
<rect x="76.83" y="74.76" width="8.24" height="12.24" fill="#f4c5ad"/>
<rect x="84.77" y="74.76" width="8.24" height="12.24" fill="#f4c5ad"/>
<rect x="92.72" y="74.76" width="8.24" height="12.24" fill="#e1dad6"/>
<rect x="100.66" y="74.76" width="12.24" height="12.24" fill="#f4c5ad"/>
</g>
<polygon points="13.3,3.3 38.6,3.3 37.3,5.8 35.8,8.0 35.4,9.7 37.0,11.6 35.0,14.6 31.7,17.0 27.0,19.0 23.2,20.4 20.6,21.3 20.5,23.3 21.3,23.9 23.7,23.9 27.0,22.3 30.8,21.9 34.6,23.0 38.3,23.0 41.2,22.2 44.0,23.4 45.2,25.8 44.4,28.6 41.6,30.2 39.5,30.8 41.6,33.0 40.3,37.2 36.4,41.6 33.7,44.3 30.4,47.6 26.1,50.3 22.8,51.4 19.5,55.8 15.2,60.1 13.3,61.8" fill="#fff"/><polygon points="31.8,82.7 32.5,81 34.5,80.3 36.5,81.2 37.2,82.7" fill="#fff"/>
</g>
<rect x="13.3" y="3.3" width="95.3" height="79.4" fill="none" stroke="#8a8a8a" stroke-width="0.55"/>
<text x="11.8" y="84.90" class="t" text-anchor="end" textLength="4.5" lengthAdjust="spacingAndGlyphs">25</text>
<line x1="12.100000000000001" x2="13.3" y1="82.70" y2="82.70" stroke="#444" stroke-width="0.4"/>
<text x="11.8" y="73.56" class="t" text-anchor="end" textLength="4.5" lengthAdjust="spacingAndGlyphs">26</text>
<line x1="12.100000000000001" x2="13.3" y1="71.36" y2="71.36" stroke="#444" stroke-width="0.4"/>
<text x="11.8" y="62.21" class="t" text-anchor="end" textLength="4.5" lengthAdjust="spacingAndGlyphs">27</text>
<line x1="12.100000000000001" x2="13.3" y1="60.01" y2="60.01" stroke="#444" stroke-width="0.4"/>
<text x="11.8" y="50.87" class="t" text-anchor="end" textLength="4.5" lengthAdjust="spacingAndGlyphs">28</text>
<line x1="12.100000000000001" x2="13.3" y1="48.67" y2="48.67" stroke="#444" stroke-width="0.4"/>
<text x="11.8" y="39.53" class="t" text-anchor="end" textLength="4.5" lengthAdjust="spacingAndGlyphs">29</text>
<line x1="12.100000000000001" x2="13.3" y1="37.33" y2="37.33" stroke="#444" stroke-width="0.4"/>
<text x="11.8" y="28.19" class="t" text-anchor="end" textLength="4.5" lengthAdjust="spacingAndGlyphs">30</text>
<line x1="12.100000000000001" x2="13.3" y1="25.99" y2="25.99" stroke="#444" stroke-width="0.4"/>
<text x="11.8" y="16.84" class="t" text-anchor="end" textLength="4.5" lengthAdjust="spacingAndGlyphs">31</text>
<line x1="12.100000000000001" x2="13.3" y1="14.64" y2="14.64" stroke="#444" stroke-width="0.4"/>
<text x="11.8" y="5.50" class="t" text-anchor="end" textLength="4.5" lengthAdjust="spacingAndGlyphs">32</text>
<line x1="12.100000000000001" x2="13.3" y1="3.30" y2="3.30" stroke="#444" stroke-width="0.4"/>
<text x="13.70" y="87.70" class="t" text-anchor="middle" textLength="6.2" lengthAdjust="spacingAndGlyphs">120</text>
<line y1="82.7" y2="83.9" x1="13.30" x2="13.30" stroke="#444" stroke-width="0.4"/>
<text x="27.31" y="87.70" class="t" text-anchor="middle" textLength="6.2" lengthAdjust="spacingAndGlyphs">121</text>
<line y1="82.7" y2="83.9" x1="26.91" x2="26.91" stroke="#444" stroke-width="0.4"/>
<text x="40.93" y="87.70" class="t" text-anchor="middle" textLength="6.2" lengthAdjust="spacingAndGlyphs">122</text>
<line y1="82.7" y2="83.9" x1="40.53" x2="40.53" stroke="#444" stroke-width="0.4"/>
<text x="54.54" y="87.70" class="t" text-anchor="middle" textLength="6.2" lengthAdjust="spacingAndGlyphs">123</text>
<line y1="82.7" y2="83.9" x1="54.14" x2="54.14" stroke="#444" stroke-width="0.4"/>
<text x="68.16" y="87.70" class="t" text-anchor="middle" textLength="6.2" lengthAdjust="spacingAndGlyphs">124</text>
<line y1="82.7" y2="83.9" x1="67.76" x2="67.76" stroke="#444" stroke-width="0.4"/>
<text x="81.77" y="87.70" class="t" text-anchor="middle" textLength="6.2" lengthAdjust="spacingAndGlyphs">125</text>
<line y1="82.7" y2="83.9" x1="81.37" x2="81.37" stroke="#444" stroke-width="0.4"/>
<text x="95.39" y="87.70" class="t" text-anchor="middle" textLength="6.2" lengthAdjust="spacingAndGlyphs">126</text>
<line y1="82.7" y2="83.9" x1="94.99" x2="94.99" stroke="#444" stroke-width="0.4"/>
<text x="109.00" y="87.70" class="t" text-anchor="middle" textLength="6.2" lengthAdjust="spacingAndGlyphs">127</text>
<line y1="82.7" y2="83.9" x1="108.60" x2="108.60" stroke="#444" stroke-width="0.4"/>
<text x="61.3" y="93.2" class="al" text-anchor="middle" textLength="35.5" lengthAdjust="spacingAndGlyphs">EAST LONGITUDE(°)</text>
<text transform="translate(4.6,43.6) rotate(-90)" class="al" text-anchor="middle" textLength="36.5" lengthAdjust="spacingAndGlyphs">NORTH LATITUDE(°)</text>
<rect x="114.4" y="3.3" width="4.1" height="79.4" fill="url(#cw)"/>
<text x="120.00" y="83.65" class="t" textLength="12.5" lengthAdjust="spacingAndGlyphs">0.4500</text>
<line x1="118.5" x2="119.5" y1="82.70" y2="82.70" stroke="#444" stroke-width="0.4"/>
<text x="120.00" y="75.71" class="t" textLength="12.5" lengthAdjust="spacingAndGlyphs">0.4854</text>
<line x1="118.5" x2="119.5" y1="74.76" y2="74.76" stroke="#444" stroke-width="0.4"/>
<text x="120.00" y="67.77" class="t" textLength="12.5" lengthAdjust="spacingAndGlyphs">0.5207</text>
<line x1="118.5" x2="119.5" y1="66.82" y2="66.82" stroke="#444" stroke-width="0.4"/>
<text x="120.00" y="59.83" class="t" textLength="12.5" lengthAdjust="spacingAndGlyphs">0.5561</text>
<line x1="118.5" x2="119.5" y1="58.88" y2="58.88" stroke="#444" stroke-width="0.4"/>
<text x="120.00" y="51.89" class="t" textLength="12.5" lengthAdjust="spacingAndGlyphs">0.5914</text>
<line x1="118.5" x2="119.5" y1="50.94" y2="50.94" stroke="#444" stroke-width="0.4"/>
<text x="120.00" y="43.95" class="t" textLength="12.5" lengthAdjust="spacingAndGlyphs">0.6268</text>
<line x1="118.5" x2="119.5" y1="43.00" y2="43.00" stroke="#444" stroke-width="0.4"/>
<text x="120.00" y="36.01" class="t" textLength="12.5" lengthAdjust="spacingAndGlyphs">0.6621</text>
<line x1="118.5" x2="119.5" y1="35.06" y2="35.06" stroke="#444" stroke-width="0.4"/>
<text x="120.00" y="28.07" class="t" textLength="12.5" lengthAdjust="spacingAndGlyphs">0.6975</text>
<line x1="118.5" x2="119.5" y1="27.12" y2="27.12" stroke="#444" stroke-width="0.4"/>
<text x="120.00" y="20.13" class="t" textLength="12.5" lengthAdjust="spacingAndGlyphs">0.7328</text>
<line x1="118.5" x2="119.5" y1="19.18" y2="19.18" stroke="#444" stroke-width="0.4"/>
<text x="120.00" y="12.19" class="t" textLength="12.5" lengthAdjust="spacingAndGlyphs">0.7682</text>
<line x1="118.5" x2="119.5" y1="11.24" y2="11.24" stroke="#444" stroke-width="0.4"/>
<text transform="translate(136.4,43.8) rotate(-90)" class="al" text-anchor="middle" textLength="38" lengthAdjust="spacingAndGlyphs">SST PREDICTABILITY</text>
<text x="61" y="101.9" class="cap" text-anchor="middle" textLength="50.5" lengthAdjust="spacingAndGlyphs">(k) 2012~2014</text>
</g>
<g transform="translate(284.2,333.3)">
<g clip-path="url(#clip)">
<g filter="url(#bl)">
<rect x="9.30" y="-0.70" width="12.24" height="12.24" fill="#cfd9ea"/>
<rect x="21.24" y="-0.70" width="8.24" height="12.24" fill="#cfd9ea"/>
<rect x="29.18" y="-0.70" width="8.24" height="12.24" fill="#cfd9ea"/>
<rect x="37.12" y="-0.70" width="8.24" height="12.24" fill="#bfd1f2"/>
<rect x="45.07" y="-0.70" width="8.24" height="12.24" fill="#e1dad6"/>
<rect x="53.01" y="-0.70" width="8.24" height="12.24" fill="#bfd1f2"/>
<rect x="60.95" y="-0.70" width="8.24" height="12.24" fill="#bfd1f2"/>
<rect x="68.89" y="-0.70" width="8.24" height="12.24" fill="#bfd1f2"/>
<rect x="76.83" y="-0.70" width="8.24" height="12.24" fill="#e1dad6"/>
<rect x="84.77" y="-0.70" width="8.24" height="12.24" fill="#e1dad6"/>
<rect x="92.72" y="-0.70" width="8.24" height="12.24" fill="#f4c5ad"/>
<rect x="100.66" y="-0.70" width="12.24" height="12.24" fill="#e1dad6"/>
<rect x="9.30" y="11.24" width="12.24" height="8.24" fill="#cfd9ea"/>
<rect x="21.24" y="11.24" width="8.24" height="8.24" fill="#cfd9ea"/>
<rect x="29.18" y="11.24" width="8.24" height="8.24" fill="#bfd1f2"/>
<rect x="37.12" y="11.24" width="8.24" height="8.24" fill="#bfd1f2"/>
<rect x="45.07" y="11.24" width="8.24" height="8.24" fill="#bfd1f2"/>
<rect x="53.01" y="11.24" width="8.24" height="8.24" fill="#bfd1f2"/>
<rect x="60.95" y="11.24" width="8.24" height="8.24" fill="#bfd1f2"/>
<rect x="68.89" y="11.24" width="8.24" height="8.24" fill="#bfd1f2"/>
<rect x="76.83" y="11.24" width="8.24" height="8.24" fill="#e1dad6"/>
<rect x="84.77" y="11.24" width="8.24" height="8.24" fill="#9bb8f6"/>
<rect x="92.72" y="11.24" width="8.24" height="8.24" fill="#e1dad6"/>
<rect x="100.66" y="11.24" width="12.24" height="8.24" fill="#e1dad6"/>
<rect x="9.30" y="19.18" width="12.24" height="8.24" fill="#cfd9ea"/>
<rect x="21.24" y="19.18" width="8.24" height="8.24" fill="#bfd1f2"/>
<rect x="29.18" y="19.18" width="8.24" height="8.24" fill="#bfd1f2"/>
<rect x="37.12" y="19.18" width="8.24" height="8.24" fill="#bfd1f2"/>
<rect x="45.07" y="19.18" width="8.24" height="8.24" fill="#bfd1f2"/>
<rect x="53.01" y="19.18" width="8.24" height="8.24" fill="#bfd1f2"/>
<rect x="60.95" y="19.18" width="8.24" height="8.24" fill="#bfd1f2"/>
<rect x="68.89" y="19.18" width="8.24" height="8.24" fill="#bfd1f2"/>
<rect x="76.83" y="19.18" width="8.24" height="8.24" fill="#e1dad6"/>
<rect x="84.77" y="19.18" width="8.24" height="8.24" fill="#e1dad6"/>
<rect x="92.72" y="19.18" width="8.24" height="8.24" fill="#e1dad6"/>
<rect x="100.66" y="19.18" width="12.24" height="8.24" fill="#e1dad6"/>
<rect x="9.30" y="27.12" width="12.24" height="8.24" fill="#cfd9ea"/>
<rect x="21.24" y="27.12" width="8.24" height="8.24" fill="#cfd9ea"/>
<rect x="29.18" y="27.12" width="8.24" height="8.24" fill="#cfd9ea"/>
<rect x="37.12" y="27.12" width="8.24" height="8.24" fill="#bfd1f2"/>
<rect x="45.07" y="27.12" width="8.24" height="8.24" fill="#bfd1f2"/>
<rect x="53.01" y="27.12" width="8.24" height="8.24" fill="#bfd1f2"/>
<rect x="60.95" y="27.12" width="8.24" height="8.24" fill="#bfd1f2"/>
<rect x="68.89" y="27.12" width="8.24" height="8.24" fill="#bfd1f2"/>
<rect x="76.83" y="27.12" width="8.24" height="8.24" fill="#e1dad6"/>
<rect x="84.77" y="27.12" width="8.24" height="8.24" fill="#f4c5ad"/>
<rect x="92.72" y="27.12" width="8.24" height="8.24" fill="#e1dad6"/>
<rect x="100.66" y="27.12" width="12.24" height="8.24" fill="#e1dad6"/>
<rect x="9.30" y="35.06" width="12.24" height="8.24" fill="#cfd9ea"/>
<rect x="21.24" y="35.06" width="8.24" height="8.24" fill="#cfd9ea"/>
<rect x="29.18" y="35.06" width="8.24" height="8.24" fill="#cfd9ea"/>
<rect x="37.12" y="35.06" width="8.24" height="8.24" fill="#bfd1f2"/>
<rect x="45.07" y="35.06" width="8.24" height="8.24" fill="#9bb8f6"/>
<rect x="53.01" y="35.06" width="8.24" height="8.24" fill="#bfd1f2"/>
<rect x="60.95" y="35.06" width="8.24" height="8.24" fill="#bfd1f2"/>
<rect x="68.89" y="35.06" width="8.24" height="8.24" fill="#e1dad6"/>
<rect x="76.83" y="35.06" width="8.24" height="8.24" fill="#f4c5ad"/>
<rect x="84.77" y="35.06" width="8.24" height="8.24" fill="#f4c5ad"/>
<rect x="92.72" y="35.06" width="8.24" height="8.24" fill="#f4c5ad"/>
<rect x="100.66" y="35.06" width="12.24" height="8.24" fill="#e1dad6"/>
<rect x="9.30" y="43.00" width="12.24" height="8.24" fill="#cfd9ea"/>
<rect x="21.24" y="43.00" width="8.24" height="8.24" fill="#cfd9ea"/>
<rect x="29.18" y="43.00" width="8.24" height="8.24" fill="#bfd1f2"/>
<rect x="37.12" y="43.00" width="8.24" height="8.24" fill="#bfd1f2"/>
<rect x="45.07" y="43.00" width="8.24" height="8.24" fill="#9bb8f6"/>
<rect x="53.01" y="43.00" width="8.24" height="8.24" fill="#bfd1f2"/>
<rect x="60.95" y="43.00" width="8.24" height="8.24" fill="#e1dad6"/>
<rect x="68.89" y="43.00" width="8.24" height="8.24" fill="#e1dad6"/>
<rect x="76.83" y="43.00" width="8.24" height="8.24" fill="#e1dad6"/>
<rect x="84.77" y="43.00" width="8.24" height="8.24" fill="#e1dad6"/>
<rect x="92.72" y="43.00" width="8.24" height="8.24" fill="#e1dad6"/>
<rect x="100.66" y="43.00" width="12.24" height="8.24" fill="#e1dad6"/>
<rect x="9.30" y="50.94" width="12.24" height="8.24" fill="#e1dad6"/>
<rect x="21.24" y="50.94" width="8.24" height="8.24" fill="#bfd1f2"/>
<rect x="29.18" y="50.94" width="8.24" height="8.24" fill="#e1dad6"/>
<rect x="37.12" y="50.94" width="8.24" height="8.24" fill="#e1dad6"/>
<rect x="45.07" y="50.94" width="8.24" height="8.24" fill="#e1dad6"/>
<rect x="53.01" y="50.94" width="8.24" height="8.24" fill="#f4c5ad"/>
<rect x="60.95" y="50.94" width="8.24" height="8.24" fill="#e1dad6"/>
<rect x="68.89" y="50.94" width="8.24" height="8.24" fill="#e1dad6"/>
<rect x="76.83" y="50.94" width="8.24" height="8.24" fill="#f4c5ad"/>
<rect x="84.77" y="50.94" width="8.24" height="8.24" fill="#e1dad6"/>
<rect x="92.72" y="50.94" width="8.24" height="8.24" fill="#f4c5ad"/>
<rect x="100.66" y="50.94" width="12.24" height="8.24" fill="#f4c5ad"/>
<rect x="9.30" y="58.88" width="12.24" height="8.24" fill="#bfd1f2"/>
<rect x="21.24" y="58.88" width="8.24" height="8.24" fill="#e1dad6"/>
<rect x="29.18" y="58.88" width="8.24" height="8.24" fill="#e1dad6"/>
<rect x="37.12" y="58.88" width="8.24" height="8.24" fill="#e1dad6"/>
<rect x="45.07" y="58.88" width="8.24" height="8.24" fill="#e1dad6"/>
<rect x="53.01" y="58.88" width="8.24" height="8.24" fill="#e1dad6"/>
<rect x="60.95" y="58.88" width="8.24" height="8.24" fill="#f4c5ad"/>
<rect x="68.89" y="58.88" width="8.24" height="8.24" fill="#f4c5ad"/>
<rect x="76.83" y="58.88" width="8.24" height="8.24" fill="#e1dad6"/>
<rect x="84.77" y="58.88" width="8.24" height="8.24" fill="#f4c5ad"/>
<rect x="92.72" y="58.88" width="8.24" height="8.24" fill="#f4c5ad"/>
<rect x="100.66" y="58.88" width="12.24" height="8.24" fill="#f4c5ad"/>
<rect x="9.30" y="66.82" width="12.24" height="8.24" fill="#e1dad6"/>
<rect x="21.24" y="66.82" width="8.24" height="8.24" fill="#e1dad6"/>
<rect x="29.18" y="66.82" width="8.24" height="8.24" fill="#e1dad6"/>
<rect x="37.12" y="66.82" width="8.24" height="8.24" fill="#e1dad6"/>
<rect x="45.07" y="66.82" width="8.24" height="8.24" fill="#f4c5ad"/>
<rect x="53.01" y="66.82" width="8.24" height="8.24" fill="#f4c5ad"/>
<rect x="60.95" y="66.82" width="8.24" height="8.24" fill="#f4c5ad"/>
<rect x="68.89" y="66.82" width="8.24" height="8.24" fill="#f4c5ad"/>
<rect x="76.83" y="66.82" width="8.24" height="8.24" fill="#f4c5ad"/>
<rect x="84.77" y="66.82" width="8.24" height="8.24" fill="#e1dad6"/>
<rect x="92.72" y="66.82" width="8.24" height="8.24" fill="#f4c5ad"/>
<rect x="100.66" y="66.82" width="12.24" height="8.24" fill="#f4c5ad"/>
<rect x="9.30" y="74.76" width="12.24" height="12.24" fill="#e1dad6"/>
<rect x="21.24" y="74.76" width="8.24" height="12.24" fill="#e1dad6"/>
<rect x="29.18" y="74.76" width="8.24" height="12.24" fill="#e1dad6"/>
<rect x="37.12" y="74.76" width="8.24" height="12.24" fill="#f4c5ad"/>
<rect x="45.07" y="74.76" width="8.24" height="12.24" fill="#f4c5ad"/>
<rect x="53.01" y="74.76" width="8.24" height="12.24" fill="#f4c5ad"/>
<rect x="60.95" y="74.76" width="8.24" height="12.24" fill="#f4c5ad"/>
<rect x="68.89" y="74.76" width="8.24" height="12.24" fill="#e1dad6"/>
<rect x="76.83" y="74.76" width="8.24" height="12.24" fill="#f4c5ad"/>
<rect x="84.77" y="74.76" width="8.24" height="12.24" fill="#f4c5ad"/>
<rect x="92.72" y="74.76" width="8.24" height="12.24" fill="#e1dad6"/>
<rect x="100.66" y="74.76" width="12.24" height="12.24" fill="#f4c5ad"/>
<circle cx="72.4" cy="12.9" r="2.3" fill="#3e4db3"/>
<circle cx="85.5" cy="14.3" r="2" fill="#4f65c8"/>
</g>
<polygon points="13.3,3.3 38.6,3.3 37.3,5.8 35.8,8.0 35.4,9.7 37.0,11.6 35.0,14.6 31.7,17.0 27.0,19.0 23.2,20.4 20.6,21.3 20.5,23.3 21.3,23.9 23.7,23.9 27.0,22.3 30.8,21.9 34.6,23.0 38.3,23.0 41.2,22.2 44.0,23.4 45.2,25.8 44.4,28.6 41.6,30.2 39.5,30.8 41.6,33.0 40.3,37.2 36.4,41.6 33.7,44.3 30.4,47.6 26.1,50.3 22.8,51.4 19.5,55.8 15.2,60.1 13.3,61.8" fill="#fff"/><polygon points="31.8,82.7 32.5,81 34.5,80.3 36.5,81.2 37.2,82.7" fill="#fff"/>
</g>
<rect x="13.3" y="3.3" width="95.3" height="79.4" fill="none" stroke="#8a8a8a" stroke-width="0.55"/>
<text x="11.8" y="84.90" class="t" text-anchor="end" textLength="4.5" lengthAdjust="spacingAndGlyphs">25</text>
<line x1="12.100000000000001" x2="13.3" y1="82.70" y2="82.70" stroke="#444" stroke-width="0.4"/>
<text x="11.8" y="73.56" class="t" text-anchor="end" textLength="4.5" lengthAdjust="spacingAndGlyphs">26</text>
<line x1="12.100000000000001" x2="13.3" y1="71.36" y2="71.36" stroke="#444" stroke-width="0.4"/>
<text x="11.8" y="62.21" class="t" text-anchor="end" textLength="4.5" lengthAdjust="spacingAndGlyphs">27</text>
<line x1="12.100000000000001" x2="13.3" y1="60.01" y2="60.01" stroke="#444" stroke-width="0.4"/>
<text x="11.8" y="50.87" class="t" text-anchor="end" textLength="4.5" lengthAdjust="spacingAndGlyphs">28</text>
<line x1="12.100000000000001" x2="13.3" y1="48.67" y2="48.67" stroke="#444" stroke-width="0.4"/>
<text x="11.8" y="39.53" class="t" text-anchor="end" textLength="4.5" lengthAdjust="spacingAndGlyphs">29</text>
<line x1="12.100000000000001" x2="13.3" y1="37.33" y2="37.33" stroke="#444" stroke-width="0.4"/>
<text x="11.8" y="28.19" class="t" text-anchor="end" textLength="4.5" lengthAdjust="spacingAndGlyphs">30</text>
<line x1="12.100000000000001" x2="13.3" y1="25.99" y2="25.99" stroke="#444" stroke-width="0.4"/>
<text x="11.8" y="16.84" class="t" text-anchor="end" textLength="4.5" lengthAdjust="spacingAndGlyphs">31</text>
<line x1="12.100000000000001" x2="13.3" y1="14.64" y2="14.64" stroke="#444" stroke-width="0.4"/>
<text x="11.8" y="5.50" class="t" text-anchor="end" textLength="4.5" lengthAdjust="spacingAndGlyphs">32</text>
<line x1="12.100000000000001" x2="13.3" y1="3.30" y2="3.30" stroke="#444" stroke-width="0.4"/>
<text x="13.70" y="87.70" class="t" text-anchor="middle" textLength="6.2" lengthAdjust="spacingAndGlyphs">120</text>
<line y1="82.7" y2="83.9" x1="13.30" x2="13.30" stroke="#444" stroke-width="0.4"/>
<text x="27.31" y="87.70" class="t" text-anchor="middle" textLength="6.2" lengthAdjust="spacingAndGlyphs">121</text>
<line y1="82.7" y2="83.9" x1="26.91" x2="26.91" stroke="#444" stroke-width="0.4"/>
<text x="40.93" y="87.70" class="t" text-anchor="middle" textLength="6.2" lengthAdjust="spacingAndGlyphs">122</text>
<line y1="82.7" y2="83.9" x1="40.53" x2="40.53" stroke="#444" stroke-width="0.4"/>
<text x="54.54" y="87.70" class="t" text-anchor="middle" textLength="6.2" lengthAdjust="spacingAndGlyphs">123</text>
<line y1="82.7" y2="83.9" x1="54.14" x2="54.14" stroke="#444" stroke-width="0.4"/>
<text x="68.16" y="87.70" class="t" text-anchor="middle" textLength="6.2" lengthAdjust="spacingAndGlyphs">124</text>
<line y1="82.7" y2="83.9" x1="67.76" x2="67.76" stroke="#444" stroke-width="0.4"/>
<text x="81.77" y="87.70" class="t" text-anchor="middle" textLength="6.2" lengthAdjust="spacingAndGlyphs">125</text>
<line y1="82.7" y2="83.9" x1="81.37" x2="81.37" stroke="#444" stroke-width="0.4"/>
<text x="95.39" y="87.70" class="t" text-anchor="middle" textLength="6.2" lengthAdjust="spacingAndGlyphs">126</text>
<line y1="82.7" y2="83.9" x1="94.99" x2="94.99" stroke="#444" stroke-width="0.4"/>
<text x="109.00" y="87.70" class="t" text-anchor="middle" textLength="6.2" lengthAdjust="spacingAndGlyphs">127</text>
<line y1="82.7" y2="83.9" x1="108.60" x2="108.60" stroke="#444" stroke-width="0.4"/>
<text x="61.3" y="93.2" class="al" text-anchor="middle" textLength="35.5" lengthAdjust="spacingAndGlyphs">EAST LONGITUDE(°)</text>
<text transform="translate(4.6,43.6) rotate(-90)" class="al" text-anchor="middle" textLength="36.5" lengthAdjust="spacingAndGlyphs">NORTH LATITUDE(°)</text>
<rect x="114.4" y="3.3" width="4.1" height="79.4" fill="url(#cw)"/>
<text x="120.00" y="83.65" class="t" textLength="12.5" lengthAdjust="spacingAndGlyphs">0.4500</text>
<line x1="118.5" x2="119.5" y1="82.70" y2="82.70" stroke="#444" stroke-width="0.4"/>
<text x="120.00" y="75.71" class="t" textLength="12.5" lengthAdjust="spacingAndGlyphs">0.4854</text>
<line x1="118.5" x2="119.5" y1="74.76" y2="74.76" stroke="#444" stroke-width="0.4"/>
<text x="120.00" y="67.77" class="t" textLength="12.5" lengthAdjust="spacingAndGlyphs">0.5207</text>
<line x1="118.5" x2="119.5" y1="66.82" y2="66.82" stroke="#444" stroke-width="0.4"/>
<text x="120.00" y="59.83" class="t" textLength="12.5" lengthAdjust="spacingAndGlyphs">0.5561</text>
<line x1="118.5" x2="119.5" y1="58.88" y2="58.88" stroke="#444" stroke-width="0.4"/>
<text x="120.00" y="51.89" class="t" textLength="12.5" lengthAdjust="spacingAndGlyphs">0.5914</text>
<line x1="118.5" x2="119.5" y1="50.94" y2="50.94" stroke="#444" stroke-width="0.4"/>
<text x="120.00" y="43.95" class="t" textLength="12.5" lengthAdjust="spacingAndGlyphs">0.6268</text>
<line x1="118.5" x2="119.5" y1="43.00" y2="43.00" stroke="#444" stroke-width="0.4"/>
<text x="120.00" y="36.01" class="t" textLength="12.5" lengthAdjust="spacingAndGlyphs">0.6621</text>
<line x1="118.5" x2="119.5" y1="35.06" y2="35.06" stroke="#444" stroke-width="0.4"/>
<text x="120.00" y="28.07" class="t" textLength="12.5" lengthAdjust="spacingAndGlyphs">0.6975</text>
<line x1="118.5" x2="119.5" y1="27.12" y2="27.12" stroke="#444" stroke-width="0.4"/>
<text x="120.00" y="20.13" class="t" textLength="12.5" lengthAdjust="spacingAndGlyphs">0.7328</text>
<line x1="118.5" x2="119.5" y1="19.18" y2="19.18" stroke="#444" stroke-width="0.4"/>
<text x="120.00" y="12.19" class="t" textLength="12.5" lengthAdjust="spacingAndGlyphs">0.7682</text>
<line x1="118.5" x2="119.5" y1="11.24" y2="11.24" stroke="#444" stroke-width="0.4"/>
<text transform="translate(136.4,43.8) rotate(-90)" class="al" text-anchor="middle" textLength="38" lengthAdjust="spacingAndGlyphs">SST PREDICTABILITY</text>
<text x="61" y="101.9" class="cap" text-anchor="middle" textLength="50.5" lengthAdjust="spacingAndGlyphs">(l) 2015~2017</text>
</g>
<g transform="translate(0.0,444.4)">
<g clip-path="url(#clip)">
<g filter="url(#bl)">
<rect x="9.30" y="-0.70" width="12.24" height="12.24" fill="#cfd9ea"/>
<rect x="21.24" y="-0.70" width="8.24" height="12.24" fill="#cfd9ea"/>
<rect x="29.18" y="-0.70" width="8.24" height="12.24" fill="#cfd9ea"/>
<rect x="37.12" y="-0.70" width="8.24" height="12.24" fill="#e1dad6"/>
<rect x="45.07" y="-0.70" width="8.24" height="12.24" fill="#e1dad6"/>
<rect x="53.01" y="-0.70" width="8.24" height="12.24" fill="#bfd1f2"/>
<rect x="60.95" y="-0.70" width="8.24" height="12.24" fill="#bfd1f2"/>
<rect x="68.89" y="-0.70" width="8.24" height="12.24" fill="#9bb8f6"/>
<rect x="76.83" y="-0.70" width="8.24" height="12.24" fill="#bfd1f2"/>
<rect x="84.77" y="-0.70" width="8.24" height="12.24" fill="#bfd1f2"/>
<rect x="92.72" y="-0.70" width="8.24" height="12.24" fill="#e1dad6"/>
<rect x="100.66" y="-0.70" width="12.24" height="12.24" fill="#e1dad6"/>
<rect x="9.30" y="11.24" width="12.24" height="8.24" fill="#cfd9ea"/>
<rect x="21.24" y="11.24" width="8.24" height="8.24" fill="#cfd9ea"/>
<rect x="29.18" y="11.24" width="8.24" height="8.24" fill="#bfd1f2"/>
<rect x="37.12" y="11.24" width="8.24" height="8.24" fill="#e1dad6"/>
<rect x="45.07" y="11.24" width="8.24" height="8.24" fill="#bfd1f2"/>
<rect x="53.01" y="11.24" width="8.24" height="8.24" fill="#bfd1f2"/>
<rect x="60.95" y="11.24" width="8.24" height="8.24" fill="#bfd1f2"/>
<rect x="68.89" y="11.24" width="8.24" height="8.24" fill="#9bb8f6"/>
<rect x="76.83" y="11.24" width="8.24" height="8.24" fill="#bfd1f2"/>
<rect x="84.77" y="11.24" width="8.24" height="8.24" fill="#bfd1f2"/>
<rect x="92.72" y="11.24" width="8.24" height="8.24" fill="#e1dad6"/>
<rect x="100.66" y="11.24" width="12.24" height="8.24" fill="#e1dad6"/>
<rect x="9.30" y="19.18" width="12.24" height="8.24" fill="#cfd9ea"/>
<rect x="21.24" y="19.18" width="8.24" height="8.24" fill="#9bb8f6"/>
<rect x="29.18" y="19.18" width="8.24" height="8.24" fill="#bfd1f2"/>
<rect x="37.12" y="19.18" width="8.24" height="8.24" fill="#bfd1f2"/>
<rect x="45.07" y="19.18" width="8.24" height="8.24" fill="#bfd1f2"/>
<rect x="53.01" y="19.18" width="8.24" height="8.24" fill="#e1dad6"/>
<rect x="60.95" y="19.18" width="8.24" height="8.24" fill="#f4c5ad"/>
<rect x="68.89" y="19.18" width="8.24" height="8.24" fill="#e1dad6"/>
<rect x="76.83" y="19.18" width="8.24" height="8.24" fill="#9bb8f6"/>
<rect x="84.77" y="19.18" width="8.24" height="8.24" fill="#bfd1f2"/>
<rect x="92.72" y="19.18" width="8.24" height="8.24" fill="#e1dad6"/>
<rect x="100.66" y="19.18" width="12.24" height="8.24" fill="#e1dad6"/>
<rect x="9.30" y="27.12" width="12.24" height="8.24" fill="#cfd9ea"/>
<rect x="21.24" y="27.12" width="8.24" height="8.24" fill="#cfd9ea"/>
<rect x="29.18" y="27.12" width="8.24" height="8.24" fill="#cfd9ea"/>
<rect x="37.12" y="27.12" width="8.24" height="8.24" fill="#bfd1f2"/>
<rect x="45.07" y="27.12" width="8.24" height="8.24" fill="#e1dad6"/>
<rect x="53.01" y="27.12" width="8.24" height="8.24" fill="#f4c5ad"/>
<rect x="60.95" y="27.12" width="8.24" height="8.24" fill="#f4c5ad"/>
<rect x="68.89" y="27.12" width="8.24" height="8.24" fill="#e1dad6"/>
<rect x="76.83" y="27.12" width="8.24" height="8.24" fill="#bfd1f2"/>
<rect x="84.77" y="27.12" width="8.24" height="8.24" fill="#e1dad6"/>
<rect x="92.72" y="27.12" width="8.24" height="8.24" fill="#e1dad6"/>
<rect x="100.66" y="27.12" width="12.24" height="8.24" fill="#f4c5ad"/>
<rect x="9.30" y="35.06" width="12.24" height="8.24" fill="#cfd9ea"/>
<rect x="21.24" y="35.06" width="8.24" height="8.24" fill="#cfd9ea"/>
<rect x="29.18" y="35.06" width="8.24" height="8.24" fill="#cfd9ea"/>
<rect x="37.12" y="35.06" width="8.24" height="8.24" fill="#bfd1f2"/>
<rect x="45.07" y="35.06" width="8.24" height="8.24" fill="#e1dad6"/>
<rect x="53.01" y="35.06" width="8.24" height="8.24" fill="#e1dad6"/>
<rect x="60.95" y="35.06" width="8.24" height="8.24" fill="#e1dad6"/>
<rect x="68.89" y="35.06" width="8.24" height="8.24" fill="#bfd1f2"/>
<rect x="76.83" y="35.06" width="8.24" height="8.24" fill="#e1dad6"/>
<rect x="84.77" y="35.06" width="8.24" height="8.24" fill="#e1dad6"/>
<rect x="92.72" y="35.06" width="8.24" height="8.24" fill="#f4c5ad"/>
<rect x="100.66" y="35.06" width="12.24" height="8.24" fill="#f4c5ad"/>
<rect x="9.30" y="43.00" width="12.24" height="8.24" fill="#cfd9ea"/>
<rect x="21.24" y="43.00" width="8.24" height="8.24" fill="#cfd9ea"/>
<rect x="29.18" y="43.00" width="8.24" height="8.24" fill="#bfd1f2"/>
<rect x="37.12" y="43.00" width="8.24" height="8.24" fill="#e1dad6"/>
<rect x="45.07" y="43.00" width="8.24" height="8.24" fill="#f4c5ad"/>
<rect x="53.01" y="43.00" width="8.24" height="8.24" fill="#f49a7b"/>
<rect x="60.95" y="43.00" width="8.24" height="8.24" fill="#e1dad6"/>
<rect x="68.89" y="43.00" width="8.24" height="8.24" fill="#e1dad6"/>
<rect x="76.83" y="43.00" width="8.24" height="8.24" fill="#e1dad6"/>
<rect x="84.77" y="43.00" width="8.24" height="8.24" fill="#e1dad6"/>
<rect x="92.72" y="43.00" width="8.24" height="8.24" fill="#f4c5ad"/>
<rect x="100.66" y="43.00" width="12.24" height="8.24" fill="#f49a7b"/>
<rect x="9.30" y="50.94" width="12.24" height="8.24" fill="#bfd1f2"/>
<rect x="21.24" y="50.94" width="8.24" height="8.24" fill="#bfd1f2"/>
<rect x="29.18" y="50.94" width="8.24" height="8.24" fill="#e1dad6"/>
<rect x="37.12" y="50.94" width="8.24" height="8.24" fill="#f4c5ad"/>
<rect x="45.07" y="50.94" width="8.24" height="8.24" fill="#f49a7b"/>
<rect x="53.01" y="50.94" width="8.24" height="8.24" fill="#f4c5ad"/>
<rect x="60.95" y="50.94" width="8.24" height="8.24" fill="#e1dad6"/>
<rect x="68.89" y="50.94" width="8.24" height="8.24" fill="#bfd1f2"/>
<rect x="76.83" y="50.94" width="8.24" height="8.24" fill="#e1dad6"/>
<rect x="84.77" y="50.94" width="8.24" height="8.24" fill="#f4c5ad"/>
<rect x="92.72" y="50.94" width="8.24" height="8.24" fill="#f4c5ad"/>
<rect x="100.66" y="50.94" width="12.24" height="8.24" fill="#f4c5ad"/>
<rect x="9.30" y="58.88" width="12.24" height="8.24" fill="#bfd1f2"/>
<rect x="21.24" y="58.88" width="8.24" height="8.24" fill="#bfd1f2"/>
<rect x="29.18" y="58.88" width="8.24" height="8.24" fill="#e1dad6"/>
<rect x="37.12" y="58.88" width="8.24" height="8.24" fill="#e1dad6"/>
<rect x="45.07" y="58.88" width="8.24" height="8.24" fill="#f4c5ad"/>
<rect x="53.01" y="58.88" width="8.24" height="8.24" fill="#f4c5ad"/>
<rect x="60.95" y="58.88" width="8.24" height="8.24" fill="#e1dad6"/>
<rect x="68.89" y="58.88" width="8.24" height="8.24" fill="#f4c5ad"/>
<rect x="76.83" y="58.88" width="8.24" height="8.24" fill="#f4c5ad"/>
<rect x="84.77" y="58.88" width="8.24" height="8.24" fill="#e1dad6"/>
<rect x="92.72" y="58.88" width="8.24" height="8.24" fill="#e1dad6"/>
<rect x="100.66" y="58.88" width="12.24" height="8.24" fill="#f4c5ad"/>
<rect x="9.30" y="66.82" width="12.24" height="8.24" fill="#bfd1f2"/>
<rect x="21.24" y="66.82" width="8.24" height="8.24" fill="#e1dad6"/>
<rect x="29.18" y="66.82" width="8.24" height="8.24" fill="#e1dad6"/>
<rect x="37.12" y="66.82" width="8.24" height="8.24" fill="#e1dad6"/>
<rect x="45.07" y="66.82" width="8.24" height="8.24" fill="#f4c5ad"/>
<rect x="53.01" y="66.82" width="8.24" height="8.24" fill="#f4c5ad"/>
<rect x="60.95" y="66.82" width="8.24" height="8.24" fill="#f4c5ad"/>
<rect x="68.89" y="66.82" width="8.24" height="8.24" fill="#f4c5ad"/>
<rect x="76.83" y="66.82" width="8.24" height="8.24" fill="#f49a7b"/>
<rect x="84.77" y="66.82" width="8.24" height="8.24" fill="#f4c5ad"/>
<rect x="92.72" y="66.82" width="8.24" height="8.24" fill="#f4c5ad"/>
<rect x="100.66" y="66.82" width="12.24" height="8.24" fill="#f4c5ad"/>
<rect x="9.30" y="74.76" width="12.24" height="12.24" fill="#bfd1f2"/>
<rect x="21.24" y="74.76" width="8.24" height="12.24" fill="#e1dad6"/>
<rect x="29.18" y="74.76" width="8.24" height="12.24" fill="#e1dad6"/>
<rect x="37.12" y="74.76" width="8.24" height="12.24" fill="#f4c5ad"/>
<rect x="45.07" y="74.76" width="8.24" height="12.24" fill="#f4c5ad"/>
<rect x="53.01" y="74.76" width="8.24" height="12.24" fill="#f49a7b"/>
<rect x="60.95" y="74.76" width="8.24" height="12.24" fill="#f49a7b"/>
<rect x="68.89" y="74.76" width="8.24" height="12.24" fill="#f49a7b"/>
<rect x="76.83" y="74.76" width="8.24" height="12.24" fill="#f4c5ad"/>
<rect x="84.77" y="74.76" width="8.24" height="12.24" fill="#f4c5ad"/>
<rect x="92.72" y="74.76" width="8.24" height="12.24" fill="#e1dad6"/>
<rect x="100.66" y="74.76" width="12.24" height="12.24" fill="#f4c5ad"/>
<circle cx="74.4" cy="11.7" r="2" fill="#7392e7"/>
<circle cx="80" cy="18" r="1.8" fill="#7392e7"/>
<circle cx="85.7" cy="24.2" r="1.6" fill="#7392e7"/>
</g>
<polygon points="13.3,3.3 38.6,3.3 37.3,5.8 35.8,8.0 35.4,9.7 37.0,11.6 35.0,14.6 31.7,17.0 27.0,19.0 23.2,20.4 20.6,21.3 20.5,23.3 21.3,23.9 23.7,23.9 27.0,22.3 30.8,21.9 34.6,23.0 38.3,23.0 41.2,22.2 44.0,23.4 45.2,25.8 44.4,28.6 41.6,30.2 39.5,30.8 41.6,33.0 40.3,37.2 36.4,41.6 33.7,44.3 30.4,47.6 26.1,50.3 22.8,51.4 19.5,55.8 15.2,60.1 13.3,61.8" fill="#fff"/><polygon points="31.8,82.7 32.5,81 34.5,80.3 36.5,81.2 37.2,82.7" fill="#fff"/>
</g>
<rect x="13.3" y="3.3" width="95.3" height="79.4" fill="none" stroke="#8a8a8a" stroke-width="0.55"/>
<text x="11.8" y="84.90" class="t" text-anchor="end" textLength="4.5" lengthAdjust="spacingAndGlyphs">25</text>
<line x1="12.100000000000001" x2="13.3" y1="82.70" y2="82.70" stroke="#444" stroke-width="0.4"/>
<text x="11.8" y="73.56" class="t" text-anchor="end" textLength="4.5" lengthAdjust="spacingAndGlyphs">26</text>
<line x1="12.100000000000001" x2="13.3" y1="71.36" y2="71.36" stroke="#444" stroke-width="0.4"/>
<text x="11.8" y="62.21" class="t" text-anchor="end" textLength="4.5" lengthAdjust="spacingAndGlyphs">27</text>
<line x1="12.100000000000001" x2="13.3" y1="60.01" y2="60.01" stroke="#444" stroke-width="0.4"/>
<text x="11.8" y="50.87" class="t" text-anchor="end" textLength="4.5" lengthAdjust="spacingAndGlyphs">28</text>
<line x1="12.100000000000001" x2="13.3" y1="48.67" y2="48.67" stroke="#444" stroke-width="0.4"/>
<text x="11.8" y="39.53" class="t" text-anchor="end" textLength="4.5" lengthAdjust="spacingAndGlyphs">29</text>
<line x1="12.100000000000001" x2="13.3" y1="37.33" y2="37.33" stroke="#444" stroke-width="0.4"/>
<text x="11.8" y="28.19" class="t" text-anchor="end" textLength="4.5" lengthAdjust="spacingAndGlyphs">30</text>
<line x1="12.100000000000001" x2="13.3" y1="25.99" y2="25.99" stroke="#444" stroke-width="0.4"/>
<text x="11.8" y="16.84" class="t" text-anchor="end" textLength="4.5" lengthAdjust="spacingAndGlyphs">31</text>
<line x1="12.100000000000001" x2="13.3" y1="14.64" y2="14.64" stroke="#444" stroke-width="0.4"/>
<text x="11.8" y="5.50" class="t" text-anchor="end" textLength="4.5" lengthAdjust="spacingAndGlyphs">32</text>
<line x1="12.100000000000001" x2="13.3" y1="3.30" y2="3.30" stroke="#444" stroke-width="0.4"/>
<text x="13.70" y="87.70" class="t" text-anchor="middle" textLength="6.2" lengthAdjust="spacingAndGlyphs">120</text>
<line y1="82.7" y2="83.9" x1="13.30" x2="13.30" stroke="#444" stroke-width="0.4"/>
<text x="27.31" y="87.70" class="t" text-anchor="middle" textLength="6.2" lengthAdjust="spacingAndGlyphs">121</text>
<line y1="82.7" y2="83.9" x1="26.91" x2="26.91" stroke="#444" stroke-width="0.4"/>
<text x="40.93" y="87.70" class="t" text-anchor="middle" textLength="6.2" lengthAdjust="spacingAndGlyphs">122</text>
<line y1="82.7" y2="83.9" x1="40.53" x2="40.53" stroke="#444" stroke-width="0.4"/>
<text x="54.54" y="87.70" class="t" text-anchor="middle" textLength="6.2" lengthAdjust="spacingAndGlyphs">123</text>
<line y1="82.7" y2="83.9" x1="54.14" x2="54.14" stroke="#444" stroke-width="0.4"/>
<text x="68.16" y="87.70" class="t" text-anchor="middle" textLength="6.2" lengthAdjust="spacingAndGlyphs">124</text>
<line y1="82.7" y2="83.9" x1="67.76" x2="67.76" stroke="#444" stroke-width="0.4"/>
<text x="81.77" y="87.70" class="t" text-anchor="middle" textLength="6.2" lengthAdjust="spacingAndGlyphs">125</text>
<line y1="82.7" y2="83.9" x1="81.37" x2="81.37" stroke="#444" stroke-width="0.4"/>
<text x="95.39" y="87.70" class="t" text-anchor="middle" textLength="6.2" lengthAdjust="spacingAndGlyphs">126</text>
<line y1="82.7" y2="83.9" x1="94.99" x2="94.99" stroke="#444" stroke-width="0.4"/>
<text x="109.00" y="87.70" class="t" text-anchor="middle" textLength="6.2" lengthAdjust="spacingAndGlyphs">127</text>
<line y1="82.7" y2="83.9" x1="108.60" x2="108.60" stroke="#444" stroke-width="0.4"/>
<text x="61.3" y="93.2" class="al" text-anchor="middle" textLength="35.5" lengthAdjust="spacingAndGlyphs">EAST LONGITUDE(°)</text>
<text transform="translate(4.6,43.6) rotate(-90)" class="al" text-anchor="middle" textLength="36.5" lengthAdjust="spacingAndGlyphs">NORTH LATITUDE(°)</text>
<rect x="114.4" y="3.3" width="4.1" height="79.4" fill="url(#cw)"/>
<text x="120.00" y="83.65" class="t" textLength="12.5" lengthAdjust="spacingAndGlyphs">0.4500</text>
<line x1="118.5" x2="119.5" y1="82.70" y2="82.70" stroke="#444" stroke-width="0.4"/>
<text x="120.00" y="75.71" class="t" textLength="12.5" lengthAdjust="spacingAndGlyphs">0.4854</text>
<line x1="118.5" x2="119.5" y1="74.76" y2="74.76" stroke="#444" stroke-width="0.4"/>
<text x="120.00" y="67.77" class="t" textLength="12.5" lengthAdjust="spacingAndGlyphs">0.5207</text>
<line x1="118.5" x2="119.5" y1="66.82" y2="66.82" stroke="#444" stroke-width="0.4"/>
<text x="120.00" y="59.83" class="t" textLength="12.5" lengthAdjust="spacingAndGlyphs">0.5561</text>
<line x1="118.5" x2="119.5" y1="58.88" y2="58.88" stroke="#444" stroke-width="0.4"/>
<text x="120.00" y="51.89" class="t" textLength="12.5" lengthAdjust="spacingAndGlyphs">0.5914</text>
<line x1="118.5" x2="119.5" y1="50.94" y2="50.94" stroke="#444" stroke-width="0.4"/>
<text x="120.00" y="43.95" class="t" textLength="12.5" lengthAdjust="spacingAndGlyphs">0.6268</text>
<line x1="118.5" x2="119.5" y1="43.00" y2="43.00" stroke="#444" stroke-width="0.4"/>
<text x="120.00" y="36.01" class="t" textLength="12.5" lengthAdjust="spacingAndGlyphs">0.6621</text>
<line x1="118.5" x2="119.5" y1="35.06" y2="35.06" stroke="#444" stroke-width="0.4"/>
<text x="120.00" y="28.07" class="t" textLength="12.5" lengthAdjust="spacingAndGlyphs">0.6975</text>
<line x1="118.5" x2="119.5" y1="27.12" y2="27.12" stroke="#444" stroke-width="0.4"/>
<text x="120.00" y="20.13" class="t" textLength="12.5" lengthAdjust="spacingAndGlyphs">0.7328</text>
<line x1="118.5" x2="119.5" y1="19.18" y2="19.18" stroke="#444" stroke-width="0.4"/>
<text x="120.00" y="12.19" class="t" textLength="12.5" lengthAdjust="spacingAndGlyphs">0.7682</text>
<line x1="118.5" x2="119.5" y1="11.24" y2="11.24" stroke="#444" stroke-width="0.4"/>
<text transform="translate(136.4,43.8) rotate(-90)" class="al" text-anchor="middle" textLength="38" lengthAdjust="spacingAndGlyphs">SST PREDICTABILITY</text>
<text x="61" y="101.9" class="cap" text-anchor="middle" textLength="53" lengthAdjust="spacingAndGlyphs">(m) 2018~2020</text>
</g>
</svg></body></html>
